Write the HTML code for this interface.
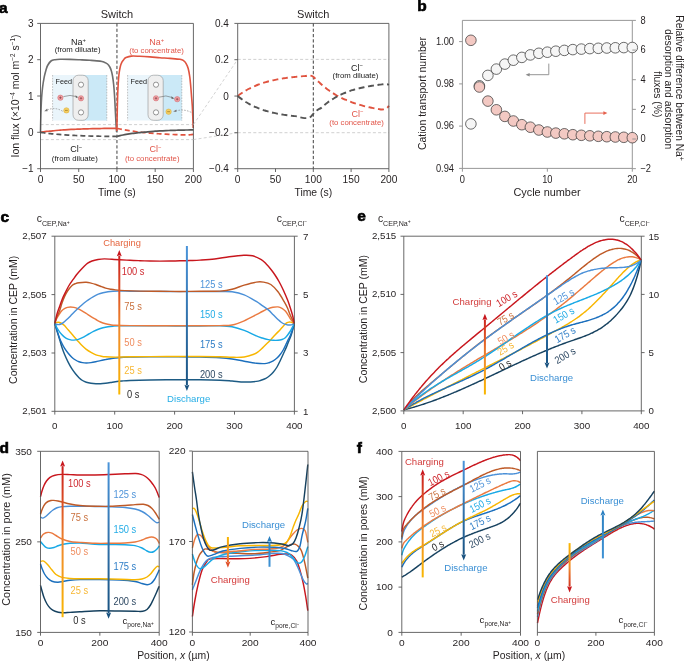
<!DOCTYPE html>
<html><head><meta charset="utf-8"><style>
html,body{margin:0;padding:0;background:#fff;}
svg{display:block;font-family:"Liberation Sans", sans-serif;will-change:transform;}
</style></head><body>
<svg width="685" height="662" viewBox="0 0 685 662">
<defs><linearGradient id="g1" gradientUnits="userSpaceOnUse" x1="119.3" y1="394.5" x2="119.3" y2="250.1"><stop offset="0" stop-color="#f9b700"/><stop offset="0.45" stop-color="#f08a2c"/><stop offset="1" stop-color="#c8161d"/></linearGradient>
<linearGradient id="g2" gradientUnits="userSpaceOnUse" x1="186.9" y1="246" x2="186.9" y2="391"><stop offset="0" stop-color="#4a94da"/><stop offset="1" stop-color="#17507e"/></linearGradient>
<linearGradient id="g3" gradientUnits="userSpaceOnUse" x1="484.9" y1="394.5" x2="484.9" y2="313.7"><stop offset="0" stop-color="#f9b700"/><stop offset="0.45" stop-color="#f08a2c"/><stop offset="1" stop-color="#c8161d"/></linearGradient>
<linearGradient id="g4" gradientUnits="userSpaceOnUse" x1="547" y1="275.3" x2="547" y2="368.6"><stop offset="0" stop-color="#4a94da"/><stop offset="1" stop-color="#17507e"/></linearGradient>
<linearGradient id="g5" gradientUnits="userSpaceOnUse" x1="62.6" y1="617.2" x2="62.6" y2="460.4"><stop offset="0" stop-color="#f9b700"/><stop offset="0.45" stop-color="#f08a2c"/><stop offset="1" stop-color="#c8161d"/></linearGradient>
<linearGradient id="g6" gradientUnits="userSpaceOnUse" x1="108.6" y1="462.3" x2="108.6" y2="618.8"><stop offset="0" stop-color="#4a94da"/><stop offset="1" stop-color="#17507e"/></linearGradient>
<linearGradient id="g7" gradientUnits="userSpaceOnUse" x1="227.9" y1="537" x2="227.9" y2="567.8"><stop offset="0" stop-color="#f9b700"/><stop offset="0.5" stop-color="#f08a2c"/><stop offset="1" stop-color="#e0502a"/></linearGradient>
<linearGradient id="g8" gradientUnits="userSpaceOnUse" x1="269.5" y1="566.8" x2="269.5" y2="535.9"><stop offset="0" stop-color="#3e92d4"/><stop offset="1" stop-color="#2a7fc0"/></linearGradient>
<linearGradient id="g9" gradientUnits="userSpaceOnUse" x1="422.7" y1="577.4" x2="422.7" y2="469.2"><stop offset="0" stop-color="#f9b700"/><stop offset="0.45" stop-color="#f08a2c"/><stop offset="1" stop-color="#c8161d"/></linearGradient>
<linearGradient id="g10" gradientUnits="userSpaceOnUse" x1="463.7" y1="460.8" x2="463.7" y2="560.5"><stop offset="0" stop-color="#4a94da"/><stop offset="1" stop-color="#17507e"/></linearGradient>
<linearGradient id="g11" gradientUnits="userSpaceOnUse" x1="569.6" y1="543.1" x2="569.6" y2="592.4"><stop offset="0" stop-color="#f9b700"/><stop offset="0.5" stop-color="#f08a2c"/><stop offset="1" stop-color="#c8161d"/></linearGradient>
<linearGradient id="g12" gradientUnits="userSpaceOnUse" x1="602.9" y1="558.4" x2="602.9" y2="509.4"><stop offset="0" stop-color="#3e92d4"/><stop offset="1" stop-color="#2a7fc0"/></linearGradient></defs>
<text x="-0.9" y="13.1" font-size="15.5" text-anchor="start" fill="#000" font-weight="bold" stroke="#000" stroke-width="0.6">a</text>
<line x1="116.95" y1="23.4" x2="116.95" y2="168.7" stroke="#2a2a2a" stroke-width="0.9" stroke-dasharray="3.2,2.1"/>
<line x1="40.5" y1="124.6" x2="193.4" y2="124.6" stroke="#c8c8c8" stroke-width="0.85" stroke-dasharray="3,2.2"/>
<line x1="40.5" y1="139.6" x2="193.4" y2="139.6" stroke="#c8c8c8" stroke-width="0.85" stroke-dasharray="3,2.2"/>
<rect x="52.6" y="75" width="54.2" height="45.5" fill="#eaf5fb"/>
<rect x="80.6" y="75" width="26.2" height="45.5" fill="#cbe9f7"/>
<line x1="52.6" y1="75" x2="52.6" y2="120.5" stroke="#9a9a9a" stroke-width="0.6" stroke-dasharray="1.6,1.2"/>
<line x1="106.8" y1="75" x2="106.8" y2="120.5" stroke="#9a9a9a" stroke-width="0.6" stroke-dasharray="1.6,1.2"/>
<rect x="73" y="75.2" width="15.2" height="45.1" rx="5.5" ry="5.5" fill="#efefef" stroke="#8a8a8a" stroke-width="0.55"/>
<text x="55.5" y="83.8" font-size="7.2" text-anchor="start" fill="#222" font-weight="normal">Feed</text>
<circle cx="81" cy="84.7" r="2.6" fill="#fff" stroke="#333" stroke-width="0.5"/>
<circle cx="81" cy="112.4" r="2.6" fill="#fff" stroke="#333" stroke-width="0.5"/>
<rect x="127.6" y="75" width="54.2" height="45.5" fill="#eaf5fb"/>
<rect x="155.6" y="75" width="26.2" height="45.5" fill="#cbe9f7"/>
<line x1="127.6" y1="75" x2="127.6" y2="120.5" stroke="#9a9a9a" stroke-width="0.6" stroke-dasharray="1.6,1.2"/>
<line x1="181.8" y1="75" x2="181.8" y2="120.5" stroke="#9a9a9a" stroke-width="0.6" stroke-dasharray="1.6,1.2"/>
<rect x="148" y="75.2" width="15.2" height="45.1" rx="5.5" ry="5.5" fill="#efefef" stroke="#8a8a8a" stroke-width="0.55"/>
<text x="130.5" y="83.8" font-size="7.2" text-anchor="start" fill="#222" font-weight="normal">Feed</text>
<circle cx="156" cy="84.7" r="2.6" fill="#fff" stroke="#333" stroke-width="0.5"/>
<circle cx="156" cy="112.4" r="2.6" fill="#fff" stroke="#333" stroke-width="0.5"/>
<circle cx="60.4" cy="97.7" r="2.65" fill="#f2a3a6" stroke="#c9555b" stroke-width="0.45"/>
<line x1="59.1" y1="97.7" x2="61.7" y2="97.7" stroke="#6a2428" stroke-width="0.5"/>
<line x1="60.4" y1="96.4" x2="60.4" y2="99" stroke="#6a2428" stroke-width="0.5"/>
<circle cx="81" cy="98.3" r="2.65" fill="#f2a3a6" stroke="#c9555b" stroke-width="0.45"/>
<line x1="79.7" y1="98.3" x2="82.3" y2="98.3" stroke="#6a2428" stroke-width="0.5"/>
<line x1="81" y1="97" x2="81" y2="99.6" stroke="#6a2428" stroke-width="0.5"/>
<circle cx="66.4" cy="110.4" r="2.7" fill="#f5cf63" stroke="#d4a32a" stroke-width="0.45"/>
<line x1="65" y1="110.4" x2="67.8" y2="110.4" stroke="#7a5a10" stroke-width="0.55"/>
<path d="M63.4,96.6 Q70,94.3 76.6,96.6" fill="none" stroke="#666" stroke-width="0.6"/>
<path d="M78.3,97.3 L75.5,95.3 L75.9,97.9 Z" fill="#666"/>
<path d="M62.6,111.2 Q55,106.5 46.5,110.2" fill="none" stroke="#777" stroke-width="0.6" stroke-dasharray="1.6,1.3"/>
<path d="M44.2,111.2 L47.2,108.6 L47.6,111.2 Z" fill="#777"/>
<circle cx="156" cy="98.3" r="2.65" fill="#f2a3a6" stroke="#c9555b" stroke-width="0.45"/>
<line x1="154.7" y1="98.3" x2="157.3" y2="98.3" stroke="#6a2428" stroke-width="0.5"/>
<line x1="156" y1="97" x2="156" y2="99.6" stroke="#6a2428" stroke-width="0.5"/>
<circle cx="177.2" cy="99.2" r="2.65" fill="#f2a3a6" stroke="#c9555b" stroke-width="0.45"/>
<line x1="175.9" y1="99.2" x2="178.5" y2="99.2" stroke="#6a2428" stroke-width="0.5"/>
<line x1="177.2" y1="97.9" x2="177.2" y2="100.5" stroke="#6a2428" stroke-width="0.5"/>
<circle cx="168.6" cy="111.7" r="2.7" fill="#f5cf63" stroke="#d4a32a" stroke-width="0.45"/>
<line x1="167.2" y1="111.7" x2="170" y2="111.7" stroke="#7a5a10" stroke-width="0.55"/>
<path d="M159,97.2 Q166,94.5 172.6,97.6" fill="none" stroke="#666" stroke-width="0.6"/>
<path d="M174.4,98.4 L171.4,96.2 L171.6,99 Z" fill="#666"/>
<path d="M191.2,112.4 Q184,108.6 175.4,111" fill="none" stroke="#777" stroke-width="0.6" stroke-dasharray="1.6,1.3"/>
<path d="M173.2,111.5 L176.4,109.4 L176.4,112.1 Z" fill="#777"/>
<path d="M40.5,132.3C40.53,130.58 40.6,126.05 40.7,122C40.8,117.95 40.95,112 41.1,108C41.25,104 41.37,101.33 41.6,98C41.83,94.67 42.07,91.47 42.5,88C42.93,84.53 43.62,80.2 44.2,77.2C44.78,74.2 45.43,71.95 46,70C46.57,68.05 46.77,67 47.6,65.5C48.43,64 49.77,61.97 51,61C52.23,60.03 53.5,59.98 55,59.7C56.5,59.42 57.5,59.35 60,59.3C62.5,59.25 66.67,59.32 70,59.4C73.33,59.48 76.67,59.65 80,59.8C83.33,59.95 86.67,60.08 90,60.3C93.33,60.52 97.63,60.78 100,61.1C102.37,61.42 102.95,61.72 104.2,62.2C105.45,62.68 106.57,63.2 107.5,64C108.43,64.8 109.15,65.83 109.8,67C110.45,68.17 110.93,69.42 111.4,71C111.87,72.58 112.23,74.33 112.6,76.5C112.97,78.67 113.28,80.92 113.6,84C113.92,87.08 114.22,90.67 114.5,95C114.78,99.33 115.05,105.17 115.3,110C115.55,114.83 115.78,120.33 116,124C116.22,127.67 116.5,130.67 116.6,132" fill="none" stroke="#6e6e6e" stroke-width="1.6" stroke-linecap="butt" stroke-linejoin="round"/>
<path d="M116.8,131C116.85,128.83 116.97,123.67 117.1,118C117.23,112.33 117.42,102.67 117.6,97C117.78,91.33 117.98,87.67 118.2,84C118.42,80.33 118.57,77.83 118.9,75C119.23,72.17 119.7,69.13 120.2,67C120.7,64.87 121.27,63.48 121.9,62.2C122.53,60.92 123.32,60.07 124,59.3C124.68,58.53 124.77,58.13 126,57.6C127.23,57.07 129.07,56.32 131.4,56.1C133.73,55.88 136.9,56.17 140,56.3C143.1,56.43 146.67,56.67 150,56.9C153.33,57.13 156.67,57.45 160,57.7C163.33,57.95 166.67,58.13 170,58.4C173.33,58.67 177.75,58.93 180,59.3C182.25,59.67 182.5,59.93 183.5,60.6C184.5,61.27 185.22,61.98 186,63.3C186.78,64.62 187.57,66.22 188.2,68.5C188.83,70.78 189.37,73.92 189.8,77C190.23,80.08 190.5,83.67 190.8,87C191.1,90.33 191.35,93.83 191.6,97C191.85,100.17 192.1,102.67 192.3,106C192.5,109.33 192.65,113.33 192.8,117C192.95,120.67 193.13,126.17 193.2,128" fill="none" stroke="#e0533f" stroke-width="1.6" stroke-linecap="butt" stroke-linejoin="round"/>
<path d="M40.5,132.3C41.01,132.23 42.54,131.99 43.56,131.85C44.58,131.71 45.6,131.58 46.62,131.45C47.64,131.33 48.65,131.21 49.67,131.1C50.69,130.98 51.71,130.88 52.73,130.78C53.75,130.67 54.77,130.58 55.79,130.49C56.81,130.4 57.83,130.31 58.85,130.23C59.87,130.15 60.89,130.08 61.91,130C62.93,129.93 63.94,129.86 64.96,129.8C65.98,129.73 67,129.67 68.02,129.62C69.04,129.56 70.06,129.5 71.08,129.45C72.1,129.4 73.12,129.35 74.14,129.3C75.16,129.26 76.18,129.21 77.2,129.17C78.22,129.13 79.23,129.09 80.25,129.05C81.27,129.02 82.29,128.98 83.31,128.95C84.33,128.92 85.35,128.88 86.37,128.86C87.39,128.83 88.41,128.8 89.43,128.77C90.45,128.74 91.47,128.72 92.49,128.7C93.51,128.67 94.52,128.65 95.54,128.63C96.56,128.61 97.58,128.59 98.6,128.57C99.62,128.55 100.64,128.53 101.66,128.51C102.68,128.5 103.7,128.48 104.72,128.46C105.74,128.45 106.76,128.44 107.78,128.42C108.8,128.41 109.81,128.39 110.83,128.38C111.85,128.37 112.87,128.36 113.89,128.35C114.91,128.34 116.44,128.32 116.95,128.32" fill="none" stroke="#e0533f" stroke-width="1.7" stroke-linecap="butt" stroke-linejoin="round"/>
<path d="M40.5,132.3C41.01,132.38 42.54,132.62 43.56,132.77C44.58,132.92 45.6,133.06 46.62,133.19C47.64,133.32 48.65,133.45 49.67,133.57C50.69,133.68 51.71,133.8 52.73,133.9C53.75,134.01 54.77,134.11 55.79,134.2C56.81,134.3 57.83,134.39 58.85,134.47C59.87,134.56 60.89,134.64 61.91,134.71C62.93,134.79 63.94,134.86 64.96,134.93C65.98,135 67,135.06 68.02,135.12C69.04,135.18 70.06,135.24 71.08,135.3C72.1,135.35 73.12,135.4 74.14,135.45C75.16,135.5 76.18,135.54 77.2,135.59C78.22,135.63 79.23,135.67 80.25,135.71C81.27,135.75 82.29,135.79 83.31,135.82C84.33,135.86 85.35,135.89 86.37,135.92C87.39,135.95 88.41,135.98 89.43,136.01C90.45,136.04 91.47,136.06 92.49,136.09C93.51,136.11 94.52,136.14 95.54,136.16C96.56,136.18 97.58,136.2 98.6,136.22C99.62,136.24 100.64,136.26 101.66,136.28C102.68,136.3 103.7,136.32 104.72,136.33C105.74,136.35 106.76,136.36 107.78,136.38C108.8,136.39 109.81,136.41 110.83,136.42C111.85,136.43 112.87,136.44 113.89,136.45C114.91,136.47 116.44,136.48 116.95,136.49" fill="none" stroke="#555" stroke-width="1.7" stroke-dasharray="5,3" stroke-linecap="butt" stroke-linejoin="round"/>
<path d="M116.95,128.38C117.46,128.49 118.99,128.82 120.01,129.03C121.03,129.23 122.05,129.43 123.07,129.62C124.09,129.81 125.1,129.99 126.12,130.16C127.14,130.33 128.16,130.5 129.18,130.66C130.2,130.82 131.22,130.97 132.24,131.11C133.26,131.26 134.28,131.39 135.3,131.53C136.32,131.66 137.34,131.78 138.36,131.91C139.38,132.03 140.39,132.14 141.41,132.25C142.43,132.36 143.45,132.47 144.47,132.57C145.49,132.67 146.51,132.77 147.53,132.86C148.55,132.96 149.57,133.04 150.59,133.13C151.61,133.21 152.63,133.29 153.65,133.37C154.67,133.45 155.68,133.52 156.7,133.59C157.72,133.67 158.74,133.73 159.76,133.8C160.78,133.86 161.8,133.93 162.82,133.99C163.84,134.04 164.86,134.1 165.88,134.16C166.9,134.21 167.92,134.26 168.94,134.31C169.96,134.36 170.97,134.41 171.99,134.45C173.01,134.5 174.03,134.54 175.05,134.59C176.07,134.63 177.09,134.67 178.11,134.71C179.13,134.74 180.15,134.78 181.17,134.81C182.19,134.85 183.21,134.88 184.23,134.91C185.25,134.95 186.26,135.04 187.28,135.01C188.3,134.98 189.32,134.82 190.34,134.73C191.36,134.63 192.89,134.49 193.4,134.44" fill="none" stroke="#e0533f" stroke-width="1.7" stroke-dasharray="5,3" stroke-linecap="butt" stroke-linejoin="round"/>
<path d="M116.95,136.29C117.46,136.18 118.99,135.82 120.01,135.6C121.03,135.38 122.05,135.17 123.07,134.98C124.09,134.78 125.1,134.59 126.12,134.42C127.14,134.24 128.16,134.07 129.18,133.91C130.2,133.75 131.22,133.6 132.24,133.46C133.26,133.31 134.28,133.18 135.3,133.05C136.32,132.92 137.34,132.79 138.36,132.68C139.38,132.56 140.39,132.45 141.41,132.35C142.43,132.24 143.45,132.14 144.47,132.05C145.49,131.95 146.51,131.86 147.53,131.78C148.55,131.69 149.57,131.61 150.59,131.54C151.61,131.46 152.63,131.39 153.65,131.32C154.67,131.25 155.68,131.19 156.7,131.12C157.72,131.06 158.74,131 159.76,130.95C160.78,130.89 161.8,130.84 162.82,130.79C163.84,130.74 164.86,130.69 165.88,130.65C166.9,130.6 167.92,130.56 168.94,130.52C169.96,130.48 170.97,130.44 171.99,130.4C173.01,130.37 174.03,130.33 175.05,130.3C176.07,130.27 177.09,130.23 178.11,130.2C179.13,130.17 180.15,130.15 181.17,130.12C182.19,130.09 183.21,130.07 184.23,130.04C185.25,130.02 186.26,130 187.28,129.98C188.3,129.95 189.32,129.93 190.34,129.91C191.36,129.89 192.89,129.87 193.4,129.86" fill="none" stroke="#555" stroke-width="1.7" stroke-linecap="butt" stroke-linejoin="round"/>
<line x1="40.5" y1="23.4" x2="193.4" y2="23.4" stroke="#4d4d4d" stroke-width="0.85"/>
<line x1="40.5" y1="168.7" x2="193.4" y2="168.7" stroke="#4d4d4d" stroke-width="0.85"/>
<line x1="40.5" y1="23.4" x2="40.5" y2="168.7" stroke="#4d4d4d" stroke-width="0.85"/>
<line x1="193.4" y1="23.4" x2="193.4" y2="168.7" stroke="#4d4d4d" stroke-width="0.85"/>
<line x1="37.2" y1="23.4" x2="40.5" y2="23.4" stroke="#4d4d4d" stroke-width="0.85"/>
<line x1="37.2" y1="59.7" x2="40.5" y2="59.7" stroke="#4d4d4d" stroke-width="0.85"/>
<line x1="37.2" y1="96" x2="40.5" y2="96" stroke="#4d4d4d" stroke-width="0.85"/>
<line x1="37.2" y1="132.3" x2="40.5" y2="132.3" stroke="#4d4d4d" stroke-width="0.85"/>
<line x1="37.2" y1="168.7" x2="40.5" y2="168.7" stroke="#4d4d4d" stroke-width="0.85"/>
<line x1="40.5" y1="168.7" x2="40.5" y2="172" stroke="#4d4d4d" stroke-width="0.85"/>
<line x1="78.72" y1="168.7" x2="78.72" y2="172" stroke="#4d4d4d" stroke-width="0.85"/>
<line x1="116.95" y1="168.7" x2="116.95" y2="172" stroke="#4d4d4d" stroke-width="0.85"/>
<line x1="155.18" y1="168.7" x2="155.18" y2="172" stroke="#4d4d4d" stroke-width="0.85"/>
<line x1="193.4" y1="168.7" x2="193.4" y2="172" stroke="#4d4d4d" stroke-width="0.85"/>
<text x="33.6" y="26.9" font-size="10.2" text-anchor="end" fill="#231f20" font-weight="normal" textLength="5.56" lengthAdjust="spacingAndGlyphs">3</text>
<text x="33.6" y="63.2" font-size="10.2" text-anchor="end" fill="#231f20" font-weight="normal" textLength="5.56" lengthAdjust="spacingAndGlyphs">2</text>
<text x="33.6" y="99.5" font-size="10.2" text-anchor="end" fill="#231f20" font-weight="normal" textLength="5.56" lengthAdjust="spacingAndGlyphs">1</text>
<text x="33.6" y="135.8" font-size="10.2" text-anchor="end" fill="#231f20" font-weight="normal" textLength="5.56" lengthAdjust="spacingAndGlyphs">0</text>
<text x="33.6" y="172.2" font-size="10.2" text-anchor="end" fill="#231f20" font-weight="normal" textLength="11.4" lengthAdjust="spacingAndGlyphs">−1</text>
<text x="40.5" y="182.7" font-size="10.2" text-anchor="middle" fill="#231f20" font-weight="normal" textLength="5.67" lengthAdjust="spacingAndGlyphs">0</text>
<text x="78.72" y="182.7" font-size="10.2" text-anchor="middle" fill="#231f20" font-weight="normal" textLength="11.35" lengthAdjust="spacingAndGlyphs">50</text>
<text x="116.95" y="182.7" font-size="10.2" text-anchor="middle" fill="#231f20" font-weight="normal" textLength="17.02" lengthAdjust="spacingAndGlyphs">100</text>
<text x="155.18" y="182.7" font-size="10.2" text-anchor="middle" fill="#231f20" font-weight="normal" textLength="17.02" lengthAdjust="spacingAndGlyphs">150</text>
<text x="193.4" y="182.7" font-size="10.2" text-anchor="middle" fill="#231f20" font-weight="normal" textLength="17.02" lengthAdjust="spacingAndGlyphs">200</text>
<text x="116.95" y="195.8" font-size="10.4" text-anchor="middle" fill="#231f20" font-weight="normal">Time (s)</text>
<text x="116.95" y="18.2" font-size="11" text-anchor="middle" fill="#231f20" font-weight="normal">Switch</text>
<text transform="translate(18.6,96) rotate(-90)" font-size="10.5" text-anchor="middle" fill="#231f20">Ion flux (×10<tspan dy="-3.3" font-size="6.3">−4</tspan><tspan dy="3.3"> mol m</tspan><tspan dy="-3.3" font-size="6.3">−2</tspan><tspan dy="3.3"> s</tspan><tspan dy="-3.3" font-size="6.3">−1</tspan><tspan dy="3.3">)</tspan></text>
<text x="78.4" y="44.7" font-size="9" text-anchor="middle" fill="#222">Na<tspan dy="-3.2" font-size="5.8">+</tspan></text>
<text x="77.6" y="52.2" font-size="7.8" text-anchor="middle" fill="#222" font-weight="normal">(from diluate)</text>
<text x="156.6" y="44.9" font-size="9" text-anchor="middle" fill="#e2564a">Na<tspan dy="-3.2" font-size="5.8">+</tspan></text>
<text x="156.6" y="52.9" font-size="7.8" text-anchor="middle" fill="#e2564a" font-weight="normal">(to concentrate)</text>
<text x="76.3" y="151.9" font-size="9" text-anchor="middle" fill="#222">Cl<tspan dy="-3.2" font-size="5.8">−</tspan></text>
<text x="74.8" y="161.2" font-size="7.8" text-anchor="middle" fill="#222" font-weight="normal">(from diluate)</text>
<text x="155.4" y="151.9" font-size="9" text-anchor="middle" fill="#e2564a">Cl<tspan dy="-3.2" font-size="5.8">−</tspan></text>
<text x="152.2" y="161.3" font-size="7.8" text-anchor="middle" fill="#e2564a" font-weight="normal">(to concentrate)</text>
<line x1="193.4" y1="124.6" x2="237.7" y2="59.4" stroke="#c8c8c8" stroke-width="0.8" stroke-dasharray="3,2.2"/>
<line x1="193.4" y1="139.6" x2="237.7" y2="132.7" stroke="#c8c8c8" stroke-width="0.8" stroke-dasharray="3,2.2"/>
<line x1="237.7" y1="59.4" x2="388.9" y2="59.4" stroke="#c8c8c8" stroke-width="0.85" stroke-dasharray="3,2.2"/>
<line x1="237.7" y1="132.7" x2="388.9" y2="132.7" stroke="#c8c8c8" stroke-width="0.85" stroke-dasharray="3,2.2"/>
<line x1="313.3" y1="23.4" x2="313.3" y2="168.7" stroke="#2a2a2a" stroke-width="0.9" stroke-dasharray="3.2,2.1"/>
<path d="M237.7,96.05C238.08,95.76 239.21,94.89 239.97,94.34C240.72,93.79 241.48,93.26 242.24,92.76C242.99,92.25 243.75,91.77 244.5,91.3C245.26,90.84 246.02,90.39 246.77,89.96C247.53,89.53 248.28,89.12 249.04,88.72C249.8,88.32 250.55,87.94 251.31,87.58C252.06,87.21 252.82,86.86 253.58,86.53C254.33,86.19 255.09,85.87 255.84,85.56C256.6,85.24 257.36,84.95 258.11,84.66C258.87,84.37 259.62,84.1 260.38,83.83C261.14,83.57 261.89,83.32 262.65,83.07C263.4,82.83 264.16,82.6 264.92,82.37C265.67,82.15 266.43,81.93 267.18,81.72C267.94,81.52 268.7,81.32 269.45,81.13C270.21,80.94 270.96,80.75 271.72,80.58C272.48,80.4 273.23,80.23 273.99,80.07C274.74,79.91 275.5,79.75 276.26,79.6C277.01,79.45 277.77,79.31 278.52,79.17C279.28,79.03 280.04,78.9 280.79,78.77C281.55,78.64 282.3,78.52 283.06,78.4C283.82,78.29 284.57,78.17 285.33,78.07C286.08,77.96 286.84,77.85 287.6,77.75C288.35,77.65 289.11,77.56 289.86,77.47C290.62,77.37 291.38,77.29 292.13,77.2C292.89,77.12 293.64,77.04 294.4,76.96C295.16,76.88 295.91,76.8 296.67,76.73C297.42,76.66 298.18,76.59 298.94,76.52C299.69,76.46 300.45,76.39 301.2,76.33C301.96,76.27 302.72,76.21 303.47,76.15C304.23,76.1 304.98,76.1 305.74,75.99C306.5,75.89 307.25,75.59 308.01,75.53C308.76,75.46 309.52,75.5 310.28,75.62C311.03,75.74 311.91,75.95 312.54,76.26C313.17,76.56 313.55,76.98 314.06,77.45C314.56,77.92 314.94,78.5 315.57,79.1C316.2,79.7 317.08,80.37 317.84,81.06C318.59,81.74 319.35,82.53 320.1,83.22C320.86,83.92 321.62,84.6 322.37,85.25C323.13,85.91 323.88,86.54 324.64,87.15C325.4,87.76 326.15,88.35 326.91,88.93C327.66,89.5 328.42,90.05 329.18,90.59C329.93,91.12 330.69,91.64 331.44,92.14C332.2,92.64 332.96,93.13 333.71,93.6C334.47,94.07 335.22,94.52 335.98,94.96C336.74,95.4 337.49,95.82 338.25,96.23C339,96.64 339.76,97.04 340.52,97.42C341.27,97.8 342.03,98.17 342.78,98.53C343.54,98.89 344.3,99.24 345.05,99.58C345.81,99.91 346.56,100.24 347.32,100.55C348.08,100.86 348.83,101.17 349.59,101.46C350.34,101.76 351.1,102.04 351.86,102.31C352.61,102.59 353.37,102.85 354.12,103.11C354.88,103.37 355.64,103.62 356.39,103.86C357.15,104.1 357.9,104.33 358.66,104.56C359.42,104.78 360.17,105 360.93,105.21C361.68,105.42 362.44,105.62 363.2,105.82C363.95,106.02 364.71,106.21 365.46,106.39C366.22,106.58 366.98,106.76 367.73,106.93C368.49,107.1 369.24,107.27 370,107.43C370.76,107.59 371.51,107.75 372.27,107.9C373.02,108.05 373.78,108.19 374.54,108.33C375.29,108.48 376.05,108.61 376.8,108.74C377.56,108.88 378.32,109 379.07,109.13C379.83,109.25 380.58,109.44 381.34,109.49C382.1,109.53 382.85,109.52 383.61,109.39C384.36,109.26 385.25,108.99 385.88,108.69C386.51,108.39 386.88,108.08 387.39,107.59C387.89,107.11 388.65,106.07 388.9,105.76" fill="none" stroke="#e0533f" stroke-width="1.9" stroke-dasharray="6,3.6" stroke-linecap="butt" stroke-linejoin="round"/>
<path d="M237.7,96.05C238.08,96.36 239.21,97.3 239.97,97.88C240.72,98.47 241.48,99.03 242.24,99.57C242.99,100.11 243.75,100.62 244.5,101.12C245.26,101.61 246.02,102.09 246.77,102.54C247.53,103 248.28,103.44 249.04,103.86C249.8,104.28 250.55,104.68 251.31,105.06C252.06,105.45 252.82,105.82 253.58,106.17C254.33,106.53 255.09,106.87 255.84,107.2C256.6,107.52 257.36,107.84 258.11,108.14C258.87,108.44 259.62,108.72 260.38,109C261.14,109.28 261.89,109.54 262.65,109.8C263.4,110.05 264.16,110.3 264.92,110.53C265.67,110.76 266.43,110.99 267.18,111.2C267.94,111.42 268.7,111.62 269.45,111.82C270.21,112.02 270.96,112.21 271.72,112.39C272.48,112.58 273.23,112.75 273.99,112.92C274.74,113.09 275.5,113.25 276.26,113.4C277.01,113.56 277.77,113.7 278.52,113.85C279.28,113.99 280.04,114.12 280.79,114.25C281.55,114.38 282.3,114.51 283.06,114.63C283.82,114.75 284.57,114.87 285.33,114.98C286.08,115.09 286.84,115.19 287.6,115.29C288.35,115.4 289.11,115.49 289.86,115.59C290.62,115.68 291.38,115.77 292.13,115.86C292.89,115.94 293.64,116.02 294.4,116.1C295.16,116.18 295.79,116.15 296.67,116.33C297.55,116.52 298.68,116.96 299.69,117.22C300.7,117.47 301.71,117.7 302.72,117.86C303.72,118.01 304.73,118.15 305.74,118.13C306.75,118.12 307.88,118.04 308.76,117.77C309.65,117.49 310.28,117.14 311.03,116.48C311.79,115.83 312.54,114.65 313.3,113.83C314.06,113 314.81,112.22 315.57,111.53C316.32,110.85 316.95,110.27 317.84,109.7C318.72,109.13 319.98,108.71 320.86,108.11C321.74,107.5 322.37,106.72 323.13,106.07C323.88,105.41 324.64,104.78 325.4,104.18C326.15,103.57 326.91,103 327.66,102.44C328.42,101.88 329.18,101.34 329.93,100.82C330.69,100.31 331.44,99.81 332.2,99.34C332.96,98.86 333.71,98.4 334.47,97.96C335.22,97.52 335.98,97.1 336.74,96.69C337.49,96.28 338.25,95.89 339,95.51C339.76,95.14 340.52,94.77 341.27,94.43C342.03,94.08 342.78,93.74 343.54,93.42C344.3,93.1 345.05,92.79 345.81,92.5C346.56,92.2 347.32,91.91 348.08,91.64C348.83,91.36 349.59,91.1 350.34,90.85C351.1,90.59 351.86,90.35 352.61,90.11C353.37,89.88 354.12,89.66 354.88,89.44C355.64,89.22 356.39,89.01 357.15,88.81C357.9,88.61 358.66,88.42 359.42,88.24C360.17,88.05 360.93,87.87 361.68,87.7C362.44,87.53 363.2,87.37 363.95,87.21C364.71,87.05 365.46,86.9 366.22,86.75C366.98,86.61 367.73,86.47 368.49,86.33C369.24,86.2 370,86.07 370.76,85.94C371.51,85.82 372.27,85.7 373.02,85.58C373.78,85.47 374.54,85.36 375.29,85.25C376.05,85.15 376.8,85.04 377.56,84.94C378.32,84.85 379.07,84.75 379.83,84.66C380.58,84.57 381.21,84.5 382.1,84.4C382.98,84.3 384.24,84.08 385.12,84.05C386,84.02 386.76,84.09 387.39,84.23C388.02,84.37 388.65,84.76 388.9,84.87" fill="none" stroke="#555" stroke-width="1.9" stroke-dasharray="6,3.6" stroke-linecap="butt" stroke-linejoin="round"/>
<line x1="237.7" y1="23.4" x2="388.9" y2="23.4" stroke="#4d4d4d" stroke-width="0.85"/>
<line x1="237.7" y1="168.7" x2="388.9" y2="168.7" stroke="#4d4d4d" stroke-width="0.85"/>
<line x1="237.7" y1="23.4" x2="237.7" y2="168.7" stroke="#4d4d4d" stroke-width="0.85"/>
<line x1="388.9" y1="23.4" x2="388.9" y2="168.7" stroke="#4d4d4d" stroke-width="0.85"/>
<line x1="234.4" y1="23.4" x2="237.7" y2="23.4" stroke="#4d4d4d" stroke-width="0.85"/>
<line x1="234.4" y1="59.7" x2="237.7" y2="59.7" stroke="#4d4d4d" stroke-width="0.85"/>
<line x1="234.4" y1="96.05" x2="237.7" y2="96.05" stroke="#4d4d4d" stroke-width="0.85"/>
<line x1="234.4" y1="132.7" x2="237.7" y2="132.7" stroke="#4d4d4d" stroke-width="0.85"/>
<line x1="234.4" y1="168.7" x2="237.7" y2="168.7" stroke="#4d4d4d" stroke-width="0.85"/>
<line x1="237.7" y1="168.7" x2="237.7" y2="172" stroke="#4d4d4d" stroke-width="0.85"/>
<line x1="275.5" y1="168.7" x2="275.5" y2="172" stroke="#4d4d4d" stroke-width="0.85"/>
<line x1="313.3" y1="168.7" x2="313.3" y2="172" stroke="#4d4d4d" stroke-width="0.85"/>
<line x1="351.1" y1="168.7" x2="351.1" y2="172" stroke="#4d4d4d" stroke-width="0.85"/>
<line x1="388.9" y1="168.7" x2="388.9" y2="172" stroke="#4d4d4d" stroke-width="0.85"/>
<text x="228.8" y="26.9" font-size="10.2" text-anchor="end" fill="#231f20" font-weight="normal" textLength="13.9" lengthAdjust="spacingAndGlyphs">0.4</text>
<text x="228.8" y="63.2" font-size="10.2" text-anchor="end" fill="#231f20" font-weight="normal" textLength="13.9" lengthAdjust="spacingAndGlyphs">0.2</text>
<text x="228.8" y="99.55" font-size="10.2" text-anchor="end" fill="#231f20" font-weight="normal" textLength="5.56" lengthAdjust="spacingAndGlyphs">0</text>
<text x="228.8" y="136.2" font-size="10.2" text-anchor="end" fill="#231f20" font-weight="normal" textLength="19.74" lengthAdjust="spacingAndGlyphs">−0.2</text>
<text x="228.8" y="172.2" font-size="10.2" text-anchor="end" fill="#231f20" font-weight="normal" textLength="19.74" lengthAdjust="spacingAndGlyphs">−0.4</text>
<text x="237.7" y="182.7" font-size="10.2" text-anchor="middle" fill="#231f20" font-weight="normal" textLength="5.67" lengthAdjust="spacingAndGlyphs">0</text>
<text x="275.5" y="182.7" font-size="10.2" text-anchor="middle" fill="#231f20" font-weight="normal" textLength="11.35" lengthAdjust="spacingAndGlyphs">50</text>
<text x="313.3" y="182.7" font-size="10.2" text-anchor="middle" fill="#231f20" font-weight="normal" textLength="17.02" lengthAdjust="spacingAndGlyphs">100</text>
<text x="351.1" y="182.7" font-size="10.2" text-anchor="middle" fill="#231f20" font-weight="normal" textLength="17.02" lengthAdjust="spacingAndGlyphs">150</text>
<text x="388.9" y="182.7" font-size="10.2" text-anchor="middle" fill="#231f20" font-weight="normal" textLength="17.02" lengthAdjust="spacingAndGlyphs">200</text>
<text x="313.3" y="195.8" font-size="10.4" text-anchor="middle" fill="#231f20" font-weight="normal">Time (s)</text>
<text x="313.3" y="18.2" font-size="11" text-anchor="middle" fill="#231f20" font-weight="normal">Switch</text>
<text x="357" y="70.6" font-size="9" text-anchor="middle" fill="#222">Cl<tspan dy="-3.2" font-size="5.8">−</tspan></text>
<text x="355.5" y="78.1" font-size="7.8" text-anchor="middle" fill="#222" font-weight="normal">(from diluate)</text>
<text x="357.5" y="116.6" font-size="9" text-anchor="middle" fill="#e2564a">Cl<tspan dy="-3.2" font-size="5.8">−</tspan></text>
<text x="356.6" y="124.9" font-size="7.8" text-anchor="middle" fill="#e2564a" font-weight="normal">(to concentrate)</text>
<text x="417.2" y="11.3" font-size="15.5" text-anchor="start" fill="#000" font-weight="bold" stroke="#000" stroke-width="0.6">b</text>
<line x1="462.4" y1="20.4" x2="632.3" y2="20.4" stroke="#8c8c8c" stroke-width="0.9"/>
<line x1="462.4" y1="168.4" x2="632.3" y2="168.4" stroke="#8c8c8c" stroke-width="0.9"/>
<line x1="462.4" y1="20.4" x2="462.4" y2="168.4" stroke="#8c8c8c" stroke-width="0.9"/>
<line x1="632.3" y1="20.4" x2="632.3" y2="168.4" stroke="#8c8c8c" stroke-width="0.9"/>
<circle cx="470.89" cy="123.9" r="5.3" fill="#f6f6f6" stroke="#2e2e2e" stroke-width="0.7"/>
<circle cx="479.39" cy="85.8" r="5.3" fill="#f6f6f6" stroke="#2e2e2e" stroke-width="0.7"/>
<circle cx="487.88" cy="75.4" r="5.3" fill="#f6f6f6" stroke="#2e2e2e" stroke-width="0.7"/>
<circle cx="496.38" cy="69.1" r="5.3" fill="#f6f6f6" stroke="#2e2e2e" stroke-width="0.7"/>
<circle cx="504.88" cy="64.1" r="5.3" fill="#f6f6f6" stroke="#2e2e2e" stroke-width="0.7"/>
<circle cx="513.37" cy="60.2" r="5.3" fill="#f6f6f6" stroke="#2e2e2e" stroke-width="0.7"/>
<circle cx="521.87" cy="57.4" r="5.3" fill="#f6f6f6" stroke="#2e2e2e" stroke-width="0.7"/>
<circle cx="530.36" cy="54.9" r="5.3" fill="#f6f6f6" stroke="#2e2e2e" stroke-width="0.7"/>
<circle cx="538.86" cy="53.3" r="5.3" fill="#f6f6f6" stroke="#2e2e2e" stroke-width="0.7"/>
<circle cx="547.35" cy="52.2" r="5.3" fill="#f6f6f6" stroke="#2e2e2e" stroke-width="0.7"/>
<circle cx="555.84" cy="51.2" r="5.3" fill="#f6f6f6" stroke="#2e2e2e" stroke-width="0.7"/>
<circle cx="564.34" cy="50.4" r="5.3" fill="#f6f6f6" stroke="#2e2e2e" stroke-width="0.7"/>
<circle cx="572.83" cy="49.6" r="5.3" fill="#f6f6f6" stroke="#2e2e2e" stroke-width="0.7"/>
<circle cx="581.33" cy="49.1" r="5.3" fill="#f6f6f6" stroke="#2e2e2e" stroke-width="0.7"/>
<circle cx="589.82" cy="48.6" r="5.3" fill="#f6f6f6" stroke="#2e2e2e" stroke-width="0.7"/>
<circle cx="598.32" cy="48.3" r="5.3" fill="#f6f6f6" stroke="#2e2e2e" stroke-width="0.7"/>
<circle cx="606.81" cy="48" r="5.3" fill="#f6f6f6" stroke="#2e2e2e" stroke-width="0.7"/>
<circle cx="615.31" cy="47.8" r="5.3" fill="#f6f6f6" stroke="#2e2e2e" stroke-width="0.7"/>
<circle cx="623.8" cy="47.6" r="5.3" fill="#f6f6f6" stroke="#2e2e2e" stroke-width="0.7"/>
<circle cx="632.3" cy="47.5" r="5.3" fill="#f6f6f6" stroke="#2e2e2e" stroke-width="0.7"/>
<circle cx="470.89" cy="40.3" r="5.3" fill="#f3c9c3" stroke="#2e2e2e" stroke-width="0.7"/>
<circle cx="479.39" cy="87" r="5.3" fill="#f3c9c3" stroke="#2e2e2e" stroke-width="0.7"/>
<circle cx="487.88" cy="101.1" r="5.3" fill="#f3c9c3" stroke="#2e2e2e" stroke-width="0.7"/>
<circle cx="496.38" cy="109.8" r="5.3" fill="#f3c9c3" stroke="#2e2e2e" stroke-width="0.7"/>
<circle cx="504.88" cy="116.4" r="5.3" fill="#f3c9c3" stroke="#2e2e2e" stroke-width="0.7"/>
<circle cx="513.37" cy="121" r="5.3" fill="#f3c9c3" stroke="#2e2e2e" stroke-width="0.7"/>
<circle cx="521.87" cy="124.7" r="5.3" fill="#f3c9c3" stroke="#2e2e2e" stroke-width="0.7"/>
<circle cx="530.36" cy="127.2" r="5.3" fill="#f3c9c3" stroke="#2e2e2e" stroke-width="0.7"/>
<circle cx="538.86" cy="130" r="5.3" fill="#f3c9c3" stroke="#2e2e2e" stroke-width="0.7"/>
<circle cx="547.35" cy="132" r="5.3" fill="#f3c9c3" stroke="#2e2e2e" stroke-width="0.7"/>
<circle cx="555.84" cy="133.1" r="5.3" fill="#f3c9c3" stroke="#2e2e2e" stroke-width="0.7"/>
<circle cx="564.34" cy="133.8" r="5.3" fill="#f3c9c3" stroke="#2e2e2e" stroke-width="0.7"/>
<circle cx="572.83" cy="134.7" r="5.3" fill="#f3c9c3" stroke="#2e2e2e" stroke-width="0.7"/>
<circle cx="581.33" cy="135.3" r="5.3" fill="#f3c9c3" stroke="#2e2e2e" stroke-width="0.7"/>
<circle cx="589.82" cy="135.8" r="5.3" fill="#f3c9c3" stroke="#2e2e2e" stroke-width="0.7"/>
<circle cx="598.32" cy="136.3" r="5.3" fill="#f3c9c3" stroke="#2e2e2e" stroke-width="0.7"/>
<circle cx="606.81" cy="136.7" r="5.3" fill="#f3c9c3" stroke="#2e2e2e" stroke-width="0.7"/>
<circle cx="615.31" cy="137" r="5.3" fill="#f3c9c3" stroke="#2e2e2e" stroke-width="0.7"/>
<circle cx="623.8" cy="137.3" r="5.3" fill="#f3c9c3" stroke="#2e2e2e" stroke-width="0.7"/>
<circle cx="632.3" cy="137.7" r="5.3" fill="#f3c9c3" stroke="#2e2e2e" stroke-width="0.7"/>
<line x1="459.1" y1="41.6" x2="462.4" y2="41.6" stroke="#8c8c8c" stroke-width="0.9"/>
<line x1="459.1" y1="83.9" x2="462.4" y2="83.9" stroke="#8c8c8c" stroke-width="0.9"/>
<line x1="459.1" y1="126.1" x2="462.4" y2="126.1" stroke="#8c8c8c" stroke-width="0.9"/>
<line x1="459.1" y1="168.4" x2="462.4" y2="168.4" stroke="#8c8c8c" stroke-width="0.9"/>
<text x="454" y="44.8" font-size="10.04" text-anchor="end" fill="#231f20" font-weight="normal" textLength="18.1" lengthAdjust="spacingAndGlyphs">1.00</text>
<text x="454" y="87.1" font-size="10.04" text-anchor="end" fill="#231f20" font-weight="normal" textLength="18.1" lengthAdjust="spacingAndGlyphs">0.98</text>
<text x="454" y="129.3" font-size="10.04" text-anchor="end" fill="#231f20" font-weight="normal" textLength="18.1" lengthAdjust="spacingAndGlyphs">0.96</text>
<text x="454" y="171.6" font-size="10.04" text-anchor="end" fill="#231f20" font-weight="normal" textLength="18.1" lengthAdjust="spacingAndGlyphs">0.94</text>
<line x1="632.3" y1="20.4" x2="635.9" y2="20.4" stroke="#8c8c8c" stroke-width="0.9"/>
<line x1="632.3" y1="50.05" x2="635.9" y2="50.05" stroke="#8c8c8c" stroke-width="0.9"/>
<line x1="632.3" y1="79.7" x2="635.9" y2="79.7" stroke="#8c8c8c" stroke-width="0.9"/>
<line x1="632.3" y1="109.35" x2="635.9" y2="109.35" stroke="#8c8c8c" stroke-width="0.9"/>
<line x1="632.3" y1="139" x2="635.9" y2="139" stroke="#8c8c8c" stroke-width="0.9"/>
<line x1="632.3" y1="168.65" x2="635.9" y2="168.65" stroke="#8c8c8c" stroke-width="0.9"/>
<text x="640.4" y="23.6" font-size="10.04" text-anchor="start" fill="#231f20" font-weight="normal" textLength="5.17" lengthAdjust="spacingAndGlyphs">8</text>
<text x="640.4" y="53.25" font-size="10.04" text-anchor="start" fill="#231f20" font-weight="normal" textLength="5.17" lengthAdjust="spacingAndGlyphs">6</text>
<text x="640.4" y="82.9" font-size="10.04" text-anchor="start" fill="#231f20" font-weight="normal" textLength="5.17" lengthAdjust="spacingAndGlyphs">4</text>
<text x="640.4" y="112.55" font-size="10.04" text-anchor="start" fill="#231f20" font-weight="normal" textLength="5.17" lengthAdjust="spacingAndGlyphs">2</text>
<text x="640.4" y="142.2" font-size="10.04" text-anchor="start" fill="#231f20" font-weight="normal" textLength="5.17" lengthAdjust="spacingAndGlyphs">0</text>
<text x="640.4" y="171.85" font-size="10.04" text-anchor="start" fill="#231f20" font-weight="normal" textLength="10.6" lengthAdjust="spacingAndGlyphs">−2</text>
<line x1="462.4" y1="168.4" x2="462.4" y2="171.7" stroke="#8c8c8c" stroke-width="0.9"/>
<line x1="547.35" y1="168.4" x2="547.35" y2="171.7" stroke="#8c8c8c" stroke-width="0.9"/>
<line x1="632.3" y1="168.4" x2="632.3" y2="171.7" stroke="#8c8c8c" stroke-width="0.9"/>
<text x="462.4" y="182.6" font-size="10.04" text-anchor="middle" fill="#231f20" font-weight="normal" textLength="5.17" lengthAdjust="spacingAndGlyphs">0</text>
<text x="547.35" y="182.6" font-size="10.04" text-anchor="middle" fill="#231f20" font-weight="normal" textLength="10.34" lengthAdjust="spacingAndGlyphs">10</text>
<text x="632.3" y="182.6" font-size="10.04" text-anchor="middle" fill="#231f20" font-weight="normal" textLength="10.34" lengthAdjust="spacingAndGlyphs">20</text>
<text x="547" y="196.3" font-size="10.9" text-anchor="middle" fill="#231f20" font-weight="normal">Cycle number</text>
<text x="426.4" y="93.5" font-size="10.5" text-anchor="middle" fill="#231f20" font-weight="normal" transform="rotate(-90 426.4 93.5)">Cation transport number</text>
<text transform="translate(675.8,88.0) rotate(90)" font-size="10.2" text-anchor="middle" fill="#231f20">Relative difference between Na<tspan dy="-3.2" font-size="6.8">+</tspan></text>
<text x="0" y="0" font-size="10.4" text-anchor="middle" fill="#231f20" font-weight="normal" transform="translate(664.8,89.1) rotate(90)">desorption and adsorption</text>
<text x="0" y="0" font-size="10.4" text-anchor="middle" fill="#231f20" font-weight="normal" transform="translate(654.3,94.4) rotate(90)">fluxes (%)</text>
<path d="M548.8,63.6 V74.7 H528.5" fill="none" stroke="#8a8a8a" stroke-width="0.9"/>
<path d="M525.6,74.7 L529.6,72.9 L529.6,76.5 Z" fill="#8a8a8a"/>
<path d="M584.9,123.9 V113.1 H604.5" fill="none" stroke="#e5604c" stroke-width="0.9"/>
<path d="M607.4,113.1 L603.4,111.3 L603.4,114.9 Z" fill="#e5604c"/>
<text x="0.4" y="221.6" font-size="15.5" text-anchor="start" fill="#000" font-weight="bold" stroke="#000" stroke-width="0.6">c</text>
<path d="M54.8,323.3C55.17,324.58 56.18,328.27 57,331C57.82,333.73 58.87,336.95 59.7,339.7C60.53,342.45 61.2,345.08 62,347.5C62.8,349.92 63.5,351.82 64.5,354.2C65.5,356.58 66.78,359.38 68,361.8C69.22,364.22 70.55,366.7 71.8,368.7C73.05,370.7 74.3,372.3 75.5,373.8C76.7,375.3 77.83,376.58 79,377.7C80.17,378.82 81.28,379.75 82.5,380.5C83.72,381.25 84.88,381.73 86.3,382.2C87.72,382.67 89.4,383.03 91,383.3C92.6,383.57 94.32,383.73 95.9,383.8C97.48,383.87 98.88,383.8 100.5,383.7C102.12,383.6 103.93,383.4 105.6,383.2C107.27,383 108.88,382.75 110.5,382.5C112.12,382.25 113.38,381.95 115.3,381.7C117.22,381.45 119.55,381.2 122,381C124.45,380.8 125.33,380.67 130,380.5C134.67,380.33 142.5,380.12 150,380C157.5,379.88 166.67,379.83 175,379.8C183.33,379.77 192.5,379.73 200,379.8C207.5,379.87 214.65,380 220,380.2C225.35,380.4 228.07,380.7 232.1,381C236.13,381.3 240.17,381.93 244.2,382C248.23,382.07 253.5,381.7 256.3,381.4C259.1,381.1 259.4,380.72 261,380.2C262.6,379.68 264.47,379.03 265.9,378.3C267.33,377.57 268.38,376.8 269.6,375.8C270.82,374.8 271.97,373.77 273.2,372.3C274.43,370.83 275.8,369.02 277,367C278.2,364.98 279.32,362.45 280.4,360.2C281.48,357.95 282.48,355.72 283.5,353.5C284.52,351.28 285.58,349.07 286.5,346.9C287.42,344.73 288.2,342.52 289,340.5C289.8,338.48 290.4,337.63 291.3,334.8C292.2,331.97 293.88,325.38 294.4,323.5" fill="none" stroke="#1d5b84" stroke-width="1.45" stroke-linecap="butt" stroke-linejoin="round"/>
<path d="M54.8,323.3C55.17,324.5 56.18,327.97 57,330.5C57.82,333.03 58.87,336.33 59.7,338.5C60.53,340.67 61.2,341.9 62,343.5C62.8,345.1 63.5,346.52 64.5,348.1C65.5,349.68 66.78,351.48 68,353C69.22,354.52 70.55,356.03 71.8,357.2C73.05,358.37 74.3,359.25 75.5,360C76.7,360.75 77.83,361.27 79,361.7C80.17,362.13 81.28,362.4 82.5,362.6C83.72,362.8 84.88,362.9 86.3,362.9C87.72,362.9 89.4,362.8 91,362.6C92.6,362.4 94.32,362.03 95.9,361.7C97.48,361.37 98.88,360.95 100.5,360.6C102.12,360.25 103.93,359.92 105.6,359.6C107.27,359.28 108.88,358.97 110.5,358.7C112.12,358.43 112.05,358.28 115.3,358C118.55,357.72 124.22,357.22 130,357C135.78,356.78 142.5,356.73 150,356.7C157.5,356.67 166.67,356.73 175,356.8C183.33,356.87 192.5,356.93 200,357.1C207.5,357.27 214.65,357.48 220,357.8C225.35,358.12 228.07,358.43 232.1,359C236.13,359.57 240.17,360.5 244.2,361.2C248.23,361.9 252.88,362.8 256.3,363.2C259.72,363.6 262.58,363.68 264.7,363.6C266.82,363.52 267.58,363.17 269,362.7C270.42,362.23 271.87,361.58 273.2,360.8C274.53,360.02 275.8,359.1 277,358C278.2,356.9 279.32,355.62 280.4,354.2C281.48,352.78 282.48,351.32 283.5,349.5C284.52,347.68 285.67,345.05 286.5,343.3C287.33,341.55 287.9,340.22 288.5,339C289.1,337.78 289.48,337.42 290.1,336C290.72,334.58 291.48,332.58 292.2,330.5C292.92,328.42 294.03,324.67 294.4,323.5" fill="none" stroke="#1b6fbd" stroke-width="1.45" stroke-linecap="butt" stroke-linejoin="round"/>
<path d="M54.8,323.3C55,323.18 55.47,322.77 56,322.6C56.53,322.43 57.38,322.32 58,322.3C58.62,322.28 59.03,322.28 59.7,322.5C60.37,322.72 61.2,323.08 62,323.6C62.8,324.12 63.48,324.57 64.5,325.6C65.52,326.63 66.88,328.4 68.1,329.8C69.32,331.2 70.65,332.67 71.8,334C72.95,335.33 74,336.65 75,337.8C76,338.95 76.63,339.62 77.8,340.9C78.97,342.18 80.58,344.1 82,345.5C83.42,346.9 84.8,348.17 86.3,349.3C87.8,350.43 89.4,351.38 91,352.3C92.6,353.22 94.32,354.18 95.9,354.8C97.48,355.42 98.88,355.67 100.5,356C102.12,356.33 103.13,356.62 105.6,356.8C108.07,356.98 111.23,357.1 115.3,357.1C119.37,357.1 124.22,356.88 130,356.8C135.78,356.72 142.5,356.65 150,356.6C157.5,356.55 166.67,356.52 175,356.5C183.33,356.48 192.5,356.47 200,356.5C207.5,356.53 214.65,356.57 220,356.7C225.35,356.83 228.07,357.25 232.1,357.3C236.13,357.35 240.58,357.52 244.2,357C247.82,356.48 251.42,355.12 253.8,354.2C256.18,353.28 257.08,352.52 258.5,351.5C259.92,350.48 260.97,349.35 262.3,348.1C263.63,346.85 265.08,345.4 266.5,344C267.92,342.6 269.3,341.28 270.8,339.7C272.3,338.12 273.9,336.2 275.5,334.5C277.1,332.8 279.15,330.85 280.4,329.5C281.65,328.15 282.18,327.32 283,326.4C283.82,325.48 284.6,324.63 285.3,324C286,323.37 286.6,322.92 287.2,322.6C287.8,322.28 288.35,322.18 288.9,322.1C289.45,322.02 290,322.03 290.5,322.1C291,322.17 291.25,322.27 291.9,322.5C292.55,322.73 293.98,323.33 294.4,323.5" fill="none" stroke="#f8b600" stroke-width="1.45" stroke-linecap="butt" stroke-linejoin="round"/>
<path d="M54.8,323.3C55.08,323.92 55.88,325.82 56.5,327C57.12,328.18 57.67,329.2 58.5,330.4C59.33,331.6 60.5,333.08 61.5,334.2C62.5,335.32 63.42,336.27 64.5,337.1C65.58,337.93 66.78,338.7 68,339.2C69.22,339.7 70.55,339.98 71.8,340.1C73.05,340.22 74.3,340.07 75.5,339.9C76.7,339.73 77.58,339.62 79,339.1C80.42,338.58 82.38,337.65 84,336.8C85.62,335.95 87.12,334.92 88.7,334C90.28,333.08 91.9,332.1 93.5,331.3C95.1,330.5 96.72,329.78 98.3,329.2C99.88,328.62 101.38,328.2 103,327.8C104.62,327.4 106.33,327.07 108,326.8C109.67,326.53 111.18,326.37 113,326.2C114.82,326.03 116.07,325.88 118.9,325.8C121.73,325.72 124.82,325.7 130,325.7C135.18,325.7 142.5,325.77 150,325.8C157.5,325.83 166.67,325.88 175,325.9C183.33,325.92 192.5,325.92 200,325.9C207.5,325.88 214.65,325.65 220,325.8C225.35,325.95 228.07,326.03 232.1,326.8C236.13,327.57 240.17,328.88 244.2,330.4C248.23,331.92 253.28,334.63 256.3,335.9C259.32,337.17 260.3,337.38 262.3,338C264.3,338.62 266.48,339.22 268.3,339.6C270.12,339.98 271.58,340.18 273.2,340.3C274.82,340.42 276.53,340.43 278,340.3C279.47,340.17 280.78,339.93 282,339.5C283.22,339.07 284.3,338.53 285.3,337.7C286.3,336.87 287.2,335.53 288,334.5C288.8,333.47 289.55,332.35 290.1,331.5C290.65,330.65 290.85,330.23 291.3,329.4C291.75,328.57 292.28,327.48 292.8,326.5C293.32,325.52 294.13,324 294.4,323.5" fill="none" stroke="#18a9e6" stroke-width="1.45" stroke-linecap="butt" stroke-linejoin="round"/>
<path d="M54.8,323.3C55.17,322.42 56.18,319.63 57,318C57.82,316.37 58.87,314.73 59.7,313.5C60.53,312.27 61.2,311.4 62,310.6C62.8,309.8 63.58,309.23 64.5,308.7C65.42,308.17 66.5,307.7 67.5,307.4C68.5,307.1 69.42,306.9 70.5,306.9C71.58,306.9 72.78,307.1 74,307.4C75.22,307.7 76.47,308.13 77.8,308.7C79.13,309.27 80.58,310 82,310.8C83.42,311.6 84.8,312.52 86.3,313.5C87.8,314.48 89.4,315.7 91,316.7C92.6,317.7 94.32,318.62 95.9,319.5C97.48,320.38 98.88,321.28 100.5,322C102.12,322.72 103.93,323.33 105.6,323.8C107.27,324.27 108.88,324.55 110.5,324.8C112.12,325.05 112.05,325.17 115.3,325.3C118.55,325.43 124.22,325.53 130,325.6C135.78,325.67 142.5,325.68 150,325.7C157.5,325.72 166.67,325.7 175,325.7C183.33,325.7 192.5,325.72 200,325.7C207.5,325.68 214.65,325.72 220,325.6C225.35,325.48 228.07,325.8 232.1,325C236.13,324.2 240.17,322.52 244.2,320.8C248.23,319.08 253.28,316.25 256.3,314.7C259.32,313.15 260.3,312.5 262.3,311.5C264.3,310.5 266.52,309.4 268.3,308.7C270.08,308 271.38,307.6 273,307.3C274.62,307 276.5,306.73 278,306.9C279.5,307.07 280.78,307.6 282,308.3C283.22,309 284.3,310.02 285.3,311.1C286.3,312.18 287.2,313.6 288,314.8C288.8,316 289.38,317.22 290.1,318.3C290.82,319.38 291.58,320.43 292.3,321.3C293.02,322.17 294.05,323.13 294.4,323.5" fill="none" stroke="#ea7a40" stroke-width="1.45" stroke-linecap="butt" stroke-linejoin="round"/>
<path d="M54.8,323.3C55.08,323.47 55.88,324.08 56.5,324.3C57.12,324.52 57.75,324.65 58.5,324.6C59.25,324.55 60.2,324.33 61,324C61.8,323.67 62.38,323.3 63.3,322.6C64.22,321.9 65.3,320.92 66.5,319.8C67.7,318.68 69.17,317.23 70.5,315.9C71.83,314.57 73.08,313.2 74.5,311.8C75.92,310.4 77.45,308.93 79,307.5C80.55,306.07 82.18,304.52 83.8,303.2C85.42,301.88 87.08,300.7 88.7,299.6C90.32,298.5 91.9,297.5 93.5,296.6C95.1,295.7 96.72,294.83 98.3,294.2C99.88,293.57 101.38,293.2 103,292.8C104.62,292.4 106.33,292.05 108,291.8C109.67,291.55 111.18,291.42 113,291.3C114.82,291.18 116.07,291.12 118.9,291.1C121.73,291.08 124.82,291.15 130,291.2C135.18,291.25 142.5,291.33 150,291.4C157.5,291.47 166.67,291.57 175,291.6C183.33,291.63 192.5,291.62 200,291.6C207.5,291.58 214.65,291.47 220,291.5C225.35,291.53 228.07,291.25 232.1,291.8C236.13,292.35 240.17,293.2 244.2,294.8C248.23,296.4 253.28,299.6 256.3,301.4C259.32,303.2 260.3,304.18 262.3,305.6C264.3,307.02 266.48,308.38 268.3,309.9C270.12,311.42 271.58,313.1 273.2,314.7C274.82,316.3 276.62,318.2 278,319.5C279.38,320.8 280.28,321.68 281.5,322.5C282.72,323.32 284.22,323.98 285.3,324.4C286.38,324.82 287.2,324.9 288,325C288.8,325.1 289.38,325.07 290.1,325C290.82,324.93 291.58,324.85 292.3,324.6C293.02,324.35 294.05,323.68 294.4,323.5" fill="none" stroke="#4a90d8" stroke-width="1.45" stroke-linecap="butt" stroke-linejoin="round"/>
<path d="M54.8,323.3C55.08,322.42 55.68,320.13 56.5,318C57.32,315.87 58.78,313 59.7,310.5C60.62,308 61.2,305.32 62,303C62.8,300.68 63.58,298.6 64.5,296.6C65.42,294.6 66.28,292.82 67.5,291C68.72,289.18 70.47,286.93 71.8,285.7C73.13,284.47 74.3,284.1 75.5,283.6C76.7,283.1 77.2,282.92 79,282.7C80.8,282.48 84.3,282.23 86.3,282.3C88.3,282.37 89.4,282.73 91,283.1C92.6,283.47 94.32,283.97 95.9,284.5C97.48,285.03 98.88,285.7 100.5,286.3C102.12,286.9 103.93,287.62 105.6,288.1C107.27,288.58 108.88,288.9 110.5,289.2C112.12,289.5 112.9,289.67 115.3,289.9C117.7,290.13 120.78,290.4 124.9,290.6C129.02,290.8 134.15,290.98 140,291.1C145.85,291.22 153.33,291.25 160,291.3C166.67,291.35 173.33,291.4 180,291.4C186.67,291.4 193.33,291.35 200,291.3C206.67,291.25 214.65,291.43 220,291.1C225.35,290.77 228.07,290.3 232.1,289.3C236.13,288.3 240.17,286.3 244.2,285.1C248.23,283.9 253.08,282.6 256.3,282.1C259.52,281.6 261.08,281.7 263.5,282.1C265.92,282.5 268.38,282.88 270.8,284.5C273.22,286.12 275.8,288.98 278,291.8C280.2,294.62 282.42,298.7 284,301.4C285.58,304.1 286.48,305.78 287.5,308C288.52,310.22 288.95,312.12 290.1,314.7C291.25,317.28 293.68,322.03 294.4,323.5" fill="none" stroke="#bf5a27" stroke-width="1.45" stroke-linecap="butt" stroke-linejoin="round"/>
<path d="M54.8,323.3C55.17,321.75 56.18,316.83 57,314C57.82,311.17 58.78,308.88 59.7,306.3C60.62,303.72 61.5,300.92 62.5,298.5C63.5,296.08 64.62,293.97 65.7,291.8C66.78,289.63 67.78,287.52 69,285.5C70.22,283.48 71.75,281.48 73,279.7C74.25,277.92 75.3,276.33 76.5,274.8C77.7,273.27 78.95,271.88 80.2,270.5C81.45,269.12 82.75,267.72 84,266.5C85.25,265.28 86.37,264.12 87.7,263.2C89.03,262.28 90.28,261.62 92,261C93.72,260.38 95.95,259.85 98,259.5C100.05,259.15 101.97,258.93 104.3,258.9C106.63,258.87 109.38,259.17 112,259.3C114.62,259.43 117,259.53 120,259.7C123,259.87 126.67,260.13 130,260.3C133.33,260.47 136.67,260.58 140,260.7C143.33,260.82 146.67,260.93 150,261C153.33,261.07 156.67,261.1 160,261.1C163.33,261.1 166.67,261.05 170,261C173.33,260.95 176.67,260.88 180,260.8C183.33,260.72 186.67,260.62 190,260.5C193.33,260.38 195.9,260.35 200,260.1C204.1,259.85 209.73,259.55 214.6,259C219.47,258.45 224.33,257.42 229.2,256.8C234.07,256.18 239.9,255.47 243.8,255.3C247.7,255.13 249.68,255.07 252.6,255.8C255.52,256.53 259.07,258.37 261.3,259.7C263.53,261.03 264.38,262.17 266,263.8C267.62,265.43 269.5,267.63 271,269.5C272.5,271.37 273.67,273 275,275C276.33,277 277.58,278.92 279,281.5C280.42,284.08 282.07,287.4 283.5,290.5C284.93,293.6 286.43,297.1 287.6,300.1C288.77,303.1 289.67,305.93 290.5,308.5C291.33,311.07 291.95,313 292.6,315.5C293.25,318 294.1,322.17 294.4,323.5" fill="none" stroke="#c8161d" stroke-width="1.45" stroke-linecap="butt" stroke-linejoin="round"/>
<line x1="119.3" y1="394.5" x2="119.3" y2="255.8" stroke="url(#g1)" stroke-width="2.0"/>
<path d="M119.3,250.1 L116.8,256.3 L119.3,255.3 L121.8,256.3 Z" fill="#c8161d"/>
<line x1="186.9" y1="246" x2="186.9" y2="385.3" stroke="url(#g2)" stroke-width="2.0"/>
<path d="M186.9,391 L184.4,384.8 L186.9,385.8 L189.4,384.8 Z" fill="#17507e"/>
<text x="103.2" y="245.5" font-size="9.3" text-anchor="start" fill="#e5663f" font-weight="normal">Charging</text>
<text x="188.7" y="402" font-size="9.6" text-anchor="middle" fill="#27aee6" font-weight="normal">Discharge</text>
<text x="133.1" y="275.3" font-size="10.7" text-anchor="middle" fill="#cf2a30" font-weight="normal" textLength="22.75" lengthAdjust="spacingAndGlyphs">100 s</text>
<text x="133.1" y="310.1" font-size="10.7" text-anchor="middle" fill="#c9703c" font-weight="normal" textLength="17.58" lengthAdjust="spacingAndGlyphs">75 s</text>
<text x="133.1" y="345.5" font-size="10.7" text-anchor="middle" fill="#ef8d5f" font-weight="normal" textLength="17.58" lengthAdjust="spacingAndGlyphs">50 s</text>
<text x="133.1" y="373.8" font-size="10.7" text-anchor="middle" fill="#f7b733" font-weight="normal" textLength="17.58" lengthAdjust="spacingAndGlyphs">25 s</text>
<text x="133.1" y="397.9" font-size="10.7" text-anchor="middle" fill="#2a2a2a" font-weight="normal" textLength="12.41" lengthAdjust="spacingAndGlyphs">0 s</text>
<text x="211.3" y="287.8" font-size="10.7" text-anchor="middle" fill="#4d93d9" font-weight="normal" textLength="22.75" lengthAdjust="spacingAndGlyphs">125 s</text>
<text x="211.3" y="317.6" font-size="10.7" text-anchor="middle" fill="#23ace6" font-weight="normal" textLength="22.75" lengthAdjust="spacingAndGlyphs">150 s</text>
<text x="211.3" y="348" font-size="10.7" text-anchor="middle" fill="#2c7cc6" font-weight="normal" textLength="22.75" lengthAdjust="spacingAndGlyphs">175 s</text>
<text x="211.3" y="377.7" font-size="10.7" text-anchor="middle" fill="#2e4963" font-weight="normal" textLength="22.75" lengthAdjust="spacingAndGlyphs">200 s</text>
<line x1="54.8" y1="236.2" x2="294.4" y2="236.2" stroke="#4d4d4d" stroke-width="0.85"/>
<line x1="54.8" y1="411.3" x2="294.4" y2="411.3" stroke="#4d4d4d" stroke-width="0.85"/>
<line x1="54.8" y1="236.2" x2="54.8" y2="411.3" stroke="#4d4d4d" stroke-width="0.85"/>
<line x1="294.4" y1="236.2" x2="294.4" y2="411.3" stroke="#4d4d4d" stroke-width="0.85"/>
<line x1="51.5" y1="236.2" x2="54.8" y2="236.2" stroke="#4d4d4d" stroke-width="0.85"/>
<line x1="51.5" y1="294.6" x2="54.8" y2="294.6" stroke="#4d4d4d" stroke-width="0.85"/>
<line x1="51.5" y1="353" x2="54.8" y2="353" stroke="#4d4d4d" stroke-width="0.85"/>
<line x1="51.5" y1="411.3" x2="54.8" y2="411.3" stroke="#4d4d4d" stroke-width="0.85"/>
<line x1="294.4" y1="236.2" x2="297.7" y2="236.2" stroke="#4d4d4d" stroke-width="0.85"/>
<line x1="294.4" y1="294.6" x2="297.7" y2="294.6" stroke="#4d4d4d" stroke-width="0.85"/>
<line x1="294.4" y1="353" x2="297.7" y2="353" stroke="#4d4d4d" stroke-width="0.85"/>
<line x1="294.4" y1="411.3" x2="297.7" y2="411.3" stroke="#4d4d4d" stroke-width="0.85"/>
<line x1="54.8" y1="411.3" x2="54.8" y2="414.6" stroke="#4d4d4d" stroke-width="0.85"/>
<line x1="114.7" y1="411.3" x2="114.7" y2="414.6" stroke="#4d4d4d" stroke-width="0.85"/>
<line x1="174.6" y1="411.3" x2="174.6" y2="414.6" stroke="#4d4d4d" stroke-width="0.85"/>
<line x1="234.5" y1="411.3" x2="234.5" y2="414.6" stroke="#4d4d4d" stroke-width="0.85"/>
<line x1="294.4" y1="411.3" x2="294.4" y2="414.6" stroke="#4d4d4d" stroke-width="0.85"/>
<text x="46.6" y="239.2" font-size="9.7" text-anchor="end" fill="#231f20" font-weight="normal" textLength="24.27" lengthAdjust="spacingAndGlyphs">2,507</text>
<text x="46.6" y="297.6" font-size="9.7" text-anchor="end" fill="#231f20" font-weight="normal" textLength="24.27" lengthAdjust="spacingAndGlyphs">2,505</text>
<text x="46.6" y="356" font-size="9.7" text-anchor="end" fill="#231f20" font-weight="normal" textLength="24.27" lengthAdjust="spacingAndGlyphs">2,503</text>
<text x="46.6" y="414.3" font-size="9.7" text-anchor="end" fill="#231f20" font-weight="normal" textLength="24.27" lengthAdjust="spacingAndGlyphs">2,501</text>
<text x="303" y="239.5" font-size="9.7" text-anchor="start" fill="#231f20" font-weight="normal" textLength="5.39" lengthAdjust="spacingAndGlyphs">7</text>
<text x="303" y="297.9" font-size="9.7" text-anchor="start" fill="#231f20" font-weight="normal" textLength="5.39" lengthAdjust="spacingAndGlyphs">5</text>
<text x="303" y="356.3" font-size="9.7" text-anchor="start" fill="#231f20" font-weight="normal" textLength="5.39" lengthAdjust="spacingAndGlyphs">3</text>
<text x="303" y="414.6" font-size="9.7" text-anchor="start" fill="#231f20" font-weight="normal" textLength="5.39" lengthAdjust="spacingAndGlyphs">1</text>
<text x="54.8" y="428.6" font-size="9.8" text-anchor="middle" fill="#231f20" font-weight="normal" textLength="5.45" lengthAdjust="spacingAndGlyphs">0</text>
<text x="114.7" y="428.6" font-size="9.8" text-anchor="middle" fill="#231f20" font-weight="normal" textLength="16.35" lengthAdjust="spacingAndGlyphs">100</text>
<text x="174.6" y="428.6" font-size="9.8" text-anchor="middle" fill="#231f20" font-weight="normal" textLength="16.35" lengthAdjust="spacingAndGlyphs">200</text>
<text x="234.5" y="428.6" font-size="9.8" text-anchor="middle" fill="#231f20" font-weight="normal" textLength="16.35" lengthAdjust="spacingAndGlyphs">300</text>
<text x="294.4" y="428.6" font-size="9.8" text-anchor="middle" fill="#231f20" font-weight="normal" textLength="16.35" lengthAdjust="spacingAndGlyphs">400</text>
<text x="16.8" y="319.8" font-size="10.5" text-anchor="middle" fill="#231f20" font-weight="normal" transform="rotate(-90 16.8 319.8)">Concentration in CEP (mM)</text>
<text x="36.8" y="222.3" font-size="10.37" fill="#231f20">c<tspan dy="3.6" font-size="7.1">CEP,Na</tspan><tspan dy="-2.4" font-size="4.99">+</tspan></text>
<text x="276.7" y="221.9" font-size="10.37" fill="#231f20">c<tspan dy="3.6" font-size="7.1">CEP,Cl</tspan><tspan dy="-2.4" font-size="4.99">−</tspan></text>
<text x="357.2" y="221.3" font-size="15.5" text-anchor="start" fill="#000" font-weight="bold" stroke="#000" stroke-width="0.6">e</text>
<path d="M403.9,409.8C404.15,409.74 404.9,409.55 405.4,409.43C405.9,409.3 406.4,409.18 406.9,409.05C407.4,408.92 407.91,408.79 408.41,408.65C408.91,408.52 409.41,408.39 409.91,408.25C410.41,408.11 410.91,407.98 411.41,407.84C411.91,407.7 412.41,407.56 412.91,407.41C413.41,407.27 413.91,407.13 414.41,406.98C414.91,406.84 415.41,406.69 415.92,406.54C416.42,406.39 416.92,406.24 417.42,406.09C417.92,405.93 418.42,405.78 418.92,405.63C419.42,405.47 419.92,405.31 420.42,405.15C420.92,405 421.42,404.84 421.92,404.67C422.42,404.51 422.92,404.35 423.42,404.19C423.93,404.02 424.43,403.86 424.93,403.69C425.43,403.52 425.93,403.35 426.43,403.18C426.93,403.01 427.43,402.84 427.93,402.67C428.43,402.5 428.93,402.32 429.43,402.15C429.93,401.97 430.43,401.79 430.93,401.62C431.43,401.44 431.94,401.26 432.44,401.08C432.94,400.9 433.44,400.71 433.94,400.53C434.44,400.35 434.94,400.16 435.44,399.98C435.94,399.79 436.44,399.61 436.94,399.42C437.44,399.23 437.94,399.04 438.44,398.85C438.94,398.66 439.44,398.47 439.95,398.27C440.45,398.08 440.95,397.89 441.45,397.69C441.95,397.5 442.45,397.3 442.95,397.1C443.45,396.91 443.95,396.71 444.45,396.51C444.95,396.31 445.45,396.11 445.95,395.91C446.45,395.71 446.95,395.51 447.46,395.3C447.96,395.1 448.46,394.89 448.96,394.69C449.46,394.48 449.96,394.28 450.46,394.07C450.96,393.86 451.46,393.65 451.96,393.45C452.46,393.24 452.96,393.03 453.46,392.82C453.96,392.6 454.46,392.39 454.96,392.18C455.47,391.97 455.97,391.75 456.47,391.54C456.97,391.33 457.47,391.11 457.97,390.9C458.47,390.68 458.97,390.46 459.47,390.25C459.97,390.03 460.47,389.81 460.97,389.59C461.47,389.37 461.97,389.15 462.47,388.93C462.97,388.71 463.48,388.49 463.98,388.27C464.48,388.05 464.98,387.83 465.48,387.6C465.98,387.38 466.48,387.16 466.98,386.93C467.48,386.71 467.98,386.48 468.48,386.26C468.98,386.03 469.48,385.81 469.98,385.58C470.48,385.35 470.98,385.13 471.49,384.9C471.99,384.67 472.49,384.44 472.99,384.21C473.49,383.98 473.99,383.76 474.49,383.53C474.99,383.3 475.49,383.07 475.99,382.83C476.49,382.6 476.99,382.37 477.49,382.14C477.99,381.91 478.49,381.68 478.99,381.45C479.5,381.21 480,380.98 480.5,380.75C481,380.51 481.5,380.28 482,380.05C482.5,379.81 483,379.58 483.5,379.35C484,379.11 484.5,378.88 485,378.64C485.5,378.41 486,378.17 486.5,377.94C487.01,377.7 487.51,377.46 488.01,377.23C488.51,376.99 489.01,376.76 489.51,376.52C490.01,376.28 490.51,376.05 491.01,375.81C491.51,375.57 492.01,375.34 492.51,375.1C493.01,374.86 493.51,374.63 494.01,374.39C494.51,374.15 495.02,373.91 495.52,373.68C496.02,373.44 496.52,373.2 497.02,372.97C497.52,372.73 498.02,372.49 498.52,372.25C499.02,372.01 499.52,371.78 500.02,371.54C500.52,371.3 501.02,371.06 501.52,370.83C502.02,370.59 502.52,370.35 503.03,370.11C503.53,369.88 504.03,369.64 504.53,369.4C505.03,369.17 505.53,368.93 506.03,368.69C506.53,368.45 507.03,368.22 507.53,367.98C508.03,367.74 508.53,367.51 509.03,367.27C509.53,367.03 510.03,366.8 510.53,366.56C511.04,366.33 511.54,366.09 512.04,365.86C512.54,365.62 513.04,365.38 513.54,365.15C514.04,364.91 514.54,364.68 515.04,364.45C515.54,364.21 516.04,363.98 516.54,363.74C517.04,363.51 517.54,363.28 518.04,363.04C518.54,362.81 519.05,362.58 519.55,362.34C520.05,362.11 520.55,361.88 521.05,361.65C521.55,361.42 522.05,361.19 522.55,360.95C523.05,360.72 523.55,360.49 524.05,360.26C524.55,360.03 525.05,359.8 525.55,359.58C526.05,359.35 526.56,359.12 527.06,358.89C527.56,358.66 528.06,358.44 528.56,358.21C529.06,357.98 529.56,357.76 530.06,357.53C530.56,357.3 531.06,357.08 531.56,356.85C532.06,356.63 532.56,356.41 533.06,356.18C533.56,355.96 534.06,355.74 534.57,355.52C535.07,355.29 535.57,355.07 536.07,354.85C536.57,354.63 537.07,354.41 537.57,354.19C538.07,353.97 538.57,353.76 539.07,353.54C539.57,353.32 540.07,353.1 540.57,352.89C541.07,352.67 541.57,352.46 542.07,352.24C542.58,352.03 543.08,351.81 543.58,351.6C544.08,351.39 544.58,351.18 545.08,350.97C545.58,350.75 546.08,350.54 546.58,350.34C547.08,350.13 547.58,349.92 548.08,349.71C548.58,349.5 549.08,349.3 549.58,349.09C550.08,348.89 550.59,348.68 551.09,348.48C551.59,348.27 552.09,348.07 552.59,347.87C553.09,347.67 553.59,347.47 554.09,347.27C554.59,347.07 555.09,346.87 555.59,346.67C556.09,346.47 556.59,346.28 557.09,346.08C557.59,345.89 558.09,345.69 558.6,345.5C559.1,345.31 559.6,345.12 560.1,344.92C560.6,344.73 561.1,344.54 561.6,344.36C562.1,344.17 562.6,343.98 563.1,343.79C563.6,343.61 564.1,343.42 564.6,343.24C565.1,343.06 565.6,342.87 566.11,342.69C566.61,342.51 567.11,342.33 567.61,342.15C568.11,341.97 568.61,341.8 569.11,341.62C569.61,341.45 570.11,341.27 570.61,341.1C571.11,340.92 571.61,340.75 572.11,340.58C572.61,340.41 573.11,340.24 573.61,340.07C574.12,339.9 574.62,339.73 575.12,339.56C575.62,339.39 576.12,339.22 576.62,339.05C577.12,338.87 577.62,338.7 578.12,338.53C578.62,338.36 579.12,338.18 579.62,338.01C580.12,337.83 580.62,337.65 581.12,337.47C581.62,337.29 582.13,337.11 582.63,336.92C583.13,336.74 583.63,336.55 584.13,336.36C584.63,336.17 585.13,335.98 585.63,335.78C586.13,335.58 586.63,335.38 587.13,335.17C587.63,334.97 588.13,334.76 588.63,334.55C589.13,334.33 589.63,334.11 590.14,333.89C590.64,333.67 591.14,333.44 591.64,333.2C592.14,332.97 592.64,332.73 593.14,332.49C593.64,332.24 594.14,331.99 594.64,331.73C595.14,331.47 595.64,331.21 596.14,330.94C596.64,330.67 597.14,330.39 597.64,330.1C598.15,329.82 598.65,329.52 599.15,329.22C599.65,328.92 600.15,328.61 600.65,328.29C601.15,327.97 601.65,327.65 602.15,327.31C602.65,326.98 603.15,326.64 603.65,326.28C604.15,325.93 604.65,325.57 605.15,325.19C605.66,324.82 606.16,324.44 606.66,324.05C607.16,323.66 607.66,323.25 608.16,322.84C608.66,322.43 609.16,322 609.66,321.57C610.16,321.13 610.66,320.68 611.16,320.22C611.66,319.77 612.16,319.29 612.66,318.81C613.16,318.33 613.67,317.83 614.17,317.33C614.67,316.82 615.17,316.3 615.67,315.77C616.17,315.23 616.67,314.68 617.17,314.12C617.67,313.56 618.17,312.99 618.67,312.4C619.17,311.81 619.67,311.21 620.17,310.59C620.67,309.98 621.17,309.34 621.68,308.7C622.18,308.05 622.68,307.39 623.18,306.71C623.68,306.03 624.18,305.34 624.68,304.62C625.18,303.9 625.68,303.16 626.18,302.38C626.68,301.6 627.18,300.79 627.68,299.93C628.18,299.07 628.68,298.18 629.18,297.23C629.69,296.27 630.19,295.28 630.69,294.22C631.19,293.15 631.69,292.04 632.19,290.84C632.69,289.65 633.19,288.4 633.69,287.06C634.19,285.72 634.69,284.31 635.19,282.81C635.69,281.3 636.19,279.72 636.69,278.04C637.19,276.35 637.7,274.58 638.2,272.7C638.7,270.82 639.2,268.84 639.7,266.74C640.2,264.64 640.95,261.21 641.2,260.1" fill="none" stroke="#16415f" stroke-width="1.45" stroke-linecap="butt" stroke-linejoin="round"/>
<path d="M403.9,409.8C404.15,409.66 404.9,409.26 405.4,408.99C405.9,408.72 406.4,408.46 406.9,408.19C407.4,407.92 407.91,407.65 408.41,407.39C408.91,407.12 409.41,406.85 409.91,406.59C410.41,406.32 410.91,406.05 411.41,405.79C411.91,405.52 412.41,405.26 412.91,404.99C413.41,404.72 413.91,404.46 414.41,404.19C414.91,403.93 415.41,403.66 415.92,403.4C416.42,403.14 416.92,402.87 417.42,402.61C417.92,402.34 418.42,402.08 418.92,401.82C419.42,401.55 419.92,401.29 420.42,401.02C420.92,400.76 421.42,400.5 421.92,400.24C422.42,399.97 422.92,399.71 423.42,399.45C423.93,399.19 424.43,398.92 424.93,398.66C425.43,398.4 425.93,398.14 426.43,397.88C426.93,397.61 427.43,397.35 427.93,397.09C428.43,396.83 428.93,396.57 429.43,396.31C429.93,396.05 430.43,395.79 430.93,395.53C431.43,395.27 431.94,395.01 432.44,394.75C432.94,394.49 433.44,394.23 433.94,393.97C434.44,393.71 434.94,393.45 435.44,393.19C435.94,392.93 436.44,392.67 436.94,392.41C437.44,392.15 437.94,391.89 438.44,391.63C438.94,391.37 439.44,391.11 439.95,390.86C440.45,390.6 440.95,390.34 441.45,390.08C441.95,389.82 442.45,389.56 442.95,389.31C443.45,389.05 443.95,388.79 444.45,388.53C444.95,388.28 445.45,388.02 445.95,387.76C446.45,387.5 446.95,387.24 447.46,386.99C447.96,386.73 448.46,386.47 448.96,386.22C449.46,385.96 449.96,385.7 450.46,385.44C450.96,385.19 451.46,384.93 451.96,384.67C452.46,384.42 452.96,384.16 453.46,383.9C453.96,383.65 454.46,383.39 454.96,383.14C455.47,382.88 455.97,382.62 456.47,382.37C456.97,382.11 457.47,381.85 457.97,381.6C458.47,381.34 458.97,381.09 459.47,380.83C459.97,380.57 460.47,380.32 460.97,380.06C461.47,379.81 461.97,379.55 462.47,379.29C462.97,379.04 463.48,378.78 463.98,378.53C464.48,378.27 464.98,378.02 465.48,377.76C465.98,377.5 466.48,377.25 466.98,376.99C467.48,376.74 467.98,376.48 468.48,376.23C468.98,375.97 469.48,375.72 469.98,375.46C470.48,375.21 470.98,374.95 471.49,374.7C471.99,374.44 472.49,374.18 472.99,373.93C473.49,373.67 473.99,373.42 474.49,373.16C474.99,372.91 475.49,372.65 475.99,372.4C476.49,372.14 476.99,371.89 477.49,371.63C477.99,371.38 478.49,371.12 478.99,370.86C479.5,370.61 480,370.35 480.5,370.1C481,369.84 481.5,369.59 482,369.33C482.5,369.08 483,368.82 483.5,368.57C484,368.31 484.5,368.05 485,367.8C485.5,367.54 486,367.29 486.5,367.03C487.01,366.78 487.51,366.52 488.01,366.26C488.51,366.01 489.01,365.75 489.51,365.5C490.01,365.24 490.51,364.98 491.01,364.73C491.51,364.47 492.01,364.22 492.51,363.96C493.01,363.7 493.51,363.45 494.01,363.19C494.51,362.94 495.02,362.68 495.52,362.42C496.02,362.17 496.52,361.91 497.02,361.65C497.52,361.4 498.02,361.14 498.52,360.88C499.02,360.63 499.52,360.37 500.02,360.11C500.52,359.85 501.02,359.6 501.52,359.34C502.02,359.08 502.52,358.82 503.03,358.57C503.53,358.31 504.03,358.05 504.53,357.79C505.03,357.54 505.53,357.28 506.03,357.02C506.53,356.76 507.03,356.5 507.53,356.25C508.03,355.99 508.53,355.73 509.03,355.47C509.53,355.21 510.03,354.95 510.53,354.7C511.04,354.44 511.54,354.18 512.04,353.92C512.54,353.66 513.04,353.4 513.54,353.14C514.04,352.88 514.54,352.62 515.04,352.36C515.54,352.1 516.04,351.84 516.54,351.58C517.04,351.32 517.54,351.06 518.04,350.8C518.54,350.54 519.05,350.28 519.55,350.02C520.05,349.76 520.55,349.5 521.05,349.24C521.55,348.98 522.05,348.71 522.55,348.45C523.05,348.19 523.55,347.93 524.05,347.67C524.55,347.41 525.05,347.14 525.55,346.88C526.05,346.62 526.56,346.36 527.06,346.09C527.56,345.83 528.06,345.57 528.56,345.31C529.06,345.04 529.56,344.78 530.06,344.52C530.56,344.25 531.06,343.99 531.56,343.72C532.06,343.46 532.56,343.2 533.06,342.93C533.56,342.67 534.06,342.4 534.57,342.14C535.07,341.87 535.57,341.61 536.07,341.34C536.57,341.08 537.07,340.81 537.57,340.54C538.07,340.28 538.57,340.01 539.07,339.75C539.57,339.48 540.07,339.21 540.57,338.95C541.07,338.68 541.57,338.41 542.07,338.14C542.58,337.88 543.08,337.61 543.58,337.34C544.08,337.07 544.58,336.8 545.08,336.54C545.58,336.27 546.08,336 546.58,335.73C547.08,335.46 547.58,335.19 548.08,334.92C548.58,334.65 549.08,334.38 549.58,334.11C550.08,333.84 550.59,333.57 551.09,333.3C551.59,333.03 552.09,332.76 552.59,332.48C553.09,332.21 553.59,331.94 554.09,331.67C554.59,331.4 555.09,331.12 555.59,330.85C556.09,330.58 556.59,330.3 557.09,330.03C557.59,329.76 558.09,329.48 558.6,329.2C559.1,328.93 559.6,328.65 560.1,328.37C560.6,328.09 561.1,327.81 561.6,327.53C562.1,327.25 562.6,326.97 563.1,326.68C563.6,326.4 564.1,326.11 564.6,325.82C565.1,325.53 565.6,325.23 566.11,324.94C566.61,324.64 567.11,324.35 567.61,324.04C568.11,323.74 568.61,323.44 569.11,323.13C569.61,322.82 570.11,322.51 570.61,322.2C571.11,321.88 571.61,321.57 572.11,321.24C572.61,320.92 573.11,320.59 573.61,320.26C574.12,319.93 574.62,319.6 575.12,319.26C575.62,318.92 576.12,318.57 576.62,318.22C577.12,317.87 577.62,317.52 578.12,317.16C578.62,316.8 579.12,316.43 579.62,316.06C580.12,315.69 580.62,315.32 581.12,314.93C581.62,314.55 582.13,314.16 582.63,313.77C583.13,313.37 583.63,312.97 584.13,312.56C584.63,312.15 585.13,311.74 585.63,311.32C586.13,310.9 586.63,310.47 587.13,310.03C587.63,309.6 588.13,309.16 588.63,308.71C589.13,308.26 589.63,307.81 590.14,307.35C590.64,306.89 591.14,306.42 591.64,305.95C592.14,305.48 592.64,305.01 593.14,304.53C593.64,304.04 594.14,303.56 594.64,303.07C595.14,302.57 595.64,302.08 596.14,301.58C596.64,301.08 597.14,300.57 597.64,300.06C598.15,299.55 598.65,299.04 599.15,298.52C599.65,298 600.15,297.48 600.65,296.95C601.15,296.43 601.65,295.9 602.15,295.37C602.65,294.84 603.15,294.3 603.65,293.76C604.15,293.22 604.65,292.68 605.15,292.14C605.66,291.59 606.16,291.05 606.66,290.5C607.16,289.95 607.66,289.4 608.16,288.85C608.66,288.29 609.16,287.74 609.66,287.18C610.16,286.62 610.66,286.07 611.16,285.51C611.66,284.95 612.16,284.38 612.66,283.82C613.16,283.26 613.67,282.7 614.17,282.14C614.67,281.57 615.17,281.01 615.67,280.45C616.17,279.89 616.67,279.33 617.17,278.78C617.67,278.22 618.17,277.67 618.67,277.12C619.17,276.58 619.67,276.03 620.17,275.5C620.67,274.96 621.17,274.43 621.68,273.91C622.18,273.38 622.68,272.87 623.18,272.36C623.68,271.85 624.18,271.35 624.68,270.86C625.18,270.37 625.68,269.89 626.18,269.43C626.68,268.96 627.18,268.5 627.68,268.06C628.18,267.61 628.68,267.18 629.18,266.76C629.69,266.35 630.19,265.94 630.69,265.55C631.19,265.16 631.69,264.79 632.19,264.43C632.69,264.08 633.19,263.74 633.69,263.42C634.19,263.09 634.69,262.79 635.19,262.5C635.69,262.22 636.19,261.95 636.69,261.71C637.19,261.46 637.7,261.24 638.2,261.04C638.7,260.84 639.2,260.66 639.7,260.5C640.2,260.34 640.95,260.17 641.2,260.1" fill="none" stroke="#f8b600" stroke-width="1.45" stroke-linecap="butt" stroke-linejoin="round"/>
<path d="M403.9,409.8C404.15,409.64 404.9,409.15 405.4,408.83C405.9,408.5 406.4,408.19 406.9,407.87C407.4,407.56 407.91,407.25 408.41,406.94C408.91,406.63 409.41,406.32 409.91,406.02C410.41,405.72 410.91,405.42 411.41,405.12C411.91,404.82 412.41,404.53 412.91,404.23C413.41,403.94 413.91,403.65 414.41,403.37C414.91,403.08 415.41,402.8 415.92,402.52C416.42,402.23 416.92,401.96 417.42,401.68C417.92,401.4 418.42,401.13 418.92,400.86C419.42,400.59 419.92,400.32 420.42,400.05C420.92,399.78 421.42,399.52 421.92,399.25C422.42,398.99 422.92,398.73 423.42,398.47C423.93,398.21 424.43,397.95 424.93,397.7C425.43,397.44 425.93,397.19 426.43,396.94C426.93,396.69 427.43,396.44 427.93,396.19C428.43,395.94 428.93,395.7 429.43,395.45C429.93,395.21 430.43,394.96 430.93,394.72C431.43,394.48 431.94,394.24 432.44,394C432.94,393.76 433.44,393.52 433.94,393.29C434.44,393.05 434.94,392.82 435.44,392.58C435.94,392.35 436.44,392.12 436.94,391.88C437.44,391.65 437.94,391.42 438.44,391.19C438.94,390.96 439.44,390.73 439.95,390.51C440.45,390.28 440.95,390.05 441.45,389.82C441.95,389.6 442.45,389.37 442.95,389.15C443.45,388.92 443.95,388.7 444.45,388.48C444.95,388.25 445.45,388.03 445.95,387.81C446.45,387.58 446.95,387.36 447.46,387.14C447.96,386.92 448.46,386.7 448.96,386.47C449.46,386.25 449.96,386.03 450.46,385.81C450.96,385.59 451.46,385.37 451.96,385.15C452.46,384.93 452.96,384.71 453.46,384.49C453.96,384.26 454.46,384.04 454.96,383.82C455.47,383.6 455.97,383.38 456.47,383.16C456.97,382.94 457.47,382.71 457.97,382.49C458.47,382.27 458.97,382.05 459.47,381.82C459.97,381.6 460.47,381.38 460.97,381.15C461.47,380.93 461.97,380.7 462.47,380.48C462.97,380.25 463.48,380.03 463.98,379.8C464.48,379.57 464.98,379.35 465.48,379.12C465.98,378.89 466.48,378.66 466.98,378.43C467.48,378.2 467.98,377.97 468.48,377.73C468.98,377.5 469.48,377.27 469.98,377.03C470.48,376.8 470.98,376.56 471.49,376.32C471.99,376.09 472.49,375.85 472.99,375.61C473.49,375.37 473.99,375.12 474.49,374.88C474.99,374.64 475.49,374.39 475.99,374.15C476.49,373.9 476.99,373.65 477.49,373.4C477.99,373.15 478.49,372.9 478.99,372.65C479.5,372.4 480,372.14 480.5,371.88C481,371.63 481.5,371.37 482,371.11C482.5,370.85 483,370.59 483.5,370.32C484,370.06 484.5,369.79 485,369.52C485.5,369.26 486,368.99 486.5,368.72C487.01,368.45 487.51,368.18 488.01,367.9C488.51,367.63 489.01,367.35 489.51,367.08C490.01,366.8 490.51,366.53 491.01,366.25C491.51,365.97 492.01,365.69 492.51,365.41C493.01,365.13 493.51,364.85 494.01,364.56C494.51,364.28 495.02,364 495.52,363.71C496.02,363.43 496.52,363.14 497.02,362.85C497.52,362.57 498.02,362.28 498.52,361.99C499.02,361.7 499.52,361.41 500.02,361.12C500.52,360.83 501.02,360.54 501.52,360.25C502.02,359.96 502.52,359.67 503.03,359.38C503.53,359.08 504.03,358.79 504.53,358.5C505.03,358.2 505.53,357.91 506.03,357.62C506.53,357.32 507.03,357.03 507.53,356.74C508.03,356.44 508.53,356.15 509.03,355.85C509.53,355.56 510.03,355.26 510.53,354.97C511.04,354.67 511.54,354.38 512.04,354.08C512.54,353.79 513.04,353.49 513.54,353.2C514.04,352.9 514.54,352.61 515.04,352.32C515.54,352.02 516.04,351.73 516.54,351.43C517.04,351.14 517.54,350.85 518.04,350.55C518.54,350.26 519.05,349.97 519.55,349.68C520.05,349.38 520.55,349.09 521.05,348.8C521.55,348.51 522.05,348.22 522.55,347.93C523.05,347.64 523.55,347.35 524.05,347.07C524.55,346.78 525.05,346.49 525.55,346.2C526.05,345.92 526.56,345.63 527.06,345.35C527.56,345.06 528.06,344.78 528.56,344.5C529.06,344.21 529.56,343.93 530.06,343.65C530.56,343.37 531.06,343.09 531.56,342.81C532.06,342.54 532.56,342.26 533.06,341.98C533.56,341.71 534.06,341.44 534.57,341.16C535.07,340.89 535.57,340.62 536.07,340.35C536.57,340.08 537.07,339.81 537.57,339.55C538.07,339.28 538.57,339.01 539.07,338.75C539.57,338.49 540.07,338.23 540.57,337.97C541.07,337.71 541.57,337.45 542.07,337.19C542.58,336.94 543.08,336.68 543.58,336.43C544.08,336.18 544.58,335.93 545.08,335.68C545.58,335.43 546.08,335.19 546.58,334.94C547.08,334.7 547.58,334.46 548.08,334.22C548.58,333.98 549.08,333.74 549.58,333.51C550.08,333.27 550.59,333.04 551.09,332.81C551.59,332.58 552.09,332.35 552.59,332.12C553.09,331.9 553.59,331.68 554.09,331.46C554.59,331.24 555.09,331.02 555.59,330.8C556.09,330.59 556.59,330.38 557.09,330.17C557.59,329.96 558.09,329.75 558.6,329.55C559.1,329.35 559.6,329.14 560.1,328.95C560.6,328.75 561.1,328.55 561.6,328.36C562.1,328.17 562.6,327.98 563.1,327.8C563.6,327.61 564.1,327.43 564.6,327.25C565.1,327.07 565.6,326.9 566.11,326.72C566.61,326.55 567.11,326.38 567.61,326.22C568.11,326.05 568.61,325.89 569.11,325.73C569.61,325.57 570.11,325.42 570.61,325.26C571.11,325.11 571.61,324.97 572.11,324.82C572.61,324.67 573.11,324.53 573.61,324.39C574.12,324.25 574.62,324.11 575.12,323.98C575.62,323.84 576.12,323.71 576.62,323.57C577.12,323.44 577.62,323.31 578.12,323.18C578.62,323.05 579.12,322.92 579.62,322.79C580.12,322.66 580.62,322.53 581.12,322.4C581.62,322.27 582.13,322.14 582.63,322C583.13,321.87 583.63,321.74 584.13,321.61C584.63,321.47 585.13,321.34 585.63,321.2C586.13,321.06 586.63,320.92 587.13,320.78C587.63,320.64 588.13,320.5 588.63,320.35C589.13,320.2 589.63,320.05 590.14,319.9C590.64,319.74 591.14,319.58 591.64,319.42C592.14,319.26 592.64,319.09 593.14,318.92C593.64,318.75 594.14,318.58 594.64,318.4C595.14,318.22 595.64,318.03 596.14,317.84C596.64,317.65 597.14,317.45 597.64,317.25C598.15,317.04 598.65,316.83 599.15,316.62C599.65,316.4 600.15,316.18 600.65,315.95C601.15,315.71 601.65,315.48 602.15,315.23C602.65,314.98 603.15,314.73 603.65,314.46C604.15,314.2 604.65,313.92 605.15,313.64C605.66,313.35 606.16,313.06 606.66,312.75C607.16,312.44 607.66,312.12 608.16,311.79C608.66,311.46 609.16,311.11 609.66,310.76C610.16,310.4 610.66,310.03 611.16,309.64C611.66,309.25 612.16,308.85 612.66,308.43C613.16,308.01 613.67,307.58 614.17,307.13C614.67,306.68 615.17,306.21 615.67,305.73C616.17,305.24 616.67,304.74 617.17,304.21C617.67,303.69 618.17,303.15 618.67,302.59C619.17,302.03 619.67,301.45 620.17,300.84C620.67,300.24 621.17,299.62 621.68,298.97C622.18,298.32 622.68,297.66 623.18,296.96C623.68,296.27 624.18,295.56 624.68,294.82C625.18,294.08 625.68,293.32 626.18,292.53C626.68,291.74 627.18,290.92 627.68,290.08C628.18,289.24 628.68,288.37 629.18,287.48C629.69,286.58 630.19,285.66 630.69,284.71C631.19,283.76 631.69,282.78 632.19,281.77C632.69,280.76 633.19,279.72 633.69,278.64C634.19,277.57 634.69,276.47 635.19,275.33C635.69,274.2 636.19,273.03 636.69,271.83C637.19,270.63 637.7,269.4 638.2,268.13C638.7,266.86 639.2,265.56 639.7,264.22C640.2,262.88 640.95,260.79 641.2,260.1" fill="none" stroke="#1b6fbd" stroke-width="1.45" stroke-linecap="butt" stroke-linejoin="round"/>
<path d="M403.9,409.8C404.15,409.59 404.9,408.96 405.4,408.54C405.9,408.13 406.4,407.71 406.9,407.3C407.4,406.89 407.91,406.48 408.41,406.07C408.91,405.66 409.41,405.26 409.91,404.85C410.41,404.45 410.91,404.05 411.41,403.65C411.91,403.25 412.41,402.85 412.91,402.45C413.41,402.06 413.91,401.67 414.41,401.27C414.91,400.88 415.41,400.49 415.92,400.1C416.42,399.72 416.92,399.33 417.42,398.95C417.92,398.56 418.42,398.18 418.92,397.8C419.42,397.42 419.92,397.04 420.42,396.67C420.92,396.29 421.42,395.92 421.92,395.54C422.42,395.17 422.92,394.8 423.42,394.43C423.93,394.06 424.43,393.69 424.93,393.33C425.43,392.96 425.93,392.6 426.43,392.23C426.93,391.87 427.43,391.51 427.93,391.15C428.43,390.79 428.93,390.43 429.43,390.08C429.93,389.72 430.43,389.37 430.93,389.01C431.43,388.66 431.94,388.31 432.44,387.96C432.94,387.61 433.44,387.26 433.94,386.91C434.44,386.56 434.94,386.22 435.44,385.87C435.94,385.53 436.44,385.19 436.94,384.85C437.44,384.5 437.94,384.16 438.44,383.82C438.94,383.49 439.44,383.15 439.95,382.81C440.45,382.48 440.95,382.14 441.45,381.81C441.95,381.47 442.45,381.14 442.95,380.81C443.45,380.48 443.95,380.15 444.45,379.82C444.95,379.49 445.45,379.16 445.95,378.84C446.45,378.51 446.95,378.18 447.46,377.86C447.96,377.54 448.46,377.21 448.96,376.89C449.46,376.57 449.96,376.25 450.46,375.93C450.96,375.61 451.46,375.29 451.96,374.97C452.46,374.65 452.96,374.33 453.46,374.02C453.96,373.7 454.46,373.38 454.96,373.07C455.47,372.75 455.97,372.44 456.47,372.13C456.97,371.82 457.47,371.5 457.97,371.19C458.47,370.88 458.97,370.57 459.47,370.26C459.97,369.95 460.47,369.64 460.97,369.33C461.47,369.03 461.97,368.72 462.47,368.41C462.97,368.11 463.48,367.8 463.98,367.49C464.48,367.19 464.98,366.88 465.48,366.58C465.98,366.28 466.48,365.97 466.98,365.67C467.48,365.37 467.98,365.06 468.48,364.76C468.98,364.46 469.48,364.16 469.98,363.86C470.48,363.56 470.98,363.26 471.49,362.96C471.99,362.66 472.49,362.36 472.99,362.06C473.49,361.76 473.99,361.46 474.49,361.16C474.99,360.86 475.49,360.57 475.99,360.27C476.49,359.97 476.99,359.67 477.49,359.38C477.99,359.08 478.49,358.78 478.99,358.49C479.5,358.19 480,357.89 480.5,357.6C481,357.3 481.5,357.01 482,356.71C482.5,356.41 483,356.12 483.5,355.82C484,355.53 484.5,355.23 485,354.94C485.5,354.64 486,354.35 486.5,354.05C487.01,353.76 487.51,353.46 488.01,353.17C488.51,352.87 489.01,352.58 489.51,352.28C490.01,351.99 490.51,351.69 491.01,351.4C491.51,351.1 492.01,350.81 492.51,350.51C493.01,350.22 493.51,349.92 494.01,349.62C494.51,349.33 495.02,349.03 495.52,348.74C496.02,348.44 496.52,348.15 497.02,347.85C497.52,347.55 498.02,347.26 498.52,346.96C499.02,346.66 499.52,346.37 500.02,346.07C500.52,345.77 501.02,345.47 501.52,345.17C502.02,344.88 502.52,344.58 503.03,344.28C503.53,343.98 504.03,343.68 504.53,343.38C505.03,343.08 505.53,342.78 506.03,342.48C506.53,342.18 507.03,341.88 507.53,341.58C508.03,341.27 508.53,340.97 509.03,340.67C509.53,340.37 510.03,340.06 510.53,339.76C511.04,339.46 511.54,339.15 512.04,338.85C512.54,338.54 513.04,338.24 513.54,337.93C514.04,337.62 514.54,337.32 515.04,337.01C515.54,336.7 516.04,336.39 516.54,336.08C517.04,335.77 517.54,335.46 518.04,335.15C518.54,334.84 519.05,334.53 519.55,334.22C520.05,333.91 520.55,333.59 521.05,333.28C521.55,332.96 522.05,332.65 522.55,332.33C523.05,332.02 523.55,331.7 524.05,331.38C524.55,331.06 525.05,330.75 525.55,330.43C526.05,330.11 526.56,329.78 527.06,329.46C527.56,329.14 528.06,328.82 528.56,328.49C529.06,328.17 529.56,327.85 530.06,327.52C530.56,327.19 531.06,326.87 531.56,326.54C532.06,326.21 532.56,325.88 533.06,325.55C533.56,325.22 534.06,324.89 534.57,324.55C535.07,324.22 535.57,323.89 536.07,323.55C536.57,323.21 537.07,322.88 537.57,322.54C538.07,322.2 538.57,321.86 539.07,321.52C539.57,321.18 540.07,320.84 540.57,320.49C541.07,320.15 541.57,319.8 542.07,319.46C542.58,319.11 543.08,318.76 543.58,318.41C544.08,318.06 544.58,317.71 545.08,317.36C545.58,317.01 546.08,316.65 546.58,316.3C547.08,315.94 547.58,315.59 548.08,315.23C548.58,314.87 549.08,314.51 549.58,314.15C550.08,313.78 550.59,313.42 551.09,313.06C551.59,312.69 552.09,312.32 552.59,311.96C553.09,311.59 553.59,311.22 554.09,310.84C554.59,310.47 555.09,310.1 555.59,309.72C556.09,309.35 556.59,308.97 557.09,308.59C557.59,308.21 558.09,307.83 558.6,307.45C559.1,307.06 559.6,306.68 560.1,306.29C560.6,305.91 561.1,305.52 561.6,305.13C562.1,304.74 562.6,304.34 563.1,303.95C563.6,303.55 564.1,303.16 564.6,302.76C565.1,302.36 565.6,301.96 566.11,301.56C566.61,301.15 567.11,300.75 567.61,300.34C568.11,299.93 568.61,299.53 569.11,299.11C569.61,298.7 570.11,298.29 570.61,297.87C571.11,297.46 571.61,297.04 572.11,296.62C572.61,296.2 573.11,295.78 573.61,295.36C574.12,294.93 574.62,294.51 575.12,294.08C575.62,293.66 576.12,293.23 576.62,292.8C577.12,292.37 577.62,291.94 578.12,291.51C578.62,291.08 579.12,290.65 579.62,290.21C580.12,289.78 580.62,289.35 581.12,288.91C581.62,288.48 582.13,288.04 582.63,287.61C583.13,287.17 583.63,286.74 584.13,286.3C584.63,285.86 585.13,285.43 585.63,284.99C586.13,284.56 586.63,284.12 587.13,283.68C587.63,283.25 588.13,282.81 588.63,282.38C589.13,281.94 589.63,281.51 590.14,281.08C590.64,280.64 591.14,280.21 591.64,279.78C592.14,279.34 592.64,278.91 593.14,278.48C593.64,278.05 594.14,277.62 594.64,277.2C595.14,276.77 595.64,276.34 596.14,275.92C596.64,275.49 597.14,275.07 597.64,274.65C598.15,274.23 598.65,273.81 599.15,273.39C599.65,272.98 600.15,272.56 600.65,272.15C601.15,271.74 601.65,271.32 602.15,270.92C602.65,270.51 603.15,270.1 603.65,269.7C604.15,269.31 604.65,268.91 605.15,268.52C605.66,268.13 606.16,267.74 606.66,267.36C607.16,266.98 607.66,266.6 608.16,266.23C608.66,265.86 609.16,265.5 609.66,265.15C610.16,264.79 610.66,264.44 611.16,264.1C611.66,263.76 612.16,263.43 612.66,263.11C613.16,262.79 613.67,262.47 614.17,262.17C614.67,261.86 615.17,261.57 615.67,261.28C616.17,261 616.67,260.73 617.17,260.46C617.67,260.2 618.17,259.95 618.67,259.71C619.17,259.47 619.67,259.25 620.17,259.03C620.67,258.82 621.17,258.62 621.68,258.43C622.18,258.24 622.68,258.07 623.18,257.91C623.68,257.75 624.18,257.61 624.68,257.48C625.18,257.35 625.68,257.24 626.18,257.14C626.68,257.05 627.18,256.97 627.68,256.91C628.18,256.84 628.68,256.8 629.18,256.77C629.69,256.75 630.19,256.74 630.69,256.75C631.19,256.76 631.69,256.79 632.19,256.84C632.69,256.89 633.19,256.96 633.69,257.05C634.19,257.14 634.69,257.25 635.19,257.39C635.69,257.52 636.19,257.68 636.69,257.85C637.19,258.03 637.7,258.23 638.2,258.46C638.7,258.68 639.2,258.93 639.7,259.21C640.2,259.48 640.95,259.95 641.2,260.1" fill="none" stroke="#ea7a40" stroke-width="1.45" stroke-linecap="butt" stroke-linejoin="round"/>
<path d="M403.9,409.8C404.15,409.56 404.9,408.85 405.4,408.39C405.9,407.92 406.4,407.46 406.9,407.01C407.4,406.55 407.91,406.1 408.41,405.66C408.91,405.22 409.41,404.78 409.91,404.34C410.41,403.91 410.91,403.47 411.41,403.05C411.91,402.62 412.41,402.2 412.91,401.79C413.41,401.37 413.91,400.96 414.41,400.55C414.91,400.14 415.41,399.74 415.92,399.34C416.42,398.94 416.92,398.55 417.42,398.15C417.92,397.76 418.42,397.38 418.92,396.99C419.42,396.61 419.92,396.23 420.42,395.86C420.92,395.48 421.42,395.11 421.92,394.74C422.42,394.37 422.92,394.01 423.42,393.65C423.93,393.29 424.43,392.93 424.93,392.57C425.43,392.22 425.93,391.87 426.43,391.52C426.93,391.17 427.43,390.83 427.93,390.49C428.43,390.15 428.93,389.81 429.43,389.47C429.93,389.14 430.43,388.8 430.93,388.47C431.43,388.14 431.94,387.82 432.44,387.49C432.94,387.17 433.44,386.84 433.94,386.52C434.44,386.2 434.94,385.89 435.44,385.57C435.94,385.26 436.44,384.94 436.94,384.63C437.44,384.32 437.94,384.01 438.44,383.71C438.94,383.4 439.44,383.1 439.95,382.79C440.45,382.49 440.95,382.19 441.45,381.89C441.95,381.59 442.45,381.29 442.95,381C443.45,380.7 443.95,380.41 444.45,380.11C444.95,379.82 445.45,379.53 445.95,379.24C446.45,378.95 446.95,378.66 447.46,378.37C447.96,378.08 448.46,377.79 448.96,377.51C449.46,377.22 449.96,376.94 450.46,376.65C450.96,376.37 451.46,376.09 451.96,375.8C452.46,375.52 452.96,375.24 453.46,374.96C453.96,374.67 454.46,374.39 454.96,374.11C455.47,373.83 455.97,373.55 456.47,373.27C456.97,372.99 457.47,372.71 457.97,372.43C458.47,372.15 458.97,371.87 459.47,371.59C459.97,371.31 460.47,371.03 460.97,370.75C461.47,370.47 461.97,370.19 462.47,369.91C462.97,369.63 463.48,369.35 463.98,369.07C464.48,368.79 464.98,368.5 465.48,368.22C465.98,367.94 466.48,367.65 466.98,367.37C467.48,367.09 467.98,366.8 468.48,366.51C468.98,366.23 469.48,365.94 469.98,365.65C470.48,365.37 470.98,365.08 471.49,364.79C471.99,364.5 472.49,364.2 472.99,363.91C473.49,363.62 473.99,363.32 474.49,363.03C474.99,362.73 475.49,362.43 475.99,362.13C476.49,361.83 476.99,361.53 477.49,361.23C477.99,360.93 478.49,360.62 478.99,360.32C479.5,360.01 480,359.7 480.5,359.39C481,359.08 481.5,358.77 482,358.45C482.5,358.14 483,357.82 483.5,357.5C484,357.18 484.5,356.86 485,356.54C485.5,356.22 486,355.9 486.5,355.57C487.01,355.25 487.51,354.92 488.01,354.59C488.51,354.26 489.01,353.93 489.51,353.6C490.01,353.27 490.51,352.94 491.01,352.6C491.51,352.27 492.01,351.93 492.51,351.6C493.01,351.26 493.51,350.92 494.01,350.58C494.51,350.24 495.02,349.9 495.52,349.56C496.02,349.22 496.52,348.88 497.02,348.54C497.52,348.2 498.02,347.85 498.52,347.51C499.02,347.16 499.52,346.82 500.02,346.47C500.52,346.13 501.02,345.78 501.52,345.43C502.02,345.09 502.52,344.74 503.03,344.39C503.53,344.04 504.03,343.69 504.53,343.35C505.03,343 505.53,342.65 506.03,342.3C506.53,341.95 507.03,341.6 507.53,341.25C508.03,340.9 508.53,340.55 509.03,340.2C509.53,339.85 510.03,339.5 510.53,339.15C511.04,338.8 511.54,338.45 512.04,338.1C512.54,337.75 513.04,337.41 513.54,337.06C514.04,336.71 514.54,336.36 515.04,336.01C515.54,335.66 516.04,335.32 516.54,334.97C517.04,334.62 517.54,334.27 518.04,333.93C518.54,333.58 519.05,333.24 519.55,332.89C520.05,332.55 520.55,332.2 521.05,331.86C521.55,331.52 522.05,331.18 522.55,330.84C523.05,330.49 523.55,330.15 524.05,329.82C524.55,329.48 525.05,329.14 525.55,328.8C526.05,328.46 526.56,328.13 527.06,327.79C527.56,327.46 528.06,327.13 528.56,326.79C529.06,326.46 529.56,326.13 530.06,325.8C530.56,325.48 531.06,325.15 531.56,324.82C532.06,324.5 532.56,324.17 533.06,323.85C533.56,323.53 534.06,323.21 534.57,322.89C535.07,322.57 535.57,322.25 536.07,321.94C536.57,321.62 537.07,321.31 537.57,321C538.07,320.69 538.57,320.38 539.07,320.07C539.57,319.76 540.07,319.46 540.57,319.15C541.07,318.85 541.57,318.55 542.07,318.25C542.58,317.96 543.08,317.66 543.58,317.37C544.08,317.07 544.58,316.78 545.08,316.49C545.58,316.21 546.08,315.92 546.58,315.64C547.08,315.35 547.58,315.07 548.08,314.8C548.58,314.52 549.08,314.24 549.58,313.97C550.08,313.7 550.59,313.43 551.09,313.17C551.59,312.9 552.09,312.64 552.59,312.38C553.09,312.12 553.59,311.86 554.09,311.61C554.59,311.35 555.09,311.1 555.59,310.86C556.09,310.61 556.59,310.37 557.09,310.13C557.59,309.88 558.09,309.65 558.6,309.41C559.1,309.18 559.6,308.94 560.1,308.72C560.6,308.49 561.1,308.26 561.6,308.03C562.1,307.81 562.6,307.59 563.1,307.37C563.6,307.15 564.1,306.93 564.6,306.71C565.1,306.5 565.6,306.29 566.11,306.07C566.61,305.86 567.11,305.65 567.61,305.44C568.11,305.24 568.61,305.03 569.11,304.82C569.61,304.62 570.11,304.42 570.61,304.21C571.11,304.01 571.61,303.81 572.11,303.61C572.61,303.41 573.11,303.21 573.61,303.01C574.12,302.82 574.62,302.62 575.12,302.42C575.62,302.23 576.12,302.03 576.62,301.83C577.12,301.64 577.62,301.44 578.12,301.25C578.62,301.06 579.12,300.86 579.62,300.67C580.12,300.47 580.62,300.28 581.12,300.09C581.62,299.89 582.13,299.7 582.63,299.5C583.13,299.31 583.63,299.11 584.13,298.92C584.63,298.72 585.13,298.53 585.63,298.33C586.13,298.13 586.63,297.94 587.13,297.74C587.63,297.54 588.13,297.34 588.63,297.14C589.13,296.94 589.63,296.74 590.14,296.54C590.64,296.34 591.14,296.14 591.64,295.93C592.14,295.73 592.64,295.52 593.14,295.31C593.64,295.1 594.14,294.89 594.64,294.68C595.14,294.47 595.64,294.26 596.14,294.04C596.64,293.83 597.14,293.61 597.64,293.39C598.15,293.17 598.65,292.95 599.15,292.73C599.65,292.5 600.15,292.27 600.65,292.05C601.15,291.82 601.65,291.58 602.15,291.35C602.65,291.12 603.15,290.88 603.65,290.64C604.15,290.4 604.65,290.15 605.15,289.91C605.66,289.66 606.16,289.41 606.66,289.16C607.16,288.91 607.66,288.65 608.16,288.39C608.66,288.13 609.16,287.87 609.66,287.6C610.16,287.33 610.66,287.06 611.16,286.78C611.66,286.51 612.16,286.23 612.66,285.95C613.16,285.66 613.67,285.38 614.17,285.09C614.67,284.79 615.17,284.5 615.67,284.2C616.17,283.9 616.67,283.59 617.17,283.28C617.67,282.97 618.17,282.65 618.67,282.33C619.17,282.01 619.67,281.68 620.17,281.34C620.67,281 621.17,280.66 621.68,280.3C622.18,279.95 622.68,279.59 623.18,279.22C623.68,278.84 624.18,278.46 624.68,278.07C625.18,277.68 625.68,277.28 626.18,276.87C626.68,276.45 627.18,276.03 627.68,275.59C628.18,275.16 628.68,274.71 629.18,274.24C629.69,273.78 630.19,273.31 630.69,272.82C631.19,272.33 631.69,271.82 632.19,271.3C632.69,270.78 633.19,270.25 633.69,269.7C634.19,269.15 634.69,268.58 635.19,267.99C635.69,267.41 636.19,266.81 636.69,266.19C637.19,265.57 637.7,264.93 638.2,264.28C638.7,263.62 639.2,262.94 639.7,262.25C640.2,261.55 640.95,260.46 641.2,260.1" fill="none" stroke="#18a9e6" stroke-width="1.45" stroke-linecap="butt" stroke-linejoin="round"/>
<path d="M403.9,409.8C404.15,409.49 404.9,408.54 405.4,407.93C405.9,407.32 406.4,406.72 406.9,406.13C407.4,405.54 407.91,404.96 408.41,404.39C408.91,403.82 409.41,403.26 409.91,402.71C410.41,402.16 410.91,401.62 411.41,401.09C411.91,400.55 412.41,400.03 412.91,399.51C413.41,398.99 413.91,398.48 414.41,397.98C414.91,397.48 415.41,396.98 415.92,396.5C416.42,396.01 416.92,395.53 417.42,395.05C417.92,394.57 418.42,394.1 418.92,393.64C419.42,393.17 419.92,392.71 420.42,392.26C420.92,391.8 421.42,391.35 421.92,390.91C422.42,390.46 422.92,390.02 423.42,389.58C423.93,389.14 424.43,388.71 424.93,388.27C425.43,387.84 425.93,387.41 426.43,386.98C426.93,386.55 427.43,386.13 427.93,385.7C428.43,385.28 428.93,384.86 429.43,384.44C429.93,384.01 430.43,383.59 430.93,383.17C431.43,382.75 431.94,382.33 432.44,381.91C432.94,381.49 433.44,381.07 433.94,380.65C434.44,380.23 434.94,379.81 435.44,379.39C435.94,378.96 436.44,378.54 436.94,378.12C437.44,377.7 437.94,377.28 438.44,376.86C438.94,376.43 439.44,376.01 439.95,375.59C440.45,375.17 440.95,374.75 441.45,374.33C441.95,373.9 442.45,373.48 442.95,373.06C443.45,372.64 443.95,372.22 444.45,371.8C444.95,371.38 445.45,370.96 445.95,370.54C446.45,370.12 446.95,369.69 447.46,369.27C447.96,368.85 448.46,368.43 448.96,368.02C449.46,367.6 449.96,367.18 450.46,366.76C450.96,366.34 451.46,365.92 451.96,365.5C452.46,365.09 452.96,364.67 453.46,364.25C453.96,363.83 454.46,363.42 454.96,363C455.47,362.59 455.97,362.17 456.47,361.76C456.97,361.34 457.47,360.93 457.97,360.51C458.47,360.1 458.97,359.69 459.47,359.27C459.97,358.86 460.47,358.45 460.97,358.04C461.47,357.63 461.97,357.22 462.47,356.81C462.97,356.4 463.48,355.99 463.98,355.59C464.48,355.18 464.98,354.77 465.48,354.37C465.98,353.96 466.48,353.56 466.98,353.15C467.48,352.75 467.98,352.34 468.48,351.94C468.98,351.54 469.48,351.14 469.98,350.74C470.48,350.34 470.98,349.94 471.49,349.54C471.99,349.15 472.49,348.75 472.99,348.35C473.49,347.96 473.99,347.57 474.49,347.17C474.99,346.78 475.49,346.39 475.99,346C476.49,345.61 476.99,345.22 477.49,344.83C477.99,344.44 478.49,344.05 478.99,343.67C479.5,343.28 480,342.9 480.5,342.52C481,342.14 481.5,341.75 482,341.38C482.5,341 483,340.62 483.5,340.24C484,339.86 484.5,339.49 485,339.11C485.5,338.74 486,338.36 486.5,337.99C487.01,337.62 487.51,337.25 488.01,336.88C488.51,336.51 489.01,336.14 489.51,335.77C490.01,335.41 490.51,335.04 491.01,334.67C491.51,334.31 492.01,333.94 492.51,333.58C493.01,333.22 493.51,332.85 494.01,332.49C494.51,332.13 495.02,331.77 495.52,331.41C496.02,331.05 496.52,330.69 497.02,330.33C497.52,329.97 498.02,329.62 498.52,329.26C499.02,328.9 499.52,328.55 500.02,328.19C500.52,327.84 501.02,327.48 501.52,327.13C502.02,326.78 502.52,326.42 503.03,326.07C503.53,325.72 504.03,325.36 504.53,325.01C505.03,324.66 505.53,324.31 506.03,323.96C506.53,323.61 507.03,323.26 507.53,322.91C508.03,322.56 508.53,322.21 509.03,321.86C509.53,321.51 510.03,321.17 510.53,320.82C511.04,320.47 511.54,320.12 512.04,319.77C512.54,319.43 513.04,319.08 513.54,318.73C514.04,318.39 514.54,318.04 515.04,317.69C515.54,317.35 516.04,317 516.54,316.65C517.04,316.31 517.54,315.96 518.04,315.62C518.54,315.27 519.05,314.92 519.55,314.58C520.05,314.23 520.55,313.89 521.05,313.54C521.55,313.19 522.05,312.85 522.55,312.5C523.05,312.16 523.55,311.81 524.05,311.46C524.55,311.12 525.05,310.77 525.55,310.42C526.05,310.08 526.56,309.73 527.06,309.38C527.56,309.03 528.06,308.69 528.56,308.34C529.06,307.99 529.56,307.64 530.06,307.3C530.56,306.95 531.06,306.6 531.56,306.25C532.06,305.9 532.56,305.55 533.06,305.2C533.56,304.85 534.06,304.5 534.57,304.15C535.07,303.8 535.57,303.45 536.07,303.09C536.57,302.74 537.07,302.39 537.57,302.04C538.07,301.68 538.57,301.33 539.07,300.97C539.57,300.62 540.07,300.26 540.57,299.91C541.07,299.55 541.57,299.19 542.07,298.84C542.58,298.48 543.08,298.12 543.58,297.76C544.08,297.4 544.58,297.04 545.08,296.68C545.58,296.32 546.08,295.96 546.58,295.6C547.08,295.23 547.58,294.87 548.08,294.51C548.58,294.14 549.08,293.78 549.58,293.41C550.08,293.04 550.59,292.67 551.09,292.31C551.59,291.94 552.09,291.57 552.59,291.2C553.09,290.82 553.59,290.45 554.09,290.08C554.59,289.7 555.09,289.33 555.59,288.95C556.09,288.58 556.59,288.2 557.09,287.82C557.59,287.44 558.09,287.06 558.6,286.68C559.1,286.3 559.6,285.92 560.1,285.53C560.6,285.15 561.1,284.77 561.6,284.38C562.1,283.99 562.6,283.6 563.1,283.21C563.6,282.82 564.1,282.43 564.6,282.04C565.1,281.65 565.6,281.25 566.11,280.86C566.61,280.46 567.11,280.06 567.61,279.66C568.11,279.26 568.61,278.86 569.11,278.46C569.61,278.05 570.11,277.65 570.61,277.24C571.11,276.84 571.61,276.43 572.11,276.02C572.61,275.61 573.11,275.2 573.61,274.78C574.12,274.37 574.62,273.95 575.12,273.54C575.62,273.12 576.12,272.71 576.62,272.29C577.12,271.87 577.62,271.46 578.12,271.04C578.62,270.62 579.12,270.2 579.62,269.79C580.12,269.37 580.62,268.96 581.12,268.54C581.62,268.13 582.13,267.72 582.63,267.3C583.13,266.89 583.63,266.48 584.13,266.08C584.63,265.67 585.13,265.27 585.63,264.87C586.13,264.46 586.63,264.07 587.13,263.67C587.63,263.28 588.13,262.88 588.63,262.5C589.13,262.11 589.63,261.72 590.14,261.35C590.64,260.97 591.14,260.59 591.64,260.22C592.14,259.85 592.64,259.49 593.14,259.13C593.64,258.77 594.14,258.42 594.64,258.07C595.14,257.72 595.64,257.38 596.14,257.05C596.64,256.71 597.14,256.39 597.64,256.07C598.15,255.75 598.65,255.43 599.15,255.13C599.65,254.82 600.15,254.53 600.65,254.24C601.15,253.95 601.65,253.67 602.15,253.4C602.65,253.12 603.15,252.86 603.65,252.61C604.15,252.35 604.65,252.11 605.15,251.87C605.66,251.64 606.16,251.42 606.66,251.2C607.16,250.99 607.66,250.79 608.16,250.59C608.66,250.4 609.16,250.22 609.66,250.05C610.16,249.88 610.66,249.72 611.16,249.58C611.66,249.43 612.16,249.3 612.66,249.18C613.16,249.06 613.67,248.95 614.17,248.85C614.67,248.76 615.17,248.67 615.67,248.61C616.17,248.54 616.67,248.48 617.17,248.44C617.67,248.4 618.17,248.38 618.67,248.37C619.17,248.35 619.67,248.36 620.17,248.38C620.67,248.4 621.17,248.43 621.68,248.48C622.18,248.53 622.68,248.6 623.18,248.68C623.68,248.77 624.18,248.87 624.68,248.98C625.18,249.1 625.68,249.24 626.18,249.39C626.68,249.54 627.18,249.71 627.68,249.9C628.18,250.09 628.68,250.3 629.18,250.53C629.69,250.76 630.19,251.01 630.69,251.28C631.19,251.54 631.69,251.83 632.19,252.14C632.69,252.45 633.19,252.78 633.69,253.13C634.19,253.48 634.69,253.86 635.19,254.25C635.69,254.65 636.19,255.06 636.69,255.5C637.19,255.94 637.7,256.41 638.2,256.89C638.7,257.38 639.2,257.89 639.7,258.42C640.2,258.96 640.95,259.82 641.2,260.1" fill="none" stroke="#bf5a27" stroke-width="1.45" stroke-linecap="butt" stroke-linejoin="round"/>
<path d="M403.9,409.8C404.15,409.54 404.9,408.77 405.4,408.26C405.9,407.75 406.4,407.24 406.9,406.73C407.4,406.22 407.91,405.72 408.41,405.21C408.91,404.71 409.41,404.21 409.91,403.71C410.41,403.21 410.91,402.71 411.41,402.21C411.91,401.71 412.41,401.22 412.91,400.73C413.41,400.23 413.91,399.74 414.41,399.25C414.91,398.76 415.41,398.27 415.92,397.79C416.42,397.3 416.92,396.81 417.42,396.33C417.92,395.85 418.42,395.37 418.92,394.89C419.42,394.41 419.92,393.93 420.42,393.45C420.92,392.97 421.42,392.5 421.92,392.03C422.42,391.55 422.92,391.08 423.42,390.61C423.93,390.14 424.43,389.67 424.93,389.2C425.43,388.74 425.93,388.27 426.43,387.81C426.93,387.34 427.43,386.88 427.93,386.42C428.43,385.96 428.93,385.5 429.43,385.04C429.93,384.58 430.43,384.13 430.93,383.67C431.43,383.22 431.94,382.76 432.44,382.31C432.94,381.86 433.44,381.41 433.94,380.96C434.44,380.51 434.94,380.06 435.44,379.62C435.94,379.17 436.44,378.73 436.94,378.28C437.44,377.84 437.94,377.4 438.44,376.96C438.94,376.52 439.44,376.08 439.95,375.64C440.45,375.2 440.95,374.76 441.45,374.33C441.95,373.89 442.45,373.46 442.95,373.03C443.45,372.6 443.95,372.16 444.45,371.73C444.95,371.3 445.45,370.88 445.95,370.45C446.45,370.02 446.95,369.6 447.46,369.17C447.96,368.75 448.46,368.32 448.96,367.9C449.46,367.48 449.96,367.06 450.46,366.64C450.96,366.22 451.46,365.8 451.96,365.38C452.46,364.96 452.96,364.55 453.46,364.13C453.96,363.72 454.46,363.3 454.96,362.89C455.47,362.48 455.97,362.07 456.47,361.66C456.97,361.25 457.47,360.84 457.97,360.43C458.47,360.02 458.97,359.61 459.47,359.21C459.97,358.8 460.47,358.4 460.97,357.99C461.47,357.59 461.97,357.19 462.47,356.78C462.97,356.38 463.48,355.98 463.98,355.58C464.48,355.18 464.98,354.78 465.48,354.39C465.98,353.99 466.48,353.59 466.98,353.2C467.48,352.8 467.98,352.41 468.48,352.01C468.98,351.62 469.48,351.23 469.98,350.84C470.48,350.45 470.98,350.05 471.49,349.66C471.99,349.28 472.49,348.89 472.99,348.5C473.49,348.11 473.99,347.72 474.49,347.34C474.99,346.95 475.49,346.57 475.99,346.18C476.49,345.8 476.99,345.41 477.49,345.03C477.99,344.65 478.49,344.27 478.99,343.89C479.5,343.51 480,343.13 480.5,342.75C481,342.37 481.5,341.99 482,341.61C482.5,341.23 483,340.86 483.5,340.48C484,340.11 484.5,339.73 485,339.36C485.5,338.98 486,338.61 486.5,338.23C487.01,337.86 487.51,337.49 488.01,337.12C488.51,336.75 489.01,336.37 489.51,336C490.01,335.63 490.51,335.27 491.01,334.9C491.51,334.53 492.01,334.16 492.51,333.79C493.01,333.42 493.51,333.06 494.01,332.69C494.51,332.33 495.02,331.96 495.52,331.59C496.02,331.23 496.52,330.87 497.02,330.5C497.52,330.14 498.02,329.77 498.52,329.41C499.02,329.05 499.52,328.69 500.02,328.33C500.52,327.96 501.02,327.6 501.52,327.24C502.02,326.88 502.52,326.52 503.03,326.16C503.53,325.8 504.03,325.44 504.53,325.09C505.03,324.73 505.53,324.37 506.03,324.01C506.53,323.66 507.03,323.3 507.53,322.94C508.03,322.59 508.53,322.23 509.03,321.87C509.53,321.52 510.03,321.16 510.53,320.81C511.04,320.45 511.54,320.1 512.04,319.75C512.54,319.39 513.04,319.04 513.54,318.68C514.04,318.33 514.54,317.98 515.04,317.63C515.54,317.27 516.04,316.92 516.54,316.57C517.04,316.22 517.54,315.87 518.04,315.51C518.54,315.16 519.05,314.81 519.55,314.46C520.05,314.11 520.55,313.76 521.05,313.41C521.55,313.06 522.05,312.71 522.55,312.36C523.05,312.01 523.55,311.66 524.05,311.31C524.55,310.96 525.05,310.62 525.55,310.27C526.05,309.92 526.56,309.57 527.06,309.22C527.56,308.87 528.06,308.52 528.56,308.18C529.06,307.83 529.56,307.48 530.06,307.13C530.56,306.79 531.06,306.44 531.56,306.09C532.06,305.74 532.56,305.4 533.06,305.05C533.56,304.7 534.06,304.35 534.57,304.01C535.07,303.66 535.57,303.31 536.07,302.97C536.57,302.62 537.07,302.27 537.57,301.93C538.07,301.58 538.57,301.23 539.07,300.89C539.57,300.54 540.07,300.19 540.57,299.85C541.07,299.5 541.57,299.15 542.07,298.81C542.58,298.46 543.08,298.11 543.58,297.77C544.08,297.42 544.58,297.07 545.08,296.73C545.58,296.38 546.08,296.03 546.58,295.69C547.08,295.34 547.58,294.99 548.08,294.65C548.58,294.3 549.08,293.95 549.58,293.6C550.08,293.26 550.59,292.91 551.09,292.56C551.59,292.21 552.09,291.87 552.59,291.52C553.09,291.17 553.59,290.82 554.09,290.47C554.59,290.13 555.09,289.78 555.59,289.43C556.09,289.08 556.59,288.73 557.09,288.38C557.59,288.04 558.09,287.69 558.6,287.34C559.1,286.99 559.6,286.65 560.1,286.3C560.6,285.96 561.1,285.61 561.6,285.27C562.1,284.93 562.6,284.59 563.1,284.25C563.6,283.91 564.1,283.58 564.6,283.24C565.1,282.91 565.6,282.58 566.11,282.25C566.61,281.92 567.11,281.6 567.61,281.27C568.11,280.95 568.61,280.63 569.11,280.32C569.61,280 570.11,279.69 570.61,279.39C571.11,279.08 571.61,278.78 572.11,278.48C572.61,278.18 573.11,277.89 573.61,277.6C574.12,277.31 574.62,277.03 575.12,276.75C575.62,276.47 576.12,276.2 576.62,275.93C577.12,275.66 577.62,275.4 578.12,275.15C578.62,274.89 579.12,274.64 579.62,274.4C580.12,274.16 580.62,273.92 581.12,273.7C581.62,273.47 582.13,273.25 582.63,273.04C583.13,272.82 583.63,272.62 584.13,272.42C584.63,272.22 585.13,272.03 585.63,271.85C586.13,271.67 586.63,271.49 587.13,271.33C587.63,271.16 588.13,271.01 588.63,270.86C589.13,270.7 589.63,270.56 590.14,270.43C590.64,270.29 591.14,270.16 591.64,270.04C592.14,269.92 592.64,269.8 593.14,269.69C593.64,269.58 594.14,269.48 594.64,269.38C595.14,269.28 595.64,269.19 596.14,269.11C596.64,269.02 597.14,268.94 597.64,268.86C598.15,268.79 598.65,268.72 599.15,268.65C599.65,268.59 600.15,268.53 600.65,268.47C601.15,268.41 601.65,268.36 602.15,268.31C602.65,268.26 603.15,268.22 603.65,268.18C604.15,268.14 604.65,268.1 605.15,268.07C605.66,268.03 606.16,268 606.66,267.97C607.16,267.95 607.66,267.92 608.16,267.9C608.66,267.87 609.16,267.85 609.66,267.84C610.16,267.82 610.66,267.8 611.16,267.79C611.66,267.77 612.16,267.76 612.66,267.75C613.16,267.73 613.67,267.72 614.17,267.71C614.67,267.7 615.17,267.7 615.67,267.69C616.17,267.68 616.67,267.67 617.17,267.66C617.67,267.65 618.17,267.64 618.67,267.63C619.17,267.62 619.67,267.6 620.17,267.58C620.67,267.56 621.17,267.54 621.68,267.51C622.18,267.48 622.68,267.44 623.18,267.4C623.68,267.35 624.18,267.3 624.68,267.24C625.18,267.19 625.68,267.12 626.18,267.04C626.68,266.96 627.18,266.87 627.68,266.77C628.18,266.67 628.68,266.56 629.18,266.44C629.69,266.31 630.19,266.17 630.69,266.02C631.19,265.86 631.69,265.7 632.19,265.51C632.69,265.33 633.19,265.13 633.69,264.91C634.19,264.69 634.69,264.45 635.19,264.2C635.69,263.94 636.19,263.67 636.69,263.37C637.19,263.07 637.7,262.76 638.2,262.42C638.7,262.08 639.2,261.72 639.7,261.33C640.2,260.94 640.95,260.3 641.2,260.1" fill="none" stroke="#4a90d8" stroke-width="1.45" stroke-linecap="butt" stroke-linejoin="round"/>
<path d="M403.9,409.8C404.15,409.44 404.9,408.34 405.4,407.62C405.9,406.9 406.4,406.18 406.9,405.48C407.4,404.77 407.91,404.07 408.41,403.37C408.91,402.68 409.41,401.99 409.91,401.31C410.41,400.62 410.91,399.95 411.41,399.28C411.91,398.61 412.41,397.94 412.91,397.28C413.41,396.62 413.91,395.97 414.41,395.32C414.91,394.68 415.41,394.03 415.92,393.4C416.42,392.76 416.92,392.13 417.42,391.51C417.92,390.88 418.42,390.26 418.92,389.65C419.42,389.03 419.92,388.42 420.42,387.82C420.92,387.21 421.42,386.62 421.92,386.02C422.42,385.43 422.92,384.84 423.42,384.25C423.93,383.67 424.43,383.09 424.93,382.52C425.43,381.94 425.93,381.37 426.43,380.81C426.93,380.24 427.43,379.68 427.93,379.12C428.43,378.57 428.93,378.02 429.43,377.47C429.93,376.92 430.43,376.38 430.93,375.84C431.43,375.3 431.94,374.76 432.44,374.23C432.94,373.7 433.44,373.18 433.94,372.65C434.44,372.13 434.94,371.61 435.44,371.1C435.94,370.58 436.44,370.07 436.94,369.56C437.44,369.05 437.94,368.55 438.44,368.05C438.94,367.55 439.44,367.05 439.95,366.56C440.45,366.06 440.95,365.57 441.45,365.08C441.95,364.6 442.45,364.11 442.95,363.63C443.45,363.15 443.95,362.67 444.45,362.2C444.95,361.72 445.45,361.25 445.95,360.78C446.45,360.31 446.95,359.84 447.46,359.38C447.96,358.92 448.46,358.45 448.96,358C449.46,357.54 449.96,357.08 450.46,356.63C450.96,356.17 451.46,355.72 451.96,355.27C452.46,354.82 452.96,354.38 453.46,353.93C453.96,353.49 454.46,353.05 454.96,352.6C455.47,352.16 455.97,351.73 456.47,351.29C456.97,350.85 457.47,350.42 457.97,349.98C458.47,349.55 458.97,349.12 459.47,348.69C459.97,348.26 460.47,347.83 460.97,347.4C461.47,346.98 461.97,346.55 462.47,346.13C462.97,345.7 463.48,345.28 463.98,344.86C464.48,344.44 464.98,344.02 465.48,343.6C465.98,343.18 466.48,342.76 466.98,342.34C467.48,341.92 467.98,341.51 468.48,341.09C468.98,340.67 469.48,340.26 469.98,339.84C470.48,339.43 470.98,339.02 471.49,338.6C471.99,338.19 472.49,337.78 472.99,337.36C473.49,336.95 473.99,336.54 474.49,336.13C474.99,335.71 475.49,335.3 475.99,334.89C476.49,334.48 476.99,334.07 477.49,333.65C477.99,333.24 478.49,332.83 478.99,332.42C479.5,332.01 480,331.59 480.5,331.18C481,330.77 481.5,330.36 482,329.94C482.5,329.53 483,329.12 483.5,328.7C484,328.29 484.5,327.88 485,327.46C485.5,327.05 486,326.63 486.5,326.22C487.01,325.8 487.51,325.39 488.01,324.97C488.51,324.56 489.01,324.14 489.51,323.73C490.01,323.31 490.51,322.9 491.01,322.48C491.51,322.07 492.01,321.65 492.51,321.23C493.01,320.82 493.51,320.4 494.01,319.99C494.51,319.57 495.02,319.15 495.52,318.74C496.02,318.32 496.52,317.91 497.02,317.49C497.52,317.07 498.02,316.66 498.52,316.24C499.02,315.82 499.52,315.41 500.02,314.99C500.52,314.57 501.02,314.16 501.52,313.74C502.02,313.33 502.52,312.91 503.03,312.49C503.53,312.08 504.03,311.66 504.53,311.24C505.03,310.83 505.53,310.41 506.03,309.99C506.53,309.58 507.03,309.16 507.53,308.75C508.03,308.33 508.53,307.91 509.03,307.5C509.53,307.08 510.03,306.67 510.53,306.25C511.04,305.84 511.54,305.42 512.04,305.01C512.54,304.59 513.04,304.18 513.54,303.76C514.04,303.35 514.54,302.93 515.04,302.52C515.54,302.1 516.04,301.69 516.54,301.27C517.04,300.86 517.54,300.45 518.04,300.03C518.54,299.62 519.05,299.21 519.55,298.79C520.05,298.38 520.55,297.97 521.05,297.56C521.55,297.14 522.05,296.73 522.55,296.32C523.05,295.91 523.55,295.5 524.05,295.09C524.55,294.67 525.05,294.26 525.55,293.85C526.05,293.44 526.56,293.03 527.06,292.62C527.56,292.21 528.06,291.8 528.56,291.39C529.06,290.99 529.56,290.58 530.06,290.17C530.56,289.76 531.06,289.35 531.56,288.95C532.06,288.54 532.56,288.13 533.06,287.73C533.56,287.32 534.06,286.91 534.57,286.51C535.07,286.1 535.57,285.7 536.07,285.29C536.57,284.89 537.07,284.49 537.57,284.08C538.07,283.68 538.57,283.28 539.07,282.87C539.57,282.47 540.07,282.07 540.57,281.67C541.07,281.27 541.57,280.87 542.07,280.47C542.58,280.07 543.08,279.67 543.58,279.27C544.08,278.87 544.58,278.47 545.08,278.07C545.58,277.68 546.08,277.28 546.58,276.88C547.08,276.49 547.58,276.09 548.08,275.7C548.58,275.3 549.08,274.91 549.58,274.52C550.08,274.12 550.59,273.73 551.09,273.34C551.59,272.95 552.09,272.55 552.59,272.16C553.09,271.77 553.59,271.38 554.09,270.99C554.59,270.61 555.09,270.22 555.59,269.83C556.09,269.44 556.59,269.06 557.09,268.67C557.59,268.28 558.09,267.9 558.6,267.51C559.1,267.13 559.6,266.75 560.1,266.36C560.6,265.98 561.1,265.6 561.6,265.22C562.1,264.84 562.6,264.46 563.1,264.08C563.6,263.7 564.1,263.32 564.6,262.95C565.1,262.57 565.6,262.19 566.11,261.82C566.61,261.44 567.11,261.07 567.61,260.69C568.11,260.32 568.61,259.95 569.11,259.58C569.61,259.2 570.11,258.83 570.61,258.46C571.11,258.1 571.61,257.73 572.11,257.36C572.61,256.99 573.11,256.62 573.61,256.26C574.12,255.9 574.62,255.53 575.12,255.17C575.62,254.81 576.12,254.45 576.62,254.09C577.12,253.73 577.62,253.38 578.12,253.03C578.62,252.67 579.12,252.32 579.62,251.98C580.12,251.63 580.62,251.29 581.12,250.95C581.62,250.61 582.13,250.28 582.63,249.95C583.13,249.62 583.63,249.29 584.13,248.97C584.63,248.65 585.13,248.33 585.63,248.02C586.13,247.71 586.63,247.41 587.13,247.11C587.63,246.81 588.13,246.51 588.63,246.23C589.13,245.94 589.63,245.66 590.14,245.38C590.64,245.11 591.14,244.84 591.64,244.58C592.14,244.32 592.64,244.07 593.14,243.82C593.64,243.58 594.14,243.34 594.64,243.11C595.14,242.88 595.64,242.66 596.14,242.45C596.64,242.24 597.14,242.04 597.64,241.84C598.15,241.65 598.65,241.47 599.15,241.29C599.65,241.12 600.15,240.95 600.65,240.8C601.15,240.64 601.65,240.5 602.15,240.36C602.65,240.23 603.15,240.11 603.65,240C604.15,239.88 604.65,239.78 605.15,239.7C605.66,239.61 606.16,239.53 606.66,239.47C607.16,239.4 607.66,239.35 608.16,239.31C608.66,239.27 609.16,239.24 609.66,239.23C610.16,239.21 610.66,239.21 611.16,239.23C611.66,239.24 612.16,239.27 612.66,239.31C613.16,239.35 613.67,239.4 614.17,239.47C614.67,239.54 615.17,239.63 615.67,239.73C616.17,239.83 616.67,239.94 617.17,240.07C617.67,240.2 618.17,240.35 618.67,240.51C619.17,240.68 619.67,240.85 620.17,241.05C620.67,241.25 621.17,241.46 621.68,241.69C622.18,241.91 622.68,242.16 623.18,242.42C623.68,242.69 624.18,242.97 624.68,243.27C625.18,243.56 625.68,243.88 626.18,244.22C626.68,244.55 627.18,244.9 627.68,245.27C628.18,245.64 628.68,246.03 629.18,246.44C629.69,246.85 630.19,247.28 630.69,247.73C631.19,248.17 631.69,248.64 632.19,249.13C632.69,249.61 633.19,250.12 633.69,250.65C634.19,251.17 634.69,251.72 635.19,252.29C635.69,252.85 636.19,253.44 636.69,254.05C637.19,254.66 637.7,255.29 638.2,255.94C638.7,256.59 639.2,257.26 639.7,257.95C640.2,258.65 640.95,259.74 641.2,260.1" fill="none" stroke="#c8161d" stroke-width="1.45" stroke-linecap="butt" stroke-linejoin="round"/>
<line x1="484.9" y1="394.5" x2="484.9" y2="319.4" stroke="url(#g3)" stroke-width="2.0"/>
<path d="M484.9,313.7 L482.4,319.9 L484.9,318.9 L487.4,319.9 Z" fill="#c8161d"/>
<line x1="547" y1="275.3" x2="547" y2="362.9" stroke="url(#g4)" stroke-width="2.0"/>
<path d="M547,368.6 L544.5,362.4 L547,363.4 L549.5,362.4 Z" fill="#17507e"/>
<text x="452.6" y="305.3" font-size="9.6" text-anchor="start" fill="#d23c3c" font-weight="normal">Charging</text>
<text x="551.6" y="381.2" font-size="9.6" text-anchor="middle" fill="#3a8fd4" font-weight="normal">Discharge</text>
<text transform="translate(506.6,298.4) rotate(-30)" font-size="10.46" text-anchor="middle" fill="#cf2a30" y="3.66" textLength="22.26" lengthAdjust="spacingAndGlyphs" x="0">100 s</text>
<text transform="translate(505.5,318.3) rotate(-30)" font-size="10.46" text-anchor="middle" fill="#c9703c" y="3.66" textLength="17.2" lengthAdjust="spacingAndGlyphs" x="0">75 s</text>
<text transform="translate(505.8,337.8) rotate(-30)" font-size="10.46" text-anchor="middle" fill="#ef8d5f" y="3.66" textLength="17.2" lengthAdjust="spacingAndGlyphs" x="0">50 s</text>
<text transform="translate(505.5,348.2) rotate(-30)" font-size="10.46" text-anchor="middle" fill="#f7b733" y="3.66" textLength="17.2" lengthAdjust="spacingAndGlyphs" x="0">25 s</text>
<text transform="translate(505,364.8) rotate(-30)" font-size="10.46" text-anchor="middle" fill="#2a2a2a" y="3.66" textLength="12.14" lengthAdjust="spacingAndGlyphs" x="0">0 s</text>
<text transform="translate(563.6,296.5) rotate(-30)" font-size="10.46" text-anchor="middle" fill="#4d93d9" y="3.66" textLength="22.26" lengthAdjust="spacingAndGlyphs" x="0">125 s</text>
<text transform="translate(563.6,315) rotate(-30)" font-size="10.46" text-anchor="middle" fill="#23ace6" y="3.66" textLength="22.26" lengthAdjust="spacingAndGlyphs" x="0">150 s</text>
<text transform="translate(565,334.6) rotate(-30)" font-size="10.46" text-anchor="middle" fill="#2c7cc6" y="3.66" textLength="22.26" lengthAdjust="spacingAndGlyphs" x="0">175 s</text>
<text transform="translate(565,355.4) rotate(-30)" font-size="10.46" text-anchor="middle" fill="#2e4963" y="3.66" textLength="22.26" lengthAdjust="spacingAndGlyphs" x="0">200 s</text>
<line x1="403.8" y1="236.2" x2="641.3" y2="236.2" stroke="#4d4d4d" stroke-width="0.85"/>
<line x1="403.8" y1="410.9" x2="641.3" y2="410.9" stroke="#4d4d4d" stroke-width="0.85"/>
<line x1="403.8" y1="236.2" x2="403.8" y2="410.9" stroke="#4d4d4d" stroke-width="0.85"/>
<line x1="641.3" y1="236.2" x2="641.3" y2="410.9" stroke="#4d4d4d" stroke-width="0.85"/>
<line x1="400.5" y1="236.2" x2="403.8" y2="236.2" stroke="#4d4d4d" stroke-width="0.85"/>
<line x1="400.5" y1="294.4" x2="403.8" y2="294.4" stroke="#4d4d4d" stroke-width="0.85"/>
<line x1="400.5" y1="352.6" x2="403.8" y2="352.6" stroke="#4d4d4d" stroke-width="0.85"/>
<line x1="400.5" y1="410.9" x2="403.8" y2="410.9" stroke="#4d4d4d" stroke-width="0.85"/>
<line x1="641.3" y1="236.2" x2="644.6" y2="236.2" stroke="#4d4d4d" stroke-width="0.85"/>
<line x1="641.3" y1="294.4" x2="644.6" y2="294.4" stroke="#4d4d4d" stroke-width="0.85"/>
<line x1="641.3" y1="352.6" x2="644.6" y2="352.6" stroke="#4d4d4d" stroke-width="0.85"/>
<line x1="641.3" y1="410.9" x2="644.6" y2="410.9" stroke="#4d4d4d" stroke-width="0.85"/>
<line x1="403.8" y1="410.9" x2="403.8" y2="414.2" stroke="#4d4d4d" stroke-width="0.85"/>
<line x1="463.18" y1="410.9" x2="463.18" y2="414.2" stroke="#4d4d4d" stroke-width="0.85"/>
<line x1="522.55" y1="410.9" x2="522.55" y2="414.2" stroke="#4d4d4d" stroke-width="0.85"/>
<line x1="581.92" y1="410.9" x2="581.92" y2="414.2" stroke="#4d4d4d" stroke-width="0.85"/>
<line x1="641.3" y1="410.9" x2="641.3" y2="414.2" stroke="#4d4d4d" stroke-width="0.85"/>
<text x="396.2" y="239.2" font-size="9.7" text-anchor="end" fill="#231f20" font-weight="normal" textLength="24.27" lengthAdjust="spacingAndGlyphs">2,515</text>
<text x="396.2" y="297.4" font-size="9.7" text-anchor="end" fill="#231f20" font-weight="normal" textLength="24.27" lengthAdjust="spacingAndGlyphs">2,510</text>
<text x="396.2" y="355.6" font-size="9.7" text-anchor="end" fill="#231f20" font-weight="normal" textLength="24.27" lengthAdjust="spacingAndGlyphs">2,505</text>
<text x="396.2" y="413.9" font-size="9.7" text-anchor="end" fill="#231f20" font-weight="normal" textLength="24.27" lengthAdjust="spacingAndGlyphs">2,500</text>
<text x="648.4" y="239.5" font-size="9.7" text-anchor="start" fill="#231f20" font-weight="normal" textLength="10.79" lengthAdjust="spacingAndGlyphs">15</text>
<text x="648.4" y="297.7" font-size="9.7" text-anchor="start" fill="#231f20" font-weight="normal" textLength="10.79" lengthAdjust="spacingAndGlyphs">10</text>
<text x="648.4" y="355.9" font-size="9.7" text-anchor="start" fill="#231f20" font-weight="normal" textLength="5.39" lengthAdjust="spacingAndGlyphs">5</text>
<text x="648.4" y="414.2" font-size="9.7" text-anchor="start" fill="#231f20" font-weight="normal" textLength="5.39" lengthAdjust="spacingAndGlyphs">0</text>
<text x="403.8" y="428.6" font-size="9.8" text-anchor="middle" fill="#231f20" font-weight="normal" textLength="5.45" lengthAdjust="spacingAndGlyphs">0</text>
<text x="463.18" y="428.6" font-size="9.8" text-anchor="middle" fill="#231f20" font-weight="normal" textLength="16.35" lengthAdjust="spacingAndGlyphs">100</text>
<text x="522.55" y="428.6" font-size="9.8" text-anchor="middle" fill="#231f20" font-weight="normal" textLength="16.35" lengthAdjust="spacingAndGlyphs">200</text>
<text x="581.92" y="428.6" font-size="9.8" text-anchor="middle" fill="#231f20" font-weight="normal" textLength="16.35" lengthAdjust="spacingAndGlyphs">300</text>
<text x="641.3" y="428.6" font-size="9.8" text-anchor="middle" fill="#231f20" font-weight="normal" textLength="16.35" lengthAdjust="spacingAndGlyphs">400</text>
<text x="366.6" y="319.1" font-size="10.5" text-anchor="middle" fill="#231f20" font-weight="normal" transform="rotate(-90 366.6 319.1)">Concentration in CEP (mM)</text>
<text x="377.9" y="221.9" font-size="10.37" fill="#231f20">c<tspan dy="3.6" font-size="7.1">CEP,Na</tspan><tspan dy="-2.4" font-size="4.99">+</tspan></text>
<text x="619.5" y="222.3" font-size="10.37" fill="#231f20">c<tspan dy="3.6" font-size="7.1">CEP,Cl</tspan><tspan dy="-2.4" font-size="4.99">−</tspan></text>
<text x="-0.6" y="453.4" font-size="15.5" text-anchor="start" fill="#000" font-weight="bold" stroke="#000" stroke-width="0.6">d</text>
<path d="M40.5,585.4C40.75,586.33 41.42,588.98 42,591C42.58,593.02 43.17,595.33 44,597.5C44.83,599.67 45.92,602.17 47,604C48.08,605.83 49.17,607.28 50.5,608.5C51.83,609.72 53.08,610.6 55,611.3C56.92,612 59.5,612.52 62,612.7C64.5,612.88 67,612.55 70,612.4C73,612.25 75,612.07 80,611.8C85,611.53 93.33,610.93 100,610.8C106.67,610.67 114.17,610.92 120,611C125.83,611.08 131.2,611.25 135,611.3C138.8,611.35 140.8,611.6 142.8,611.3C144.8,611 145.72,610.55 147,609.5C148.28,608.45 149.42,606.75 150.5,605C151.58,603.25 152.5,601.08 153.5,599C154.5,596.92 155.55,594.63 156.5,592.5C157.45,590.37 158.75,587.25 159.2,586.2" fill="none" stroke="#16415f" stroke-width="1.45" stroke-linecap="butt" stroke-linejoin="round"/>
<path d="M40.5,563.9C40.75,564.67 41.33,566.82 42,568.5C42.67,570.18 43.5,572.33 44.5,574C45.5,575.67 46.75,577.3 48,578.5C49.25,579.7 50.37,580.58 52,581.2C53.63,581.82 55.97,582.15 57.8,582.2C59.63,582.25 60.97,581.82 63,581.5C65.03,581.18 67.17,580.62 70,580.3C72.83,579.98 75,579.73 80,579.6C85,579.47 93.33,579.43 100,579.5C106.67,579.57 114.17,579.67 120,580C125.83,580.33 131.33,580.92 135,581.5C138.67,582.08 139.97,582.95 142,583.5C144.03,584.05 145.7,584.8 147.2,584.8C148.7,584.8 149.78,584.38 151,583.5C152.22,582.62 153.45,581.08 154.5,579.5C155.55,577.92 156.52,575.62 157.3,574C158.08,572.38 158.88,570.5 159.2,569.8" fill="none" stroke="#1b6fbd" stroke-width="1.45" stroke-linecap="butt" stroke-linejoin="round"/>
<path d="M40.5,561.5C40.88,561.4 42.05,560.82 42.8,560.9C43.55,560.98 44.13,561.32 45,562C45.87,562.68 46.83,563.67 48,565C49.17,566.33 50.67,568.42 52,570C53.33,571.58 54.33,573.27 56,574.5C57.67,575.73 59.67,576.73 62,577.4C64.33,578.07 67,578.27 70,578.5C73,578.73 75,578.75 80,578.8C85,578.85 93.33,578.73 100,578.8C106.67,578.87 114.17,579.03 120,579.2C125.83,579.37 131.33,579.83 135,579.8C138.67,579.77 140,579.47 142,579C144,578.53 145.5,577.92 147,577C148.5,576.08 149.83,574.75 151,573.5C152.17,572.25 152.97,570.7 154,569.5C155.03,568.3 156.33,566.73 157.2,566.3C158.07,565.87 158.87,566.8 159.2,566.9" fill="none" stroke="#f8b600" stroke-width="1.45" stroke-linecap="butt" stroke-linejoin="round"/>
<path d="M40.5,541.6C40.92,542.08 42.08,543.55 43,544.5C43.92,545.45 44.87,546.67 46,547.3C47.13,547.93 48.47,548.27 49.8,548.3C51.13,548.33 52.63,547.92 54,547.5C55.37,547.08 56.67,546.3 58,545.8C59.33,545.3 60,544.92 62,544.5C64,544.08 67,543.55 70,543.3C73,543.05 75.83,542.83 80,543C84.17,543.17 90,544.05 95,544.3C100,544.55 105,544.43 110,544.5C115,544.57 120.83,544.52 125,544.7C129.17,544.88 132.17,545.05 135,545.6C137.83,546.15 140,547.1 142,548C144,548.9 145.53,550.28 147,551C148.47,551.72 149.63,552.22 150.8,552.3C151.97,552.38 152.97,552.05 154,551.5C155.03,550.95 156.13,549.92 157,549C157.87,548.08 158.83,546.5 159.2,546" fill="none" stroke="#18a9e6" stroke-width="1.45" stroke-linecap="butt" stroke-linejoin="round"/>
<path d="M40.5,538.2C40.92,537.58 42.08,535.4 43,534.5C43.92,533.6 45.08,533.15 46,532.8C46.92,532.45 47.5,532.33 48.5,532.4C49.5,532.47 50.75,532.68 52,533.2C53.25,533.72 54.33,534.53 56,535.5C57.67,536.47 59.67,538 62,539C64.33,540 67,540.93 70,541.5C73,542.07 75.83,542.1 80,542.4C84.17,542.7 90,543.15 95,543.3C100,543.45 105,543.35 110,543.3C115,543.25 120.83,543.22 125,543C129.17,542.78 132.17,542.5 135,542C137.83,541.5 140,540.67 142,540C144,539.33 145.42,538.5 147,538C148.58,537.5 150.17,537.03 151.5,537C152.83,536.97 154,537.3 155,537.8C156,538.3 156.8,539.05 157.5,540C158.2,540.95 158.92,542.92 159.2,543.5" fill="none" stroke="#ea7a40" stroke-width="1.45" stroke-linecap="butt" stroke-linejoin="round"/>
<path d="M40.5,517C40.83,517.18 41.75,518.1 42.5,518.1C43.25,518.1 43.92,517.77 45,517C46.08,516.23 47.67,514.67 49,513.5C50.33,512.33 51.67,510.95 53,510C54.33,509.05 55.5,508.37 57,507.8C58.5,507.23 59.83,506.87 62,506.6C64.17,506.33 67,506.27 70,506.2C73,506.13 75.83,506.15 80,506.2C84.17,506.25 90,506.4 95,506.5C100,506.6 105,506.63 110,506.8C115,506.97 120.83,507.13 125,507.5C129.17,507.87 132.17,508.33 135,509C137.83,509.67 139.83,510.42 142,511.5C144.17,512.58 146.17,514.08 148,515.5C149.83,516.92 151.58,518.82 153,520C154.42,521.18 155.47,522.22 156.5,522.6C157.53,522.98 158.75,522.35 159.2,522.3" fill="none" stroke="#4a90d8" stroke-width="1.45" stroke-linecap="butt" stroke-linejoin="round"/>
<path d="M40.5,514.3C40.83,513.33 41.75,510.22 42.5,508.5C43.25,506.78 44.08,505.17 45,504C45.92,502.83 47,502.08 48,501.5C49,500.92 50.08,500.68 51,500.5C51.92,500.32 52.33,500.32 53.5,500.4C54.67,500.48 56.58,500.73 58,501C59.42,501.27 60,501.5 62,502C64,502.5 67,503.42 70,504C73,504.58 75.83,505.13 80,505.5C84.17,505.87 90,506.07 95,506.2C100,506.33 105,506.42 110,506.3C115,506.18 120.83,505.78 125,505.5C129.17,505.22 131.95,504.82 135,504.6C138.05,504.38 141.13,504.05 143.3,504.2C145.47,504.35 146.55,504.78 148,505.5C149.45,506.22 150.75,507.25 152,508.5C153.25,509.75 154.3,511.2 155.5,513C156.7,514.8 158.58,518.25 159.2,519.3" fill="none" stroke="#bf5a27" stroke-width="1.45" stroke-linecap="butt" stroke-linejoin="round"/>
<path d="M40.5,496.6C40.75,495.67 41.42,492.85 42,491C42.58,489.15 43.25,487.17 44,485.5C44.75,483.83 45.5,482.37 46.5,481C47.5,479.63 48.58,478.27 50,477.3C51.42,476.33 53,475.68 55,475.2C57,474.72 59.5,474.5 62,474.4C64.5,474.3 67,474.5 70,474.6C73,474.7 75.83,474.93 80,475C84.17,475.07 90,475.08 95,475C100,474.92 105,474.7 110,474.5C115,474.3 120.7,473.97 125,473.8C129.3,473.63 133.13,473.4 135.8,473.5C138.47,473.6 139.38,473.9 141,474.4C142.62,474.9 144.08,475.57 145.5,476.5C146.92,477.43 148.25,478.67 149.5,480C150.75,481.33 151.92,482.92 153,484.5C154.08,486.08 154.97,487.35 156,489.5C157.03,491.65 158.67,496.08 159.2,497.4" fill="none" stroke="#c8161d" stroke-width="1.45" stroke-linecap="butt" stroke-linejoin="round"/>
<line x1="62.6" y1="617.2" x2="62.6" y2="466.1" stroke="url(#g5)" stroke-width="2.0"/>
<path d="M62.6,460.4 L60.1,466.6 L62.6,465.6 L65.1,466.6 Z" fill="#c8161d"/>
<line x1="108.6" y1="462.3" x2="108.6" y2="613.1" stroke="url(#g6)" stroke-width="2.0"/>
<path d="M108.6,618.8 L106.1,612.6 L108.6,613.6 L111.1,612.6 Z" fill="#17507e"/>
<text x="79.4" y="486.9" font-size="10.7" text-anchor="middle" fill="#cf2a30" font-weight="normal" textLength="22.75" lengthAdjust="spacingAndGlyphs">100 s</text>
<text x="79.4" y="520.8" font-size="10.7" text-anchor="middle" fill="#c9703c" font-weight="normal" textLength="17.58" lengthAdjust="spacingAndGlyphs">75 s</text>
<text x="79.4" y="555.1" font-size="10.7" text-anchor="middle" fill="#ef8d5f" font-weight="normal" textLength="17.58" lengthAdjust="spacingAndGlyphs">50 s</text>
<text x="79.4" y="594.2" font-size="10.7" text-anchor="middle" fill="#f7b733" font-weight="normal" textLength="17.58" lengthAdjust="spacingAndGlyphs">25 s</text>
<text x="79.4" y="623.5" font-size="10.7" text-anchor="middle" fill="#2a2a2a" font-weight="normal" textLength="12.41" lengthAdjust="spacingAndGlyphs">0 s</text>
<text x="124.9" y="497.9" font-size="10.7" text-anchor="middle" fill="#4d93d9" font-weight="normal" textLength="22.75" lengthAdjust="spacingAndGlyphs">125 s</text>
<text x="124.9" y="533.2" font-size="10.7" text-anchor="middle" fill="#23ace6" font-weight="normal" textLength="22.75" lengthAdjust="spacingAndGlyphs">150 s</text>
<text x="124.9" y="569.6" font-size="10.7" text-anchor="middle" fill="#2c7cc6" font-weight="normal" textLength="22.75" lengthAdjust="spacingAndGlyphs">175 s</text>
<text x="124.9" y="605.4" font-size="10.7" text-anchor="middle" fill="#2e4963" font-weight="normal" textLength="22.75" lengthAdjust="spacingAndGlyphs">200 s</text>
<text x="122.5" y="623.6" font-size="9.72" fill="#231f20">c<tspan dy="3.6" font-size="6.66">pore,Na</tspan><tspan dy="-2.4" font-size="4.68">+</tspan></text>
<line x1="40.5" y1="451.3" x2="159.2" y2="451.3" stroke="#4d4d4d" stroke-width="0.85"/>
<line x1="40.5" y1="632.4" x2="159.2" y2="632.4" stroke="#4d4d4d" stroke-width="0.85"/>
<line x1="40.5" y1="451.3" x2="40.5" y2="632.4" stroke="#4d4d4d" stroke-width="0.85"/>
<line x1="159.2" y1="451.3" x2="159.2" y2="632.4" stroke="#4d4d4d" stroke-width="0.85"/>
<line x1="37.2" y1="451.3" x2="40.5" y2="451.3" stroke="#4d4d4d" stroke-width="0.85"/>
<line x1="37.2" y1="541.85" x2="40.5" y2="541.85" stroke="#4d4d4d" stroke-width="0.85"/>
<line x1="37.2" y1="632.4" x2="40.5" y2="632.4" stroke="#4d4d4d" stroke-width="0.85"/>
<line x1="40.5" y1="632.4" x2="40.5" y2="635.7" stroke="#4d4d4d" stroke-width="0.85"/>
<line x1="99.85" y1="632.4" x2="99.85" y2="635.7" stroke="#4d4d4d" stroke-width="0.85"/>
<line x1="159.2" y1="632.4" x2="159.2" y2="635.7" stroke="#4d4d4d" stroke-width="0.85"/>
<text x="32" y="454.6" font-size="9.29" text-anchor="end" fill="#231f20" font-weight="normal" textLength="16.85" lengthAdjust="spacingAndGlyphs">350</text>
<text x="32" y="545.15" font-size="9.29" text-anchor="end" fill="#231f20" font-weight="normal" textLength="16.85" lengthAdjust="spacingAndGlyphs">250</text>
<text x="32" y="635.7" font-size="9.29" text-anchor="end" fill="#231f20" font-weight="normal" textLength="16.85" lengthAdjust="spacingAndGlyphs">150</text>
<text x="40.5" y="646" font-size="9.38" text-anchor="middle" fill="#231f20" font-weight="normal" textLength="5.67" lengthAdjust="spacingAndGlyphs">0</text>
<text x="99.85" y="646" font-size="9.38" text-anchor="middle" fill="#231f20" font-weight="normal" textLength="17.02" lengthAdjust="spacingAndGlyphs">200</text>
<text x="159.2" y="646" font-size="9.38" text-anchor="middle" fill="#231f20" font-weight="normal" textLength="17.02" lengthAdjust="spacingAndGlyphs">400</text>
<text x="9.8" y="539.5" font-size="10.9" text-anchor="middle" fill="#231f20" font-weight="normal" transform="rotate(-90 9.8 539.5)">Concentration in pore (mM)</text>
<text x="173.4" y="658.9" font-size="10.4" text-anchor="middle" fill="#231f20">Position, <tspan font-style="italic">x</tspan> (µm)</text>
<path d="M192.4,616.5C192.78,614 193.77,606.77 194.7,601.5C195.63,596.23 196.77,590.17 198,584.9C199.23,579.63 200.72,573.65 202.1,569.9C203.48,566.15 205.05,564.2 206.3,562.4C207.55,560.6 207.1,559.73 209.6,559.1C212.1,558.47 216.58,558.65 221.3,558.6C226.02,558.55 233.12,558.83 237.9,558.8C242.68,558.77 245.22,558.77 250,558.4C254.78,558.03 261.6,557.28 266.6,556.6C271.6,555.92 276.77,554.73 280,554.3C283.23,553.87 284.07,553.88 286,554C287.93,554.12 289.83,553.87 291.6,555C293.37,556.13 295.22,558.32 296.6,560.8C297.98,563.28 298.8,566.17 299.9,569.9C301,573.63 302.23,578.77 303.2,583.2C304.17,587.63 304.93,591.93 305.7,596.5C306.47,601.07 307.45,608.25 307.8,610.6" fill="none" stroke="#c8161d" stroke-width="1.45" stroke-linecap="butt" stroke-linejoin="round"/>
<path d="M192.4,589.9C193.05,588.23 194.82,583.52 196.3,579.9C197.78,576.28 199.63,571.38 201.3,568.2C202.97,565.02 204.37,562.6 206.3,560.8C208.23,559 209.02,558.17 212.9,557.4C216.78,556.63 222.58,556.6 229.6,556.2C236.62,555.8 247.45,555.48 255,555C262.55,554.52 270.4,553.55 274.9,553.3C279.4,553.05 280.05,553.22 282,553.5C283.95,553.78 284.73,554.07 286.6,555C288.47,555.93 291.27,556.9 293.2,559.1C295.13,561.3 296.53,564.73 298.2,568.2C299.87,571.67 301.82,577.27 303.2,579.9C304.58,582.53 305.73,583.45 306.5,584C307.27,584.55 307.58,583.33 307.8,583.2" fill="none" stroke="#4a90d8" stroke-width="1.45" stroke-linecap="butt" stroke-linejoin="round"/>
<path d="M192.4,584.9C192.67,582.92 193.35,576.6 194,573C194.65,569.4 195.58,565.88 196.3,563.3C197.02,560.72 197.6,559.17 198.3,557.5C199,555.83 199.45,554.7 200.5,553.3C201.55,551.9 203.08,549.72 204.6,549.1C206.12,548.48 207.38,549.05 209.6,549.6C211.82,550.15 213.18,551.78 217.9,552.4C222.62,553.02 231.72,553.1 237.9,553.3C244.08,553.5 249.65,553.82 255,553.6C260.35,553.38 265.83,552.5 270,552C274.17,551.5 277.23,551.47 280,550.6C282.77,549.73 284.77,547.82 286.6,546.8C288.43,545.78 289.62,544.95 291,544.5C292.38,544.05 293.65,543.77 294.9,544.1C296.15,544.43 297.4,545.35 298.5,546.5C299.6,547.65 300.43,548.2 301.5,551C302.57,553.8 303.85,558.77 304.9,563.3C305.95,567.83 307.32,575.72 307.8,578.2" fill="none" stroke="#bf5a27" stroke-width="1.45" stroke-linecap="butt" stroke-linejoin="round"/>
<path d="M192.4,554.1C192.92,555.63 194.3,560.88 195.5,563.3C196.7,565.72 198.08,568.05 199.6,568.6C201.12,569.15 202.38,568.18 204.6,566.6C206.82,565.02 210.12,561 212.9,559.1C215.68,557.2 217.13,556.38 221.3,555.2C225.47,554.02 232.28,552.77 237.9,552C243.52,551.23 249.65,550.88 255,550.6C260.35,550.32 265.83,550.3 270,550.3C274.17,550.3 277.17,550.23 280,550.6C282.83,550.97 285,551.52 287,552.5C289,553.48 290.5,555 292,556.5C293.5,558 294.83,560.37 296,561.5C297.17,562.63 298,563.3 299,563.3C300,563.3 301,562.8 302,561.5C303,560.2 304.03,557.98 305,555.5C305.97,553.02 307.33,548.08 307.8,546.6" fill="none" stroke="#18a9e6" stroke-width="1.45" stroke-linecap="butt" stroke-linejoin="round"/>
<path d="M192.4,548C192.75,546.67 193.82,542.08 194.5,540C195.18,537.92 195.83,536.42 196.5,535.5C197.17,534.58 197.75,534.45 198.5,534.5C199.25,534.55 200.17,535.05 201,535.8C201.83,536.55 202.58,537.63 203.5,539C204.42,540.37 205.48,542.45 206.5,544C207.52,545.55 208.52,547.13 209.6,548.3C210.68,549.47 211.62,550.32 213,551C214.38,551.68 213.75,552.4 217.9,552.4C222.05,552.4 231.72,551.5 237.9,551C244.08,550.5 249.65,549.73 255,549.4C260.35,549.07 265.83,549.32 270,549C274.17,548.68 277.55,548.18 280,547.5C282.45,546.82 283.2,546.32 284.7,544.9C286.2,543.48 287.55,540.88 289,539C290.45,537.12 292.07,535.1 293.4,533.6C294.73,532.1 295.7,530.87 297,530C298.3,529.13 300.03,528.48 301.2,528.4C302.37,528.32 303.27,528.92 304,529.5C304.73,530.08 304.97,529.77 305.6,531.9C306.23,534.03 307.43,540.57 307.8,542.3" fill="none" stroke="#ea7a40" stroke-width="1.45" stroke-linecap="butt" stroke-linejoin="round"/>
<path d="M192.4,514.5C192.83,516.23 194,521.13 195,524.9C196,528.67 197.25,533.33 198.4,537.1C199.55,540.87 200.8,544.77 201.9,547.5C203,550.23 203.98,552.05 205,553.5C206.02,554.95 206.5,556.05 208,556.2C209.5,556.35 211.55,555.27 214,554.4C216.45,553.53 218.35,552 222.7,551C227.05,550 234.22,549.05 240.1,548.4C245.98,547.75 252.18,547.28 258,547.1C263.82,546.92 270.5,547.07 275,547.3C279.5,547.53 282.33,547.97 285,548.5C287.67,549.03 289.02,550.03 291,550.5C292.98,550.97 295.4,552.05 296.9,551.3C298.4,550.55 299.13,548.67 300,546C300.87,543.33 301.17,539.4 302.1,535.3C303.03,531.2 304.65,525.88 305.6,521.4C306.55,516.92 307.43,510.57 307.8,508.4" fill="none" stroke="#1b6fbd" stroke-width="1.45" stroke-linecap="butt" stroke-linejoin="round"/>
<path d="M192.4,508.4C192.83,508.55 194,507.7 195,509.3C196,510.9 197.25,514.53 198.4,518C199.55,521.47 200.73,526.48 201.9,530.1C203.07,533.72 203.95,536.8 205.4,539.7C206.85,542.6 207.72,546.2 210.6,547.5C213.48,548.8 217.78,547.8 222.7,547.5C227.62,547.2 234.22,546.05 240.1,545.7C245.98,545.35 252.68,545.43 258,545.4C263.32,545.37 268,545.65 272,545.5C276,545.35 279.45,545.18 282,544.5C284.55,543.82 285.88,542.98 287.3,541.4C288.72,539.82 289.48,537.47 290.5,535C291.52,532.53 292.48,529.1 293.4,526.6C294.32,524.1 295.13,522.02 296,520C296.87,517.98 297.58,516.87 298.6,514.5C299.62,512.13 300.93,507.97 302.1,505.8C303.27,503.63 304.65,502.22 305.6,501.5C306.55,500.78 307.43,501.5 307.8,501.5" fill="none" stroke="#f8b600" stroke-width="1.45" stroke-linecap="butt" stroke-linejoin="round"/>
<path d="M192.4,471.9C192.75,474.42 193.82,482.32 194.5,487C195.18,491.68 195.85,495.42 196.5,500C197.15,504.58 197.65,509.83 198.4,514.5C199.15,519.17 200.13,523.95 201,528C201.87,532.05 202.68,535.8 203.6,538.8C204.52,541.8 205.48,544.12 206.5,546C207.52,547.88 208.45,549.47 209.7,550.1C210.95,550.73 211.83,550.38 214,549.8C216.17,549.22 218.35,547.62 222.7,546.6C227.05,545.58 234.22,544.37 240.1,543.7C245.98,543.03 253.02,542.77 258,542.6C262.98,542.43 266.33,542.5 270,542.7C273.67,542.9 277.5,543.45 280,543.8C282.5,544.15 283.48,544.48 285,544.8C286.52,545.12 287.77,545.92 289.1,545.7C290.43,545.48 291.85,544.78 293,543.5C294.15,542.22 295,540.58 296,538C297,535.42 298,532 299,528C300,524 301,520.33 302,514C303,507.67 304.03,498.25 305,490C305.97,481.75 307.33,468.75 307.8,464.5" fill="none" stroke="#16415f" stroke-width="1.45" stroke-linecap="butt" stroke-linejoin="round"/>
<line x1="227.9" y1="537" x2="227.9" y2="562.1" stroke="url(#g7)" stroke-width="2.0"/>
<path d="M227.9,567.8 L225.4,561.6 L227.9,562.6 L230.4,561.6 Z" fill="#e0502a"/>
<line x1="269.5" y1="566.8" x2="269.5" y2="541.6" stroke="url(#g8)" stroke-width="2.0"/>
<path d="M269.5,535.9 L267,542.1 L269.5,541.1 L272,542.1 Z" fill="#2a7fc0"/>
<text x="230.3" y="582.5" font-size="9.6" text-anchor="middle" fill="#d43a3a" font-weight="normal">Charging</text>
<text x="263.6" y="528.3" font-size="9.6" text-anchor="middle" fill="#3a8fd4" font-weight="normal">Discharge</text>
<text x="270.4" y="624.8" font-size="9.72" fill="#231f20">c<tspan dy="3.6" font-size="6.66">pore,Cl</tspan><tspan dy="-2.4" font-size="4.68">−</tspan></text>
<line x1="192.4" y1="451.3" x2="308" y2="451.3" stroke="#4d4d4d" stroke-width="0.85"/>
<line x1="192.4" y1="632.4" x2="308" y2="632.4" stroke="#4d4d4d" stroke-width="0.85"/>
<line x1="192.4" y1="451.3" x2="192.4" y2="632.4" stroke="#4d4d4d" stroke-width="0.85"/>
<line x1="308" y1="451.3" x2="308" y2="632.4" stroke="#4d4d4d" stroke-width="0.85"/>
<line x1="189.1" y1="451" x2="192.4" y2="451" stroke="#4d4d4d" stroke-width="0.85"/>
<line x1="189.1" y1="541.5" x2="192.4" y2="541.5" stroke="#4d4d4d" stroke-width="0.85"/>
<line x1="189.1" y1="632" x2="192.4" y2="632" stroke="#4d4d4d" stroke-width="0.85"/>
<line x1="192.4" y1="632.4" x2="192.4" y2="635.7" stroke="#4d4d4d" stroke-width="0.85"/>
<line x1="250.2" y1="632.4" x2="250.2" y2="635.7" stroke="#4d4d4d" stroke-width="0.85"/>
<line x1="308" y1="632.4" x2="308" y2="635.7" stroke="#4d4d4d" stroke-width="0.85"/>
<text x="185.6" y="454.3" font-size="9.29" text-anchor="end" fill="#231f20" font-weight="normal" textLength="16.85" lengthAdjust="spacingAndGlyphs">220</text>
<text x="185.6" y="544.8" font-size="9.29" text-anchor="end" fill="#231f20" font-weight="normal" textLength="16.85" lengthAdjust="spacingAndGlyphs">170</text>
<text x="185.6" y="635.3" font-size="9.29" text-anchor="end" fill="#231f20" font-weight="normal" textLength="16.85" lengthAdjust="spacingAndGlyphs">120</text>
<text x="192.4" y="646" font-size="9.38" text-anchor="middle" fill="#231f20" font-weight="normal" textLength="5.67" lengthAdjust="spacingAndGlyphs">0</text>
<text x="250.2" y="646" font-size="9.38" text-anchor="middle" fill="#231f20" font-weight="normal" textLength="17.02" lengthAdjust="spacingAndGlyphs">200</text>
<text x="308" y="646" font-size="9.38" text-anchor="middle" fill="#231f20" font-weight="normal" textLength="17.02" lengthAdjust="spacingAndGlyphs">400</text>
<text x="356.8" y="453.2" font-size="15.5" text-anchor="start" fill="#000" font-weight="bold" stroke="#000" stroke-width="0.6">f</text>
<path d="M401.8,577.1C401.97,577.01 402.47,576.74 402.81,576.55C403.14,576.36 403.48,576.17 403.81,575.97C404.15,575.77 404.48,575.57 404.82,575.37C405.15,575.16 405.49,574.96 405.82,574.75C406.16,574.54 406.49,574.32 406.83,574.1C407.16,573.89 407.5,573.67 407.84,573.44C408.17,573.22 408.51,573 408.84,572.77C409.18,572.54 409.51,572.31 409.85,572.08C410.18,571.84 410.52,571.61 410.85,571.37C411.19,571.13 411.52,570.89 411.86,570.65C412.19,570.41 412.53,570.17 412.87,569.92C413.2,569.68 413.54,569.43 413.87,569.19C414.21,568.94 414.54,568.69 414.88,568.44C415.21,568.19 415.55,567.94 415.88,567.69C416.22,567.44 416.55,567.18 416.89,566.93C417.22,566.68 417.56,566.42 417.89,566.17C418.23,565.92 418.57,565.66 418.9,565.41C419.24,565.16 419.57,564.9 419.91,564.65C420.24,564.39 420.58,564.14 420.91,563.89C421.25,563.63 421.58,563.38 421.92,563.13C422.25,562.88 422.59,562.63 422.92,562.38C423.26,562.13 423.6,561.88 423.93,561.63C424.27,561.38 424.6,561.13 424.94,560.88C425.27,560.64 425.61,560.39 425.94,560.15C426.28,559.9 426.61,559.66 426.95,559.41C427.28,559.17 427.62,558.93 427.95,558.69C428.29,558.45 428.62,558.21 428.96,557.97C429.3,557.73 429.63,557.49 429.97,557.25C430.3,557.01 430.64,556.78 430.97,556.54C431.31,556.31 431.64,556.07 431.98,555.84C432.31,555.6 432.65,555.37 432.98,555.14C433.32,554.91 433.65,554.68 433.99,554.45C434.33,554.22 434.66,553.99 435,553.76C435.33,553.53 435.67,553.31 436,553.08C436.34,552.86 436.67,552.63 437.01,552.41C437.34,552.19 437.68,551.97 438.01,551.74C438.35,551.52 438.68,551.3 439.02,551.09C439.35,550.87 439.69,550.65 440.03,550.43C440.36,550.22 440.7,550 441.03,549.79C441.37,549.57 441.7,549.36 442.04,549.15C442.37,548.94 442.71,548.73 443.04,548.52C443.38,548.31 443.71,548.1 444.05,547.89C444.38,547.68 444.72,547.48 445.06,547.27C445.39,547.07 445.73,546.87 446.06,546.66C446.4,546.46 446.73,546.26 447.07,546.06C447.4,545.86 447.74,545.66 448.07,545.47C448.41,545.27 448.74,545.08 449.08,544.88C449.41,544.69 449.75,544.49 450.08,544.3C450.42,544.11 450.76,543.92 451.09,543.73C451.43,543.54 451.76,543.35 452.1,543.17C452.43,542.98 452.77,542.8 453.1,542.61C453.44,542.43 453.77,542.25 454.11,542.07C454.44,541.88 454.78,541.71 455.11,541.53C455.45,541.35 455.79,541.17 456.12,541C456.46,540.82 456.79,540.65 457.13,540.48C457.46,540.3 457.8,540.13 458.13,539.96C458.47,539.79 458.8,539.63 459.14,539.46C459.47,539.29 459.81,539.13 460.14,538.96C460.48,538.8 460.81,538.64 461.15,538.48C461.49,538.32 461.82,538.16 462.16,538C462.49,537.84 462.83,537.69 463.16,537.53C463.5,537.38 463.83,537.23 464.17,537.07C464.5,536.92 464.84,536.77 465.17,536.62C465.51,536.48 465.84,536.33 466.18,536.18C466.51,536.04 466.85,535.89 467.19,535.75C467.52,535.61 467.86,535.47 468.19,535.33C468.53,535.19 468.86,535.05 469.2,534.91C469.53,534.77 469.87,534.64 470.2,534.5C470.54,534.36 470.87,534.23 471.21,534.1C471.54,533.96 471.88,533.83 472.22,533.7C472.55,533.57 472.89,533.44 473.22,533.31C473.56,533.18 473.89,533.05 474.23,532.92C474.56,532.8 474.9,532.67 475.23,532.54C475.57,532.42 475.9,532.29 476.24,532.17C476.57,532.04 476.91,531.92 477.24,531.8C477.58,531.67 477.92,531.55 478.25,531.43C478.59,531.31 478.92,531.19 479.26,531.07C479.59,530.95 479.93,530.83 480.26,530.71C480.6,530.59 480.93,530.47 481.27,530.35C481.6,530.23 481.94,530.11 482.27,530C482.61,529.88 482.95,529.76 483.28,529.64C483.62,529.52 483.95,529.41 484.29,529.29C484.62,529.17 484.96,529.06 485.29,528.94C485.63,528.82 485.96,528.71 486.3,528.59C486.63,528.48 486.97,528.36 487.3,528.24C487.64,528.13 487.97,528.01 488.31,527.89C488.65,527.78 488.98,527.66 489.32,527.54C489.65,527.43 489.99,527.31 490.32,527.19C490.66,527.08 490.99,526.96 491.33,526.84C491.66,526.72 492,526.61 492.33,526.49C492.67,526.37 493,526.24 493.34,526.12C493.68,526 494.01,525.87 494.35,525.75C494.68,525.62 495.02,525.49 495.35,525.36C495.69,525.23 496.02,525.09 496.36,524.96C496.69,524.82 497.03,524.68 497.36,524.53C497.7,524.39 498.03,524.24 498.37,524.09C498.7,523.94 499.04,523.78 499.38,523.62C499.71,523.46 500.05,523.3 500.38,523.13C500.72,522.96 501.05,522.78 501.39,522.6C501.72,522.42 502.06,522.24 502.39,522.05C502.73,521.86 503.06,521.66 503.4,521.46C503.73,521.25 504.07,521.04 504.41,520.83C504.74,520.61 505.08,520.39 505.41,520.15C505.75,519.92 506.08,519.69 506.42,519.44C506.75,519.19 507.09,518.94 507.42,518.68C507.76,518.42 508.09,518.15 508.43,517.87C508.76,517.59 509.1,517.3 509.43,517C509.77,516.7 510.11,516.4 510.44,516.08C510.78,515.77 511.11,515.44 511.45,515.1C511.78,514.77 512.12,514.42 512.45,514.06C512.79,513.7 513.12,513.33 513.46,512.95C513.79,512.57 514.13,512.18 514.46,511.78C514.8,511.37 515.14,510.96 515.47,510.53C515.81,510.1 516.14,509.66 516.48,509.21C516.81,508.75 517.15,508.29 517.48,507.8C517.82,507.32 518.15,506.83 518.49,506.32C518.82,505.81 519.16,505.29 519.49,504.75C519.83,504.22 520.33,503.38 520.5,503.1" fill="none" stroke="#16415f" stroke-width="1.45" stroke-linecap="butt" stroke-linejoin="round"/>
<path d="M401.8,567.3C401.97,566.93 402.47,565.75 402.81,565.07C403.14,564.4 403.48,563.82 403.81,563.27C404.15,562.72 404.48,562.23 404.82,561.75C405.15,561.28 405.49,560.83 405.82,560.4C406.16,559.96 406.49,559.54 406.83,559.13C407.16,558.72 407.5,558.32 407.84,557.94C408.17,557.56 408.51,557.19 408.84,556.83C409.18,556.47 409.51,556.12 409.85,555.79C410.18,555.45 410.52,555.13 410.85,554.81C411.19,554.5 411.52,554.19 411.86,553.9C412.19,553.6 412.53,553.31 412.87,553.03C413.2,552.75 413.54,552.48 413.87,552.22C414.21,551.96 414.54,551.7 414.88,551.45C415.21,551.2 415.55,550.95 415.88,550.71C416.22,550.47 416.55,550.24 416.89,550.01C417.22,549.78 417.56,549.55 417.89,549.33C418.23,549.11 418.57,548.89 418.9,548.67C419.24,548.45 419.57,548.24 419.91,548.02C420.24,547.81 420.58,547.6 420.91,547.39C421.25,547.18 421.58,546.97 421.92,546.75C422.25,546.54 422.59,546.33 422.92,546.12C423.26,545.9 423.6,545.69 423.93,545.48C424.27,545.26 424.6,545.05 424.94,544.83C425.27,544.61 425.61,544.4 425.94,544.18C426.28,543.96 426.61,543.74 426.95,543.52C427.28,543.3 427.62,543.09 427.95,542.87C428.29,542.65 428.62,542.43 428.96,542.2C429.3,541.98 429.63,541.76 429.97,541.54C430.3,541.32 430.64,541.1 430.97,540.88C431.31,540.65 431.64,540.43 431.98,540.21C432.31,539.99 432.65,539.76 432.98,539.54C433.32,539.32 433.65,539.09 433.99,538.87C434.33,538.65 434.66,538.43 435,538.2C435.33,537.98 435.67,537.76 436,537.53C436.34,537.31 436.67,537.09 437.01,536.87C437.34,536.64 437.68,536.42 438.01,536.2C438.35,535.98 438.68,535.76 439.02,535.54C439.35,535.31 439.69,535.09 440.03,534.87C440.36,534.65 440.7,534.43 441.03,534.21C441.37,533.99 441.7,533.78 442.04,533.56C442.37,533.34 442.71,533.12 443.04,532.91C443.38,532.69 443.71,532.47 444.05,532.26C444.38,532.04 444.72,531.83 445.06,531.61C445.39,531.4 445.73,531.19 446.06,530.97C446.4,530.76 446.73,530.55 447.07,530.34C447.4,530.13 447.74,529.92 448.07,529.71C448.41,529.51 448.74,529.3 449.08,529.09C449.41,528.89 449.75,528.68 450.08,528.48C450.42,528.28 450.76,528.08 451.09,527.87C451.43,527.67 451.76,527.47 452.1,527.28C452.43,527.08 452.77,526.88 453.1,526.69C453.44,526.49 453.77,526.3 454.11,526.11C454.44,525.91 454.78,525.72 455.11,525.53C455.45,525.35 455.79,525.16 456.12,524.97C456.46,524.79 456.79,524.6 457.13,524.42C457.46,524.24 457.8,524.06 458.13,523.88C458.47,523.7 458.8,523.53 459.14,523.35C459.47,523.18 459.81,523.01 460.14,522.84C460.48,522.66 460.81,522.5 461.15,522.33C461.49,522.16 461.82,522 462.16,521.84C462.49,521.68 462.83,521.52 463.16,521.36C463.5,521.2 463.83,521.05 464.17,520.89C464.5,520.74 464.84,520.59 465.17,520.44C465.51,520.29 465.84,520.14 466.18,520C466.51,519.86 466.85,519.71 467.19,519.57C467.52,519.43 467.86,519.29 468.19,519.16C468.53,519.02 468.86,518.88 469.2,518.75C469.53,518.62 469.87,518.49 470.2,518.35C470.54,518.22 470.87,518.1 471.21,517.97C471.54,517.84 471.88,517.71 472.22,517.59C472.55,517.47 472.89,517.34 473.22,517.22C473.56,517.1 473.89,516.98 474.23,516.86C474.56,516.74 474.9,516.62 475.23,516.5C475.57,516.38 475.9,516.26 476.24,516.15C476.57,516.03 476.91,515.92 477.24,515.8C477.58,515.69 477.92,515.57 478.25,515.46C478.59,515.35 478.92,515.23 479.26,515.12C479.59,515.01 479.93,514.9 480.26,514.79C480.6,514.67 480.93,514.56 481.27,514.45C481.6,514.34 481.94,514.23 482.27,514.12C482.61,514.01 482.95,513.9 483.28,513.79C483.62,513.68 483.95,513.57 484.29,513.46C484.62,513.35 484.96,513.24 485.29,513.13C485.63,513.02 485.96,512.9 486.3,512.79C486.63,512.68 486.97,512.57 487.3,512.46C487.64,512.35 487.97,512.23 488.31,512.12C488.65,512.01 488.98,511.89 489.32,511.78C489.65,511.66 489.99,511.55 490.32,511.43C490.66,511.32 490.99,511.2 491.33,511.08C491.66,510.96 492,510.85 492.33,510.73C492.67,510.61 493,510.48 493.34,510.36C493.68,510.24 494.01,510.12 494.35,509.99C494.68,509.87 495.02,509.74 495.35,509.62C495.69,509.49 496.02,509.36 496.36,509.23C496.69,509.1 497.03,508.97 497.36,508.83C497.7,508.7 498.03,508.57 498.37,508.43C498.7,508.29 499.04,508.15 499.38,508.01C499.71,507.87 500.05,507.73 500.38,507.59C500.72,507.44 501.05,507.3 501.39,507.15C501.72,507 502.06,506.85 502.39,506.7C502.73,506.54 503.06,506.39 503.4,506.23C503.73,506.08 504.07,505.92 504.41,505.75C504.74,505.59 505.08,505.43 505.41,505.26C505.75,505.09 506.08,504.92 506.42,504.75C506.75,504.58 507.09,504.4 507.42,504.23C507.76,504.05 508.09,503.87 508.43,503.68C508.76,503.5 509.1,503.31 509.43,503.12C509.77,502.93 510.11,502.74 510.44,502.54C510.78,502.35 511.11,502.15 511.45,501.95C511.78,501.75 512.12,501.54 512.45,501.33C512.79,501.12 513.12,500.91 513.46,500.69C513.79,500.48 514.13,500.26 514.46,500.03C514.8,499.81 515.14,499.58 515.47,499.35C515.81,499.12 516.14,498.89 516.48,498.65C516.81,498.41 517.15,498.17 517.48,497.93C517.82,497.68 518.15,497.43 518.49,497.17C518.82,496.92 519.16,496.66 519.49,496.4C519.83,496.14 520.33,495.73 520.5,495.6" fill="none" stroke="#1b6fbd" stroke-width="1.45" stroke-linecap="butt" stroke-linejoin="round"/>
<path d="M401.8,563.5C401.97,563.26 402.47,562.51 402.81,562.04C403.14,561.57 403.48,561.12 403.81,560.68C404.15,560.24 404.48,559.81 404.82,559.4C405.15,558.99 405.49,558.59 405.82,558.2C406.16,557.82 406.49,557.45 406.83,557.09C407.16,556.72 407.5,556.38 407.84,556.04C408.17,555.7 408.51,555.37 408.84,555.06C409.18,554.74 409.51,554.44 409.85,554.14C410.18,553.84 410.52,553.55 410.85,553.28C411.19,553 411.52,552.73 411.86,552.46C412.19,552.2 412.53,551.95 412.87,551.7C413.2,551.45 413.54,551.21 413.87,550.98C414.21,550.74 414.54,550.51 414.88,550.29C415.21,550.06 415.55,549.85 415.88,549.63C416.22,549.42 416.55,549.21 416.89,549C417.22,548.79 417.56,548.59 417.89,548.39C418.23,548.19 418.57,547.99 418.9,547.8C419.24,547.6 419.57,547.41 419.91,547.21C420.24,547.02 420.58,546.83 420.91,546.64C421.25,546.44 421.58,546.25 421.92,546.06C422.25,545.87 422.59,545.67 422.92,545.48C423.26,545.28 423.6,545.09 423.93,544.89C424.27,544.69 424.6,544.5 424.94,544.3C425.27,544.1 425.61,543.9 425.94,543.7C426.28,543.5 426.61,543.29 426.95,543.09C427.28,542.89 427.62,542.69 427.95,542.48C428.29,542.28 428.62,542.07 428.96,541.87C429.3,541.66 429.63,541.45 429.97,541.25C430.3,541.04 430.64,540.83 430.97,540.62C431.31,540.42 431.64,540.21 431.98,540C432.31,539.79 432.65,539.58 432.98,539.37C433.32,539.16 433.65,538.95 433.99,538.74C434.33,538.52 434.66,538.31 435,538.1C435.33,537.89 435.67,537.68 436,537.46C436.34,537.25 436.67,537.04 437.01,536.83C437.34,536.61 437.68,536.4 438.01,536.19C438.35,535.97 438.68,535.76 439.02,535.55C439.35,535.33 439.69,535.12 440.03,534.91C440.36,534.69 440.7,534.48 441.03,534.27C441.37,534.06 441.7,533.84 442.04,533.63C442.37,533.42 442.71,533.2 443.04,532.99C443.38,532.78 443.71,532.57 444.05,532.35C444.38,532.14 444.72,531.93 445.06,531.72C445.39,531.51 445.73,531.3 446.06,531.08C446.4,530.87 446.73,530.66 447.07,530.45C447.4,530.24 447.74,530.03 448.07,529.83C448.41,529.62 448.74,529.41 449.08,529.2C449.41,528.99 449.75,528.79 450.08,528.58C450.42,528.37 450.76,528.17 451.09,527.96C451.43,527.76 451.76,527.55 452.1,527.35C452.43,527.15 452.77,526.95 453.1,526.74C453.44,526.54 453.77,526.34 454.11,526.14C454.44,525.94 454.78,525.74 455.11,525.54C455.45,525.35 455.79,525.15 456.12,524.95C456.46,524.76 456.79,524.56 457.13,524.37C457.46,524.18 457.8,523.98 458.13,523.79C458.47,523.6 458.8,523.41 459.14,523.22C459.47,523.03 459.81,522.85 460.14,522.66C460.48,522.48 460.81,522.29 461.15,522.11C461.49,521.92 461.82,521.74 462.16,521.56C462.49,521.38 462.83,521.2 463.16,521.02C463.5,520.85 463.83,520.67 464.17,520.5C464.5,520.32 464.84,520.15 465.17,519.98C465.51,519.81 465.84,519.64 466.18,519.47C466.51,519.3 466.85,519.13 467.19,518.97C467.52,518.8 467.86,518.63 468.19,518.47C468.53,518.3 468.86,518.14 469.2,517.98C469.53,517.82 469.87,517.65 470.2,517.49C470.54,517.33 470.87,517.17 471.21,517.01C471.54,516.85 471.88,516.69 472.22,516.54C472.55,516.38 472.89,516.22 473.22,516.06C473.56,515.9 473.89,515.75 474.23,515.59C474.56,515.43 474.9,515.27 475.23,515.12C475.57,514.96 475.9,514.8 476.24,514.65C476.57,514.49 476.91,514.33 477.24,514.17C477.58,514.02 477.92,513.86 478.25,513.7C478.59,513.54 478.92,513.39 479.26,513.23C479.59,513.07 479.93,512.91 480.26,512.75C480.6,512.59 480.93,512.43 481.27,512.27C481.6,512.11 481.94,511.95 482.27,511.79C482.61,511.62 482.95,511.46 483.28,511.3C483.62,511.13 483.95,510.97 484.29,510.8C484.62,510.63 484.96,510.47 485.29,510.3C485.63,510.13 485.96,509.96 486.3,509.79C486.63,509.62 486.97,509.44 487.3,509.27C487.64,509.1 487.97,508.92 488.31,508.74C488.65,508.57 488.98,508.39 489.32,508.21C489.65,508.03 489.99,507.85 490.32,507.66C490.66,507.48 490.99,507.29 491.33,507.1C491.66,506.92 492,506.73 492.33,506.54C492.67,506.35 493,506.16 493.34,505.96C493.68,505.77 494.01,505.58 494.35,505.38C494.68,505.19 495.02,504.99 495.35,504.79C495.69,504.59 496.02,504.4 496.36,504.2C496.69,504 497.03,503.8 497.36,503.6C497.7,503.4 498.03,503.2 498.37,503C498.7,502.8 499.04,502.59 499.38,502.39C499.71,502.19 500.05,501.99 500.38,501.79C500.72,501.59 501.05,501.39 501.39,501.18C501.72,500.98 502.06,500.78 502.39,500.58C502.73,500.38 503.06,500.18 503.4,499.98C503.73,499.78 504.07,499.58 504.41,499.38C504.74,499.18 505.08,498.98 505.41,498.79C505.75,498.59 506.08,498.39 506.42,498.2C506.75,498 507.09,497.81 507.42,497.62C507.76,497.43 508.09,497.24 508.43,497.06C508.76,496.87 509.1,496.69 509.43,496.51C509.77,496.34 510.11,496.17 510.44,496C510.78,495.84 511.11,495.68 511.45,495.53C511.78,495.38 512.12,495.23 512.45,495.09C512.79,494.96 513.12,494.83 513.46,494.71C513.79,494.59 514.13,494.48 514.46,494.39C514.8,494.29 515.14,494.2 515.47,494.12C515.81,494.05 516.14,493.98 516.48,493.93C516.81,493.88 517.15,493.84 517.48,493.81C517.82,493.79 518.15,493.78 518.49,493.78C518.82,493.79 519.16,493.81 519.49,493.84C519.83,493.88 520.33,493.97 520.5,494" fill="none" stroke="#f8b600" stroke-width="1.45" stroke-linecap="butt" stroke-linejoin="round"/>
<path d="M401.8,555.2C401.97,554.6 402.47,552.64 402.81,551.61C403.14,550.59 403.48,549.79 403.81,549.03C404.15,548.28 404.48,547.69 404.82,547.09C405.15,546.48 405.49,545.96 405.82,545.42C406.16,544.88 406.49,544.36 406.83,543.86C407.16,543.35 407.5,542.86 407.84,542.39C408.17,541.91 408.51,541.45 408.84,541C409.18,540.55 409.51,540.11 409.85,539.69C410.18,539.26 410.52,538.85 410.85,538.45C411.19,538.05 411.52,537.67 411.86,537.29C412.19,536.91 412.53,536.54 412.87,536.19C413.2,535.83 413.54,535.48 413.87,535.14C414.21,534.8 414.54,534.48 414.88,534.15C415.21,533.83 415.55,533.52 415.88,533.21C416.22,532.91 416.55,532.61 416.89,532.31C417.22,532.02 417.56,531.73 417.89,531.45C418.23,531.17 418.57,530.9 418.9,530.62C419.24,530.35 419.57,530.09 419.91,529.82C420.24,529.56 420.58,529.3 420.91,529.04C421.25,528.79 421.58,528.53 421.92,528.28C422.25,528.03 422.59,527.78 422.92,527.53C423.26,527.28 423.6,527.04 423.93,526.79C424.27,526.54 424.6,526.3 424.94,526.06C425.27,525.81 425.61,525.57 425.94,525.33C426.28,525.09 426.61,524.86 426.95,524.62C427.28,524.38 427.62,524.15 427.95,523.91C428.29,523.68 428.62,523.45 428.96,523.22C429.3,522.99 429.63,522.76 429.97,522.53C430.3,522.3 430.64,522.07 430.97,521.85C431.31,521.62 431.64,521.4 431.98,521.17C432.31,520.95 432.65,520.73 432.98,520.51C433.32,520.29 433.65,520.07 433.99,519.86C434.33,519.64 434.66,519.42 435,519.21C435.33,518.99 435.67,518.78 436,518.57C436.34,518.36 436.67,518.15 437.01,517.94C437.34,517.73 437.68,517.52 438.01,517.31C438.35,517.11 438.68,516.9 439.02,516.7C439.35,516.49 439.69,516.29 440.03,516.09C440.36,515.89 440.7,515.69 441.03,515.49C441.37,515.29 441.7,515.09 442.04,514.9C442.37,514.7 442.71,514.5 443.04,514.31C443.38,514.12 443.71,513.92 444.05,513.73C444.38,513.54 444.72,513.35 445.06,513.16C445.39,512.97 445.73,512.78 446.06,512.6C446.4,512.41 446.73,512.22 447.07,512.04C447.4,511.85 447.74,511.67 448.07,511.49C448.41,511.31 448.74,511.13 449.08,510.95C449.41,510.77 449.75,510.59 450.08,510.41C450.42,510.23 450.76,510.05 451.09,509.88C451.43,509.7 451.76,509.53 452.1,509.36C452.43,509.18 452.77,509.01 453.1,508.84C453.44,508.67 453.77,508.5 454.11,508.33C454.44,508.16 454.78,507.99 455.11,507.83C455.45,507.66 455.79,507.49 456.12,507.33C456.46,507.16 456.79,507 457.13,506.84C457.46,506.67 457.8,506.51 458.13,506.35C458.47,506.19 458.8,506.03 459.14,505.87C459.47,505.71 459.81,505.55 460.14,505.4C460.48,505.24 460.81,505.08 461.15,504.93C461.49,504.77 461.82,504.62 462.16,504.47C462.49,504.31 462.83,504.16 463.16,504.01C463.5,503.86 463.83,503.71 464.17,503.56C464.5,503.41 464.84,503.26 465.17,503.11C465.51,502.97 465.84,502.82 466.18,502.67C466.51,502.53 466.85,502.38 467.19,502.24C467.52,502.1 467.86,501.95 468.19,501.81C468.53,501.67 468.86,501.53 469.2,501.39C469.53,501.25 469.87,501.11 470.2,500.97C470.54,500.83 470.87,500.69 471.21,500.56C471.54,500.42 471.88,500.29 472.22,500.15C472.55,500.02 472.89,499.88 473.22,499.75C473.56,499.62 473.89,499.48 474.23,499.35C474.56,499.22 474.9,499.09 475.23,498.96C475.57,498.83 475.9,498.71 476.24,498.58C476.57,498.45 476.91,498.33 477.24,498.2C477.58,498.07 477.92,497.95 478.25,497.83C478.59,497.7 478.92,497.58 479.26,497.46C479.59,497.34 479.93,497.21 480.26,497.09C480.6,496.97 480.93,496.86 481.27,496.74C481.6,496.62 481.94,496.5 482.27,496.39C482.61,496.27 482.95,496.15 483.28,496.04C483.62,495.93 483.95,495.81 484.29,495.7C484.62,495.59 484.96,495.47 485.29,495.36C485.63,495.25 485.96,495.14 486.3,495.03C486.63,494.93 486.97,494.82 487.3,494.71C487.64,494.6 487.97,494.5 488.31,494.39C488.65,494.29 488.98,494.18 489.32,494.08C489.65,493.98 489.99,493.87 490.32,493.77C490.66,493.67 490.99,493.57 491.33,493.47C491.66,493.37 492,493.27 492.33,493.17C492.67,493.08 493,492.98 493.34,492.88C493.68,492.79 494.01,492.69 494.35,492.6C494.68,492.5 495.02,492.41 495.35,492.32C495.69,492.23 496.02,492.13 496.36,492.04C496.69,491.95 497.03,491.86 497.36,491.77C497.7,491.69 498.03,491.6 498.37,491.51C498.7,491.42 499.04,491.34 499.38,491.25C499.71,491.17 500.05,491.08 500.38,491C500.72,490.92 501.05,490.84 501.39,490.76C501.72,490.67 502.06,490.59 502.39,490.51C502.73,490.44 503.06,490.36 503.4,490.28C503.73,490.2 504.07,490.12 504.41,490.05C504.74,489.97 505.08,489.9 505.41,489.82C505.75,489.75 506.08,489.68 506.42,489.61C506.75,489.53 507.09,489.46 507.42,489.39C507.76,489.32 508.09,489.25 508.43,489.17C508.76,489.1 509.1,489.02 509.43,488.94C509.77,488.86 510.11,488.78 510.44,488.69C510.78,488.61 511.11,488.52 511.45,488.42C511.78,488.33 512.12,488.23 512.45,488.13C512.79,488.02 513.12,487.91 513.46,487.79C513.79,487.67 514.13,487.55 514.46,487.41C514.8,487.28 515.14,487.14 515.47,486.99C515.81,486.84 516.14,486.68 516.48,486.51C516.81,486.34 517.15,486.16 517.48,485.96C517.82,485.77 518.15,485.57 518.49,485.35C518.82,485.14 519.16,484.91 519.49,484.67C519.83,484.42 520.33,484.03 520.5,483.9" fill="none" stroke="#18a9e6" stroke-width="1.45" stroke-linecap="butt" stroke-linejoin="round"/>
<path d="M401.8,548.4C401.97,547.84 402.47,545.93 402.81,545.01C403.14,544.1 403.48,543.5 403.81,542.94C404.15,542.37 404.48,542.03 404.82,541.65C405.15,541.26 405.49,540.97 405.82,540.64C406.16,540.31 406.49,539.99 406.83,539.66C407.16,539.34 407.5,539.03 407.84,538.71C408.17,538.4 408.51,538.09 408.84,537.78C409.18,537.48 409.51,537.17 409.85,536.87C410.18,536.57 410.52,536.28 410.85,535.98C411.19,535.69 411.52,535.4 411.86,535.11C412.19,534.83 412.53,534.54 412.87,534.26C413.2,533.98 413.54,533.7 413.87,533.43C414.21,533.15 414.54,532.88 414.88,532.61C415.21,532.34 415.55,532.07 415.88,531.81C416.22,531.55 416.55,531.28 416.89,531.02C417.22,530.76 417.56,530.51 417.89,530.25C418.23,530 418.57,529.75 418.9,529.5C419.24,529.25 419.57,529 419.91,528.75C420.24,528.5 420.58,528.26 420.91,528.02C421.25,527.78 421.58,527.54 421.92,527.3C422.25,527.06 422.59,526.82 422.92,526.59C423.26,526.35 423.6,526.12 423.93,525.89C424.27,525.65 424.6,525.42 424.94,525.19C425.27,524.97 425.61,524.74 425.94,524.51C426.28,524.29 426.61,524.06 426.95,523.84C427.28,523.62 427.62,523.4 427.95,523.18C428.29,522.96 428.62,522.74 428.96,522.52C429.3,522.31 429.63,522.09 429.97,521.88C430.3,521.66 430.64,521.45 430.97,521.24C431.31,521.03 431.64,520.82 431.98,520.61C432.31,520.4 432.65,520.19 432.98,519.99C433.32,519.78 433.65,519.58 433.99,519.37C434.33,519.17 434.66,518.97 435,518.76C435.33,518.56 435.67,518.36 436,518.16C436.34,517.96 436.67,517.77 437.01,517.57C437.34,517.37 437.68,517.18 438.01,516.98C438.35,516.79 438.68,516.6 439.02,516.4C439.35,516.21 439.69,516.02 440.03,515.83C440.36,515.64 440.7,515.45 441.03,515.26C441.37,515.07 441.7,514.88 442.04,514.7C442.37,514.51 442.71,514.32 443.04,514.14C443.38,513.95 443.71,513.77 444.05,513.59C444.38,513.4 444.72,513.22 445.06,513.04C445.39,512.85 445.73,512.67 446.06,512.49C446.4,512.31 446.73,512.13 447.07,511.95C447.4,511.78 447.74,511.6 448.07,511.42C448.41,511.24 448.74,511.06 449.08,510.89C449.41,510.71 449.75,510.54 450.08,510.36C450.42,510.18 450.76,510.01 451.09,509.84C451.43,509.66 451.76,509.49 452.1,509.31C452.43,509.14 452.77,508.97 453.1,508.8C453.44,508.62 453.77,508.45 454.11,508.28C454.44,508.11 454.78,507.94 455.11,507.77C455.45,507.6 455.79,507.43 456.12,507.25C456.46,507.08 456.79,506.91 457.13,506.75C457.46,506.58 457.8,506.41 458.13,506.24C458.47,506.07 458.8,505.9 459.14,505.73C459.47,505.56 459.81,505.39 460.14,505.23C460.48,505.06 460.81,504.89 461.15,504.72C461.49,504.55 461.82,504.38 462.16,504.22C462.49,504.05 462.83,503.88 463.16,503.71C463.5,503.55 463.83,503.38 464.17,503.21C464.5,503.04 464.84,502.87 465.17,502.71C465.51,502.54 465.84,502.37 466.18,502.2C466.51,502.04 466.85,501.87 467.19,501.7C467.52,501.53 467.86,501.37 468.19,501.2C468.53,501.03 468.86,500.86 469.2,500.7C469.53,500.53 469.87,500.36 470.2,500.19C470.54,500.03 470.87,499.86 471.21,499.69C471.54,499.52 471.88,499.36 472.22,499.19C472.55,499.02 472.89,498.86 473.22,498.69C473.56,498.52 473.89,498.36 474.23,498.19C474.56,498.02 474.9,497.86 475.23,497.69C475.57,497.53 475.9,497.36 476.24,497.19C476.57,497.03 476.91,496.86 477.24,496.7C477.58,496.53 477.92,496.37 478.25,496.2C478.59,496.04 478.92,495.87 479.26,495.71C479.59,495.54 479.93,495.38 480.26,495.21C480.6,495.05 480.93,494.88 481.27,494.72C481.6,494.55 481.94,494.39 482.27,494.23C482.61,494.06 482.95,493.9 483.28,493.74C483.62,493.57 483.95,493.41 484.29,493.25C484.62,493.09 484.96,492.92 485.29,492.76C485.63,492.6 485.96,492.44 486.3,492.27C486.63,492.11 486.97,491.95 487.3,491.79C487.64,491.63 487.97,491.47 488.31,491.31C488.65,491.15 488.98,490.99 489.32,490.83C489.65,490.67 489.99,490.51 490.32,490.35C490.66,490.19 490.99,490.03 491.33,489.87C491.66,489.71 492,489.55 492.33,489.39C492.67,489.24 493,489.08 493.34,488.92C493.68,488.76 494.01,488.61 494.35,488.45C494.68,488.29 495.02,488.14 495.35,487.98C495.69,487.82 496.02,487.67 496.36,487.51C496.69,487.36 497.03,487.2 497.36,487.05C497.7,486.89 498.03,486.74 498.37,486.59C498.7,486.43 499.04,486.28 499.38,486.13C499.71,485.97 500.05,485.82 500.38,485.67C500.72,485.52 501.05,485.36 501.39,485.21C501.72,485.06 502.06,484.91 502.39,484.76C502.73,484.61 503.06,484.46 503.4,484.31C503.73,484.16 504.07,484.01 504.41,483.86C504.74,483.71 505.08,483.57 505.41,483.42C505.75,483.27 506.08,483.12 506.42,482.98C506.75,482.83 507.09,482.69 507.42,482.54C507.76,482.4 508.09,482.26 508.43,482.13C508.76,482 509.1,481.87 509.43,481.75C509.77,481.62 510.11,481.51 510.44,481.4C510.78,481.3 511.11,481.2 511.45,481.11C511.78,481.03 512.12,480.95 512.45,480.88C512.79,480.82 513.12,480.77 513.46,480.73C513.79,480.7 514.13,480.67 514.46,480.67C514.8,480.66 515.14,480.67 515.47,480.7C515.81,480.72 516.14,480.77 516.48,480.84C516.81,480.9 517.15,480.99 517.48,481.09C517.82,481.2 518.15,481.33 518.49,481.48C518.82,481.64 519.16,481.81 519.49,482.02C519.83,482.22 520.33,482.59 520.5,482.7" fill="none" stroke="#ea7a40" stroke-width="1.45" stroke-linecap="butt" stroke-linejoin="round"/>
<path d="M401.8,539.5C401.97,538.66 402.47,535.85 402.81,534.47C403.14,533.09 403.48,532.11 403.81,531.2C404.15,530.29 404.48,529.68 404.82,529.03C405.15,528.38 405.49,527.86 405.82,527.3C406.16,526.74 406.49,526.21 406.83,525.69C407.16,525.18 407.5,524.67 407.84,524.19C408.17,523.7 408.51,523.24 408.84,522.78C409.18,522.33 409.51,521.89 409.85,521.46C410.18,521.04 410.52,520.62 410.85,520.23C411.19,519.83 411.52,519.44 411.86,519.07C412.19,518.69 412.53,518.33 412.87,517.98C413.2,517.63 413.54,517.29 413.87,516.96C414.21,516.63 414.54,516.3 414.88,515.99C415.21,515.68 415.55,515.38 415.88,515.08C416.22,514.78 416.55,514.49 416.89,514.21C417.22,513.93 417.56,513.65 417.89,513.38C418.23,513.11 418.57,512.85 418.9,512.59C419.24,512.33 419.57,512.08 419.91,511.82C420.24,511.57 420.58,511.32 420.91,511.08C421.25,510.83 421.58,510.59 421.92,510.34C422.25,510.1 422.59,509.86 422.92,509.62C423.26,509.38 423.6,509.14 423.93,508.9C424.27,508.66 424.6,508.42 424.94,508.19C425.27,507.95 425.61,507.71 425.94,507.48C426.28,507.24 426.61,507.01 426.95,506.77C427.28,506.54 427.62,506.31 427.95,506.08C428.29,505.84 428.62,505.61 428.96,505.38C429.3,505.15 429.63,504.92 429.97,504.7C430.3,504.47 430.64,504.24 430.97,504.01C431.31,503.79 431.64,503.56 431.98,503.34C432.31,503.11 432.65,502.89 432.98,502.67C433.32,502.44 433.65,502.22 433.99,502C434.33,501.78 434.66,501.56 435,501.34C435.33,501.12 435.67,500.9 436,500.69C436.34,500.47 436.67,500.25 437.01,500.04C437.34,499.82 437.68,499.61 438.01,499.4C438.35,499.18 438.68,498.97 439.02,498.76C439.35,498.55 439.69,498.34 440.03,498.13C440.36,497.92 440.7,497.71 441.03,497.5C441.37,497.29 441.7,497.09 442.04,496.88C442.37,496.68 442.71,496.47 443.04,496.27C443.38,496.06 443.71,495.86 444.05,495.66C444.38,495.46 444.72,495.26 445.06,495.06C445.39,494.86 445.73,494.66 446.06,494.46C446.4,494.26 446.73,494.07 447.07,493.87C447.4,493.68 447.74,493.48 448.07,493.29C448.41,493.09 448.74,492.9 449.08,492.71C449.41,492.52 449.75,492.33 450.08,492.14C450.42,491.95 450.76,491.76 451.09,491.57C451.43,491.39 451.76,491.2 452.1,491.02C452.43,490.83 452.77,490.65 453.1,490.46C453.44,490.28 453.77,490.1 454.11,489.92C454.44,489.74 454.78,489.56 455.11,489.38C455.45,489.2 455.79,489.02 456.12,488.85C456.46,488.67 456.79,488.49 457.13,488.32C457.46,488.14 457.8,487.97 458.13,487.8C458.47,487.63 458.8,487.46 459.14,487.29C459.47,487.12 459.81,486.95 460.14,486.78C460.48,486.61 460.81,486.44 461.15,486.28C461.49,486.11 461.82,485.95 462.16,485.78C462.49,485.62 462.83,485.46 463.16,485.3C463.5,485.14 463.83,484.98 464.17,484.82C464.5,484.66 464.84,484.5 465.17,484.35C465.51,484.19 465.84,484.03 466.18,483.88C466.51,483.73 466.85,483.57 467.19,483.42C467.52,483.27 467.86,483.12 468.19,482.97C468.53,482.82 468.86,482.67 469.2,482.53C469.53,482.38 469.87,482.24 470.2,482.09C470.54,481.95 470.87,481.81 471.21,481.67C471.54,481.53 471.88,481.39 472.22,481.25C472.55,481.11 472.89,480.98 473.22,480.84C473.56,480.71 473.89,480.57 474.23,480.44C474.56,480.31 474.9,480.18 475.23,480.05C475.57,479.92 475.9,479.79 476.24,479.67C476.57,479.54 476.91,479.42 477.24,479.3C477.58,479.18 477.92,479.06 478.25,478.94C478.59,478.82 478.92,478.7 479.26,478.59C479.59,478.47 479.93,478.36 480.26,478.25C480.6,478.13 480.93,478.02 481.27,477.92C481.6,477.81 481.94,477.7 482.27,477.6C482.61,477.49 482.95,477.39 483.28,477.29C483.62,477.19 483.95,477.09 484.29,476.99C484.62,476.9 484.96,476.8 485.29,476.71C485.63,476.62 485.96,476.52 486.3,476.44C486.63,476.35 486.97,476.26 487.3,476.17C487.64,476.09 487.97,476.01 488.31,475.93C488.65,475.85 488.98,475.77 489.32,475.69C489.65,475.61 489.99,475.54 490.32,475.47C490.66,475.39 490.99,475.32 491.33,475.26C491.66,475.19 492,475.12 492.33,475.06C492.67,475 493,474.94 493.34,474.88C493.68,474.82 494.01,474.76 494.35,474.71C494.68,474.65 495.02,474.6 495.35,474.55C495.69,474.5 496.02,474.46 496.36,474.41C496.69,474.37 497.03,474.32 497.36,474.28C497.7,474.24 498.03,474.21 498.37,474.17C498.7,474.14 499.04,474.1 499.38,474.07C499.71,474.04 500.05,474.02 500.38,473.99C500.72,473.97 501.05,473.94 501.39,473.92C501.72,473.91 502.06,473.89 502.39,473.87C502.73,473.86 503.06,473.85 503.4,473.84C503.73,473.83 504.07,473.82 504.41,473.82C504.74,473.82 505.08,473.81 505.41,473.82C505.75,473.82 506.08,473.82 506.42,473.83C506.75,473.84 507.09,473.85 507.42,473.86C507.76,473.87 508.09,473.88 508.43,473.89C508.76,473.9 509.1,473.91 509.43,473.92C509.77,473.93 510.11,473.93 510.44,473.94C510.78,473.94 511.11,473.94 511.45,473.94C511.78,473.94 512.12,473.93 512.45,473.92C512.79,473.91 513.12,473.89 513.46,473.86C513.79,473.84 514.13,473.81 514.46,473.77C514.8,473.73 515.14,473.68 515.47,473.62C515.81,473.57 516.14,473.5 516.48,473.42C516.81,473.34 517.15,473.26 517.48,473.16C517.82,473.06 518.15,472.95 518.49,472.82C518.82,472.69 519.16,472.56 519.49,472.4C519.83,472.25 520.33,471.98 520.5,471.9" fill="none" stroke="#4a90d8" stroke-width="1.45" stroke-linecap="butt" stroke-linejoin="round"/>
<path d="M401.8,537.3C401.97,536.36 402.47,533.13 402.81,531.66C403.14,530.18 403.48,529.29 403.81,528.47C404.15,527.65 404.48,527.24 404.82,526.76C405.15,526.27 405.49,525.96 405.82,525.56C406.16,525.17 406.49,524.79 406.83,524.42C407.16,524.04 407.5,523.66 407.84,523.29C408.17,522.92 408.51,522.55 408.84,522.19C409.18,521.83 409.51,521.47 409.85,521.11C410.18,520.76 410.52,520.41 410.85,520.06C411.19,519.72 411.52,519.37 411.86,519.03C412.19,518.69 412.53,518.36 412.87,518.03C413.2,517.69 413.54,517.37 413.87,517.04C414.21,516.72 414.54,516.4 414.88,516.08C415.21,515.76 415.55,515.45 415.88,515.14C416.22,514.83 416.55,514.52 416.89,514.22C417.22,513.91 417.56,513.61 417.89,513.32C418.23,513.02 418.57,512.73 418.9,512.44C419.24,512.15 419.57,511.86 419.91,511.58C420.24,511.29 420.58,511.01 420.91,510.74C421.25,510.46 421.58,510.19 421.92,509.91C422.25,509.64 422.59,509.38 422.92,509.11C423.26,508.85 423.6,508.58 423.93,508.32C424.27,508.07 424.6,507.81 424.94,507.56C425.27,507.3 425.61,507.05 425.94,506.8C426.28,506.55 426.61,506.31 426.95,506.07C427.28,505.82 427.62,505.58 427.95,505.35C428.29,505.11 428.62,504.87 428.96,504.64C429.3,504.41 429.63,504.18 429.97,503.95C430.3,503.72 430.64,503.49 430.97,503.27C431.31,503.05 431.64,502.82 431.98,502.61C432.31,502.39 432.65,502.17 432.98,501.95C433.32,501.74 433.65,501.52 433.99,501.31C434.33,501.1 434.66,500.89 435,500.69C435.33,500.48 435.67,500.27 436,500.07C436.34,499.86 436.67,499.66 437.01,499.46C437.34,499.26 437.68,499.06 438.01,498.86C438.35,498.67 438.68,498.47 439.02,498.28C439.35,498.08 439.69,497.89 440.03,497.7C440.36,497.51 440.7,497.32 441.03,497.13C441.37,496.94 441.7,496.75 442.04,496.56C442.37,496.38 442.71,496.19 443.04,496.01C443.38,495.82 443.71,495.64 444.05,495.46C444.38,495.28 444.72,495.09 445.06,494.91C445.39,494.73 445.73,494.55 446.06,494.38C446.4,494.2 446.73,494.02 447.07,493.84C447.4,493.67 447.74,493.49 448.07,493.31C448.41,493.14 448.74,492.96 449.08,492.79C449.41,492.61 449.75,492.44 450.08,492.26C450.42,492.09 450.76,491.92 451.09,491.74C451.43,491.57 451.76,491.4 452.1,491.23C452.43,491.05 452.77,490.88 453.1,490.71C453.44,490.54 453.77,490.37 454.11,490.19C454.44,490.02 454.78,489.85 455.11,489.68C455.45,489.51 455.79,489.33 456.12,489.16C456.46,488.99 456.79,488.82 457.13,488.65C457.46,488.47 457.8,488.3 458.13,488.13C458.47,487.96 458.8,487.78 459.14,487.61C459.47,487.43 459.81,487.26 460.14,487.09C460.48,486.91 460.81,486.74 461.15,486.56C461.49,486.38 461.82,486.21 462.16,486.03C462.49,485.85 462.83,485.68 463.16,485.5C463.5,485.32 463.83,485.14 464.17,484.96C464.5,484.78 464.84,484.6 465.17,484.42C465.51,484.23 465.84,484.05 466.18,483.87C466.51,483.69 466.85,483.5 467.19,483.32C467.52,483.14 467.86,482.95 468.19,482.77C468.53,482.58 468.86,482.4 469.2,482.21C469.53,482.03 469.87,481.85 470.2,481.66C470.54,481.48 470.87,481.29 471.21,481.11C471.54,480.92 471.88,480.74 472.22,480.55C472.55,480.37 472.89,480.19 473.22,480C473.56,479.82 473.89,479.64 474.23,479.45C474.56,479.27 474.9,479.09 475.23,478.91C475.57,478.73 475.9,478.55 476.24,478.37C476.57,478.19 476.91,478.01 477.24,477.83C477.58,477.65 477.92,477.48 478.25,477.3C478.59,477.13 478.92,476.95 479.26,476.78C479.59,476.6 479.93,476.43 480.26,476.26C480.6,476.09 480.93,475.92 481.27,475.75C481.6,475.58 481.94,475.42 482.27,475.25C482.61,475.09 482.95,474.92 483.28,474.76C483.62,474.6 483.95,474.44 484.29,474.28C484.62,474.12 484.96,473.97 485.29,473.81C485.63,473.66 485.96,473.51 486.3,473.36C486.63,473.21 486.97,473.06 487.3,472.91C487.64,472.77 487.97,472.62 488.31,472.48C488.65,472.34 488.98,472.2 489.32,472.07C489.65,471.93 489.99,471.8 490.32,471.67C490.66,471.53 490.99,471.41 491.33,471.28C491.66,471.15 492,471.03 492.33,470.91C492.67,470.79 493,470.68 493.34,470.56C493.68,470.45 494.01,470.34 494.35,470.23C494.68,470.12 495.02,470.02 495.35,469.92C495.69,469.81 496.02,469.72 496.36,469.62C496.69,469.53 497.03,469.44 497.36,469.35C497.7,469.26 498.03,469.18 498.37,469.1C498.7,469.02 499.04,468.94 499.38,468.87C499.71,468.8 500.05,468.73 500.38,468.66C500.72,468.6 501.05,468.54 501.39,468.48C501.72,468.42 502.06,468.37 502.39,468.32C502.73,468.28 503.06,468.23 503.4,468.19C503.73,468.15 504.07,468.12 504.41,468.09C504.74,468.06 505.08,468.03 505.41,468.01C505.75,467.99 506.08,467.97 506.42,467.96C506.75,467.94 507.09,467.94 507.42,467.93C507.76,467.93 508.09,467.93 508.43,467.94C508.76,467.95 509.1,467.96 509.43,467.98C509.77,467.99 510.11,468.02 510.44,468.05C510.78,468.07 511.11,468.11 511.45,468.14C511.78,468.18 512.12,468.23 512.45,468.28C512.79,468.33 513.12,468.38 513.46,468.44C513.79,468.5 514.13,468.57 514.46,468.64C514.8,468.71 515.14,468.79 515.47,468.88C515.81,468.96 516.14,469.05 516.48,469.15C516.81,469.24 517.15,469.34 517.48,469.45C517.82,469.56 518.15,469.68 518.49,469.8C518.82,469.92 519.16,470.04 519.49,470.18C519.83,470.31 520.33,470.53 520.5,470.6" fill="none" stroke="#bf5a27" stroke-width="1.45" stroke-linecap="butt" stroke-linejoin="round"/>
<path d="M401.8,531.5C401.97,530.5 402.47,527.16 402.81,525.51C403.14,523.87 403.48,522.71 403.81,521.63C404.15,520.55 404.48,519.81 404.82,519.04C405.15,518.26 405.49,517.63 405.82,516.96C406.16,516.29 406.49,515.65 406.83,515.02C407.16,514.39 407.5,513.78 407.84,513.18C408.17,512.59 408.51,512.01 408.84,511.45C409.18,510.89 409.51,510.34 409.85,509.81C410.18,509.28 410.52,508.77 410.85,508.27C411.19,507.77 411.52,507.28 411.86,506.81C412.19,506.33 412.53,505.87 412.87,505.42C413.2,504.98 413.54,504.54 413.87,504.12C414.21,503.69 414.54,503.28 414.88,502.88C415.21,502.48 415.55,502.08 415.88,501.7C416.22,501.32 416.55,500.95 416.89,500.58C417.22,500.22 417.56,499.86 417.89,499.52C418.23,499.17 418.57,498.83 418.9,498.5C419.24,498.16 419.57,497.84 419.91,497.51C420.24,497.19 420.58,496.88 420.91,496.57C421.25,496.26 421.58,495.95 421.92,495.65C422.25,495.35 422.59,495.05 422.92,494.76C423.26,494.47 423.6,494.18 423.93,493.89C424.27,493.6 424.6,493.32 424.94,493.04C425.27,492.76 425.61,492.48 425.94,492.21C426.28,491.93 426.61,491.66 426.95,491.39C427.28,491.12 427.62,490.86 427.95,490.6C428.29,490.34 428.62,490.08 428.96,489.82C429.3,489.57 429.63,489.31 429.97,489.06C430.3,488.81 430.64,488.57 430.97,488.32C431.31,488.08 431.64,487.84 431.98,487.6C432.31,487.36 432.65,487.12 432.98,486.89C433.32,486.65 433.65,486.42 433.99,486.19C434.33,485.96 434.66,485.74 435,485.51C435.33,485.29 435.67,485.07 436,484.85C436.34,484.63 436.67,484.41 437.01,484.2C437.34,483.98 437.68,483.77 438.01,483.56C438.35,483.35 438.68,483.14 439.02,482.93C439.35,482.72 439.69,482.52 440.03,482.32C440.36,482.12 440.7,481.91 441.03,481.72C441.37,481.52 441.7,481.32 442.04,481.12C442.37,480.93 442.71,480.74 443.04,480.54C443.38,480.35 443.71,480.16 444.05,479.97C444.38,479.78 444.72,479.6 445.06,479.41C445.39,479.23 445.73,479.04 446.06,478.86C446.4,478.68 446.73,478.49 447.07,478.31C447.4,478.13 447.74,477.96 448.07,477.78C448.41,477.6 448.74,477.42 449.08,477.25C449.41,477.07 449.75,476.9 450.08,476.73C450.42,476.55 450.76,476.38 451.09,476.21C451.43,476.04 451.76,475.87 452.1,475.7C452.43,475.53 452.77,475.36 453.1,475.19C453.44,475.02 453.77,474.86 454.11,474.69C454.44,474.52 454.78,474.36 455.11,474.19C455.45,474.03 455.79,473.86 456.12,473.7C456.46,473.54 456.79,473.37 457.13,473.21C457.46,473.04 457.8,472.88 458.13,472.72C458.47,472.56 458.8,472.39 459.14,472.23C459.47,472.07 459.81,471.91 460.14,471.75C460.48,471.59 460.81,471.42 461.15,471.26C461.49,471.1 461.82,470.94 462.16,470.78C462.49,470.62 462.83,470.45 463.16,470.29C463.5,470.13 463.83,469.97 464.17,469.81C464.5,469.64 464.84,469.48 465.17,469.32C465.51,469.16 465.84,469 466.18,468.83C466.51,468.67 466.85,468.51 467.19,468.35C467.52,468.18 467.86,468.02 468.19,467.86C468.53,467.7 468.86,467.54 469.2,467.38C469.53,467.21 469.87,467.05 470.2,466.89C470.54,466.73 470.87,466.57 471.21,466.41C471.54,466.25 471.88,466.09 472.22,465.93C472.55,465.77 472.89,465.61 473.22,465.46C473.56,465.3 473.89,465.14 474.23,464.98C474.56,464.83 474.9,464.67 475.23,464.52C475.57,464.36 475.9,464.21 476.24,464.05C476.57,463.9 476.91,463.75 477.24,463.6C477.58,463.44 477.92,463.29 478.25,463.14C478.59,462.99 478.92,462.84 479.26,462.7C479.59,462.55 479.93,462.4 480.26,462.26C480.6,462.11 480.93,461.97 481.27,461.82C481.6,461.68 481.94,461.54 482.27,461.4C482.61,461.26 482.95,461.12 483.28,460.98C483.62,460.84 483.95,460.71 484.29,460.57C484.62,460.44 484.96,460.31 485.29,460.17C485.63,460.04 485.96,459.91 486.3,459.78C486.63,459.66 486.97,459.53 487.3,459.4C487.64,459.28 487.97,459.16 488.31,459.04C488.65,458.91 488.98,458.79 489.32,458.68C489.65,458.56 489.99,458.44 490.32,458.33C490.66,458.22 490.99,458.1 491.33,458C491.66,457.89 492,457.78 492.33,457.67C492.67,457.57 493,457.46 493.34,457.36C493.68,457.26 494.01,457.16 494.35,457.07C494.68,456.97 495.02,456.88 495.35,456.79C495.69,456.69 496.02,456.6 496.36,456.52C496.69,456.43 497.03,456.35 497.36,456.27C497.7,456.18 498.03,456.11 498.37,456.03C498.7,455.95 499.04,455.88 499.38,455.81C499.71,455.74 500.05,455.67 500.38,455.6C500.72,455.54 501.05,455.48 501.39,455.42C501.72,455.36 502.06,455.3 502.39,455.25C502.73,455.19 503.06,455.14 503.4,455.09C503.73,455.05 504.07,455 504.41,454.96C504.74,454.92 505.08,454.88 505.41,454.85C505.75,454.81 506.08,454.78 506.42,454.75C506.75,454.72 507.09,454.7 507.42,454.68C507.76,454.66 508.09,454.65 508.43,454.64C508.76,454.64 509.1,454.64 509.43,454.65C509.77,454.66 510.11,454.68 510.44,454.72C510.78,454.75 511.11,454.79 511.45,454.85C511.78,454.91 512.12,454.97 512.45,455.06C512.79,455.14 513.12,455.24 513.46,455.36C513.79,455.47 514.13,455.6 514.46,455.75C514.8,455.9 515.14,456.07 515.47,456.26C515.81,456.45 516.14,456.65 516.48,456.88C516.81,457.11 517.15,457.37 517.48,457.64C517.82,457.92 518.15,458.21 518.49,458.54C518.82,458.86 519.16,459.21 519.49,459.59C519.83,459.96 520.33,460.6 520.5,460.8" fill="none" stroke="#c8161d" stroke-width="1.45" stroke-linecap="butt" stroke-linejoin="round"/>
<line x1="422.7" y1="577.4" x2="422.7" y2="474.9" stroke="url(#g9)" stroke-width="2.0"/>
<path d="M422.7,469.2 L420.2,475.4 L422.7,474.4 L425.2,475.4 Z" fill="#c8161d"/>
<line x1="463.7" y1="460.8" x2="463.7" y2="554.8" stroke="url(#g10)" stroke-width="2.0"/>
<path d="M463.7,560.5 L461.2,554.3 L463.7,555.3 L466.2,554.3 Z" fill="#17507e"/>
<text x="404.9" y="464.8" font-size="9.6" text-anchor="start" fill="#d23c3c" font-weight="normal">Charging</text>
<text x="465.9" y="571.3" font-size="9.6" text-anchor="middle" fill="#3a8fd4" font-weight="normal">Discharge</text>
<text transform="translate(438.6,477.9) rotate(-27)" font-size="10.46" text-anchor="middle" fill="#cf2a30" y="3.66" textLength="22.26" lengthAdjust="spacingAndGlyphs" x="0">100 s</text>
<text transform="translate(437,493.8) rotate(-27)" font-size="10.46" text-anchor="middle" fill="#c9703c" y="3.66" textLength="17.2" lengthAdjust="spacingAndGlyphs" x="0">75 s</text>
<text transform="translate(437.5,510.7) rotate(-27)" font-size="10.46" text-anchor="middle" fill="#ef8d5f" y="3.66" textLength="17.2" lengthAdjust="spacingAndGlyphs" x="0">50 s</text>
<text transform="translate(438,530.3) rotate(-27)" font-size="10.46" text-anchor="middle" fill="#f7b733" y="3.66" textLength="17.2" lengthAdjust="spacingAndGlyphs" x="0">25 s</text>
<text transform="translate(437.8,545.4) rotate(-27)" font-size="10.46" text-anchor="middle" fill="#2a2a2a" y="3.66" textLength="12.14" lengthAdjust="spacingAndGlyphs" x="0">0 s</text>
<text transform="translate(480,484.4) rotate(-27)" font-size="10.46" text-anchor="middle" fill="#4d93d9" y="3.66" textLength="22.26" lengthAdjust="spacingAndGlyphs" x="0">125 s</text>
<text transform="translate(480,504.6) rotate(-27)" font-size="10.46" text-anchor="middle" fill="#23ace6" y="3.66" textLength="22.26" lengthAdjust="spacingAndGlyphs" x="0">150 s</text>
<text transform="translate(480,522) rotate(-27)" font-size="10.46" text-anchor="middle" fill="#2c7cc6" y="3.66" textLength="22.26" lengthAdjust="spacingAndGlyphs" x="0">175 s</text>
<text transform="translate(479.6,540.1) rotate(-27)" font-size="10.46" text-anchor="middle" fill="#2e4963" y="3.66" textLength="22.26" lengthAdjust="spacingAndGlyphs" x="0">200 s</text>
<text x="479.6" y="622.6" font-size="9.72" fill="#231f20">c<tspan dy="3.6" font-size="6.66">pore,Na</tspan><tspan dy="-2.4" font-size="4.68">+</tspan></text>
<line x1="401.8" y1="451.4" x2="520.5" y2="451.4" stroke="#4d4d4d" stroke-width="0.85"/>
<line x1="401.8" y1="632.4" x2="520.5" y2="632.4" stroke="#4d4d4d" stroke-width="0.85"/>
<line x1="401.8" y1="451.4" x2="401.8" y2="632.4" stroke="#4d4d4d" stroke-width="0.85"/>
<line x1="520.5" y1="451.4" x2="520.5" y2="632.4" stroke="#4d4d4d" stroke-width="0.85"/>
<line x1="398.5" y1="451.4" x2="401.8" y2="451.4" stroke="#4d4d4d" stroke-width="0.85"/>
<line x1="398.5" y1="496.6" x2="401.8" y2="496.6" stroke="#4d4d4d" stroke-width="0.85"/>
<line x1="398.5" y1="541.9" x2="401.8" y2="541.9" stroke="#4d4d4d" stroke-width="0.85"/>
<line x1="398.5" y1="587.1" x2="401.8" y2="587.1" stroke="#4d4d4d" stroke-width="0.85"/>
<line x1="398.5" y1="632.4" x2="401.8" y2="632.4" stroke="#4d4d4d" stroke-width="0.85"/>
<line x1="401.8" y1="632.4" x2="401.8" y2="635.7" stroke="#4d4d4d" stroke-width="0.85"/>
<line x1="461.15" y1="632.4" x2="461.15" y2="635.7" stroke="#4d4d4d" stroke-width="0.85"/>
<line x1="520.5" y1="632.4" x2="520.5" y2="635.7" stroke="#4d4d4d" stroke-width="0.85"/>
<text x="392.8" y="454.7" font-size="9.29" text-anchor="end" fill="#231f20" font-weight="normal" textLength="16.85" lengthAdjust="spacingAndGlyphs">400</text>
<text x="392.8" y="499.9" font-size="9.29" text-anchor="end" fill="#231f20" font-weight="normal" textLength="16.85" lengthAdjust="spacingAndGlyphs">300</text>
<text x="392.8" y="545.2" font-size="9.29" text-anchor="end" fill="#231f20" font-weight="normal" textLength="16.85" lengthAdjust="spacingAndGlyphs">200</text>
<text x="392.8" y="590.4" font-size="9.29" text-anchor="end" fill="#231f20" font-weight="normal" textLength="16.85" lengthAdjust="spacingAndGlyphs">100</text>
<text x="392.8" y="635.7" font-size="9.29" text-anchor="end" fill="#231f20" font-weight="normal" textLength="5.62" lengthAdjust="spacingAndGlyphs">0</text>
<text x="401.8" y="646" font-size="9.38" text-anchor="middle" fill="#231f20" font-weight="normal" textLength="5.67" lengthAdjust="spacingAndGlyphs">0</text>
<text x="461.15" y="646" font-size="9.38" text-anchor="middle" fill="#231f20" font-weight="normal" textLength="17.02" lengthAdjust="spacingAndGlyphs">200</text>
<text x="520.5" y="646" font-size="9.38" text-anchor="middle" fill="#231f20" font-weight="normal" textLength="17.02" lengthAdjust="spacingAndGlyphs">400</text>
<text x="367.4" y="543.3" font-size="10.6" text-anchor="middle" fill="#231f20" font-weight="normal" transform="rotate(-90 367.4 543.3)">Concentration in pores (mM)</text>
<text x="529.0" y="658.7" font-size="10.4" text-anchor="middle" fill="#231f20">Position, <tspan font-style="italic">x</tspan> (µm)</text>
<path d="M537.5,623C537.67,622.16 538.17,619.6 538.51,617.99C538.84,616.38 539.18,614.83 539.52,613.34C539.85,611.85 540.19,610.42 540.52,609.05C540.86,607.67 541.2,606.35 541.53,605.08C541.87,603.81 542.2,602.6 542.54,601.43C542.87,600.26 543.21,599.14 543.55,598.07C543.88,596.99 544.22,595.97 544.55,594.98C544.89,593.99 545.23,593.05 545.56,592.15C545.9,591.25 546.23,590.38 546.57,589.56C546.91,588.73 547.24,587.94 547.58,587.18C547.91,586.42 548.25,585.7 548.59,585C548.92,584.31 549.26,583.65 549.59,583.01C549.93,582.37 550.26,581.76 550.6,581.17C550.94,580.59 551.27,580.03 551.61,579.49C551.94,578.95 552.28,578.43 552.62,577.93C552.95,577.43 553.29,576.96 553.62,576.5C553.96,576.03 554.3,575.59 554.63,575.16C554.97,574.74 555.3,574.32 555.64,573.92C555.98,573.52 556.31,573.14 556.65,572.76C556.98,572.39 557.32,572.02 557.66,571.67C557.99,571.31 558.33,570.96 558.66,570.62C559,570.28 559.33,569.94 559.67,569.61C560.01,569.28 560.34,568.95 560.68,568.63C561.01,568.3 561.35,567.98 561.69,567.66C562.02,567.34 562.36,567.02 562.69,566.71C563.03,566.4 563.37,566.09 563.7,565.78C564.04,565.47 564.37,565.17 564.71,564.87C565.05,564.57 565.38,564.27 565.72,563.97C566.05,563.68 566.39,563.38 566.73,563.09C567.06,562.8 567.4,562.51 567.73,562.23C568.07,561.94 568.4,561.66 568.74,561.38C569.08,561.1 569.41,560.82 569.75,560.55C570.08,560.27 570.42,560 570.76,559.73C571.09,559.46 571.43,559.19 571.76,558.92C572.1,558.65 572.44,558.39 572.77,558.13C573.11,557.87 573.44,557.61 573.78,557.35C574.12,557.09 574.45,556.83 574.79,556.58C575.12,556.33 575.46,556.07 575.79,555.83C576.13,555.58 576.47,555.33 576.8,555.08C577.14,554.83 577.47,554.59 577.81,554.35C578.15,554.1 578.48,553.86 578.82,553.62C579.15,553.39 579.49,553.15 579.83,552.91C580.16,552.68 580.5,552.44 580.83,552.21C581.17,551.97 581.51,551.74 581.84,551.51C582.18,551.28 582.51,551.05 582.85,550.83C583.19,550.6 583.52,550.37 583.86,550.15C584.19,549.92 584.53,549.7 584.86,549.48C585.2,549.25 585.54,549.03 585.87,548.81C586.21,548.59 586.54,548.37 586.88,548.16C587.22,547.94 587.55,547.72 587.89,547.5C588.22,547.29 588.56,547.07 588.9,546.86C589.23,546.64 589.57,546.43 589.9,546.22C590.24,546 590.58,545.79 590.91,545.58C591.25,545.37 591.58,545.16 591.92,544.95C592.25,544.74 592.59,544.53 592.93,544.32C593.26,544.11 593.6,543.9 593.93,543.69C594.27,543.48 594.61,543.28 594.94,543.07C595.28,542.86 595.61,542.65 595.95,542.45C596.29,542.24 596.62,542.03 596.96,541.83C597.29,541.62 597.63,541.41 597.97,541.21C598.3,541 598.64,540.79 598.97,540.59C599.31,540.38 599.65,540.18 599.98,539.97C600.32,539.76 600.65,539.56 600.99,539.35C601.32,539.14 601.66,538.94 602,538.73C602.33,538.52 602.67,538.32 603,538.11C603.34,537.9 603.68,537.69 604.01,537.49C604.35,537.28 604.68,537.07 605.02,536.86C605.36,536.66 605.69,536.45 606.03,536.24C606.36,536.03 606.7,535.83 607.04,535.62C607.37,535.41 607.71,535.21 608.04,535C608.38,534.8 608.71,534.59 609.05,534.39C609.39,534.18 609.72,533.98 610.06,533.78C610.39,533.57 610.73,533.37 611.07,533.17C611.4,532.97 611.74,532.77 612.07,532.58C612.41,532.38 612.75,532.18 613.08,531.99C613.42,531.8 613.75,531.6 614.09,531.41C614.43,531.22 614.76,531.03 615.1,530.84C615.43,530.66 615.77,530.47 616.11,530.29C616.44,530.11 616.78,529.92 617.11,529.75C617.45,529.57 617.78,529.39 618.12,529.22C618.46,529.04 618.79,528.87 619.13,528.7C619.46,528.54 619.8,528.37 620.14,528.21C620.47,528.04 620.81,527.88 621.14,527.73C621.48,527.57 621.82,527.42 622.15,527.27C622.49,527.12 622.82,526.97 623.16,526.83C623.5,526.68 623.83,526.54 624.17,526.41C624.5,526.27 624.84,526.14 625.17,526.01C625.51,525.88 625.85,525.75 626.18,525.63C626.52,525.51 626.85,525.39 627.19,525.28C627.53,525.17 627.86,525.06 628.2,524.96C628.53,524.85 628.87,524.75 629.21,524.66C629.54,524.56 629.88,524.47 630.21,524.39C630.55,524.3 630.89,524.22 631.22,524.14C631.56,524.07 631.89,524 632.23,523.93C632.57,523.86 632.9,523.8 633.24,523.75C633.57,523.69 633.91,523.64 634.24,523.6C634.58,523.55 634.92,523.52 635.25,523.48C635.59,523.45 635.92,523.42 636.26,523.4C636.6,523.38 636.93,523.36 637.27,523.35C637.6,523.34 637.94,523.34 638.28,523.34C638.61,523.35 638.95,523.36 639.28,523.37C639.62,523.39 639.96,523.41 640.29,523.44C640.63,523.47 640.96,523.5 641.3,523.55C641.64,523.59 641.97,523.64 642.31,523.7C642.64,523.75 642.98,523.82 643.31,523.89C643.65,523.96 643.99,524.03 644.32,524.12C644.66,524.21 644.99,524.3 645.33,524.4C645.67,524.5 646,524.61 646.34,524.72C646.67,524.84 647.01,524.96 647.35,525.09C647.68,525.23 648.02,525.37 648.35,525.51C648.69,525.66 649.03,525.82 649.36,525.98C649.7,526.15 650.03,526.32 650.37,526.5C650.7,526.68 651.04,526.87 651.38,527.07C651.71,527.27 652.05,527.48 652.38,527.69C652.72,527.91 653.06,528.14 653.39,528.37C653.73,528.6 654.23,528.98 654.4,529.1" fill="none" stroke="#c8161d" stroke-width="1.45" stroke-linecap="butt" stroke-linejoin="round"/>
<path d="M537.5,617.2C537.67,616.43 538.17,614.05 538.51,612.57C538.84,611.08 539.18,609.66 539.52,608.29C539.85,606.92 540.19,605.61 540.52,604.35C540.86,603.09 541.2,601.88 541.53,600.72C541.87,599.56 542.2,598.46 542.54,597.39C542.87,596.33 543.21,595.32 543.55,594.34C543.88,593.37 544.22,592.44 544.55,591.55C544.89,590.66 545.23,589.81 545.56,588.99C545.9,588.18 546.23,587.4 546.57,586.66C546.91,585.91 547.24,585.2 547.58,584.52C547.91,583.84 548.25,583.19 548.59,582.57C548.92,581.94 549.26,581.35 549.59,580.77C549.93,580.2 550.26,579.65 550.6,579.12C550.94,578.59 551.27,578.09 551.61,577.59C551.94,577.1 552.28,576.63 552.62,576.17C552.95,575.71 553.29,575.27 553.62,574.83C553.96,574.4 554.3,573.98 554.63,573.56C554.97,573.14 555.3,572.73 555.64,572.33C555.98,571.93 556.31,571.53 556.65,571.14C556.98,570.75 557.32,570.37 557.66,569.99C557.99,569.62 558.33,569.25 558.66,568.88C559,568.51 559.33,568.15 559.67,567.8C560.01,567.45 560.34,567.1 560.68,566.75C561.01,566.41 561.35,566.07 561.69,565.74C562.02,565.41 562.36,565.08 562.69,564.76C563.03,564.43 563.37,564.12 563.7,563.8C564.04,563.49 564.37,563.18 564.71,562.88C565.05,562.58 565.38,562.28 565.72,561.98C566.05,561.69 566.39,561.4 566.73,561.11C567.06,560.82 567.4,560.54 567.73,560.26C568.07,559.99 568.4,559.71 568.74,559.44C569.08,559.17 569.41,558.91 569.75,558.64C570.08,558.38 570.42,558.12 570.76,557.86C571.09,557.61 571.43,557.35 571.76,557.1C572.1,556.85 572.44,556.61 572.77,556.36C573.11,556.12 573.44,555.88 573.78,555.64C574.12,555.4 574.45,555.17 574.79,554.94C575.12,554.7 575.46,554.47 575.79,554.24C576.13,554.02 576.47,553.79 576.8,553.57C577.14,553.34 577.47,553.12 577.81,552.9C578.15,552.68 578.48,552.47 578.82,552.25C579.15,552.03 579.49,551.82 579.83,551.61C580.16,551.39 580.5,551.18 580.83,550.97C581.17,550.76 581.51,550.55 581.84,550.35C582.18,550.14 582.51,549.93 582.85,549.73C583.19,549.52 583.52,549.31 583.86,549.11C584.19,548.91 584.53,548.7 584.86,548.5C585.2,548.3 585.54,548.09 585.87,547.89C586.21,547.69 586.54,547.49 586.88,547.29C587.22,547.08 587.55,546.88 587.89,546.68C588.22,546.48 588.56,546.28 588.9,546.07C589.23,545.87 589.57,545.67 589.9,545.46C590.24,545.26 590.58,545.06 590.91,544.85C591.25,544.65 591.58,544.44 591.92,544.23C592.25,544.03 592.59,543.82 592.93,543.61C593.26,543.4 593.6,543.19 593.93,542.98C594.27,542.77 594.61,542.56 594.94,542.34C595.28,542.13 595.61,541.91 595.95,541.7C596.29,541.48 596.62,541.26 596.96,541.04C597.29,540.82 597.63,540.6 597.97,540.38C598.3,540.16 598.64,539.93 598.97,539.71C599.31,539.49 599.65,539.26 599.98,539.04C600.32,538.81 600.65,538.59 600.99,538.36C601.32,538.14 601.66,537.91 602,537.68C602.33,537.46 602.67,537.23 603,537.01C603.34,536.78 603.68,536.55 604.01,536.33C604.35,536.1 604.68,535.88 605.02,535.65C605.36,535.43 605.69,535.2 606.03,534.98C606.36,534.76 606.7,534.53 607.04,534.31C607.37,534.09 607.71,533.87 608.04,533.65C608.38,533.43 608.71,533.21 609.05,532.99C609.39,532.78 609.72,532.56 610.06,532.35C610.39,532.13 610.73,531.92 611.07,531.71C611.4,531.5 611.74,531.29 612.07,531.09C612.41,530.88 612.75,530.67 613.08,530.47C613.42,530.27 613.75,530.07 614.09,529.87C614.43,529.68 614.76,529.48 615.1,529.29C615.43,529.1 615.77,528.91 616.11,528.72C616.44,528.53 616.78,528.35 617.11,528.17C617.45,527.99 617.78,527.81 618.12,527.64C618.46,527.46 618.79,527.29 619.13,527.12C619.46,526.96 619.8,526.79 620.14,526.63C620.47,526.47 620.81,526.32 621.14,526.16C621.48,526.01 621.82,525.86 622.15,525.72C622.49,525.58 622.82,525.44 623.16,525.3C623.5,525.17 623.83,525.03 624.17,524.91C624.5,524.78 624.84,524.66 625.17,524.54C625.51,524.43 625.85,524.31 626.18,524.21C626.52,524.1 626.85,524 627.19,523.9C627.53,523.8 627.86,523.71 628.2,523.62C628.53,523.54 628.87,523.45 629.21,523.37C629.54,523.29 629.88,523.22 630.21,523.15C630.55,523.07 630.89,523.01 631.22,522.94C631.56,522.88 631.89,522.82 632.23,522.76C632.57,522.7 632.9,522.65 633.24,522.6C633.57,522.55 633.91,522.5 634.24,522.46C634.58,522.41 634.92,522.37 635.25,522.33C635.59,522.29 635.92,522.26 636.26,522.22C636.6,522.19 636.93,522.16 637.27,522.13C637.6,522.1 637.94,522.07 638.28,522.04C638.61,522.02 638.95,521.99 639.28,521.97C639.62,521.94 639.96,521.92 640.29,521.9C640.63,521.88 640.96,521.86 641.3,521.84C641.64,521.83 641.97,521.81 642.31,521.79C642.64,521.77 642.98,521.76 643.31,521.74C643.65,521.73 643.99,521.71 644.32,521.7C644.66,521.68 644.99,521.67 645.33,521.65C645.67,521.63 646,521.62 646.34,521.6C646.67,521.59 647.01,521.57 647.35,521.55C647.68,521.54 648.02,521.52 648.35,521.5C648.69,521.48 649.03,521.46 649.36,521.44C649.7,521.42 650.03,521.4 650.37,521.37C650.7,521.35 651.04,521.33 651.38,521.3C651.71,521.27 652.05,521.24 652.38,521.21C652.72,521.18 653.06,521.15 653.39,521.11C653.73,521.08 654.23,521.02 654.4,521" fill="none" stroke="#4a90d8" stroke-width="1.45" stroke-linecap="butt" stroke-linejoin="round"/>
<path d="M537.5,614.18C537.67,613.5 538.17,611.39 538.51,610.06C538.84,608.74 539.18,607.45 539.52,606.21C539.85,604.97 540.19,603.77 540.52,602.61C540.86,601.45 541.2,600.33 541.53,599.25C541.87,598.16 542.2,597.12 542.54,596.11C542.87,595.1 543.21,594.13 543.55,593.2C543.88,592.26 544.22,591.36 544.55,590.49C544.89,589.62 545.23,588.78 545.56,587.97C545.9,587.16 546.23,586.39 546.57,585.64C546.91,584.89 547.24,584.17 547.58,583.48C547.91,582.79 548.25,582.12 548.59,581.48C548.92,580.84 549.26,580.23 549.59,579.63C549.93,579.04 550.26,578.47 550.6,577.92C550.94,577.37 551.27,576.84 551.61,576.33C551.94,575.82 552.28,575.34 552.62,574.86C552.95,574.39 553.29,573.94 553.62,573.5C553.96,573.06 554.3,572.63 554.63,572.22C554.97,571.81 555.3,571.41 555.64,571.03C555.98,570.64 556.31,570.27 556.65,569.9C556.98,569.53 557.32,569.18 557.66,568.83C557.99,568.48 558.33,568.15 558.66,567.81C559,567.48 559.33,567.15 559.67,566.82C560.01,566.5 560.34,566.18 560.68,565.86C561.01,565.54 561.35,565.23 561.69,564.92C562.02,564.61 562.36,564.3 562.69,564C563.03,563.69 563.37,563.39 563.7,563.09C564.04,562.79 564.37,562.5 564.71,562.2C565.05,561.91 565.38,561.62 565.72,561.33C566.05,561.05 566.39,560.76 566.73,560.48C567.06,560.2 567.4,559.92 567.73,559.64C568.07,559.37 568.4,559.09 568.74,558.82C569.08,558.55 569.41,558.28 569.75,558.02C570.08,557.75 570.42,557.49 570.76,557.23C571.09,556.97 571.43,556.71 571.76,556.45C572.1,556.19 572.44,555.94 572.77,555.69C573.11,555.43 573.44,555.18 573.78,554.94C574.12,554.69 574.45,554.44 574.79,554.2C575.12,553.96 575.46,553.71 575.79,553.47C576.13,553.23 576.47,553 576.8,552.76C577.14,552.52 577.47,552.29 577.81,552.06C578.15,551.83 578.48,551.59 578.82,551.37C579.15,551.14 579.49,550.91 579.83,550.68C580.16,550.46 580.5,550.23 580.83,550.01C581.17,549.79 581.51,549.57 581.84,549.35C582.18,549.13 582.51,548.91 582.85,548.69C583.19,548.47 583.52,548.26 583.86,548.04C584.19,547.83 584.53,547.62 584.86,547.4C585.2,547.19 585.54,546.98 585.87,546.77C586.21,546.56 586.54,546.35 586.88,546.14C587.22,545.94 587.55,545.73 587.89,545.52C588.22,545.32 588.56,545.11 588.9,544.91C589.23,544.7 589.57,544.5 589.9,544.3C590.24,544.09 590.58,543.89 590.91,543.69C591.25,543.49 591.58,543.29 591.92,543.08C592.25,542.88 592.59,542.68 592.93,542.48C593.26,542.28 593.6,542.09 593.93,541.89C594.27,541.69 594.61,541.49 594.94,541.29C595.28,541.09 595.61,540.89 595.95,540.7C596.29,540.5 596.62,540.3 596.96,540.1C597.29,539.9 597.63,539.71 597.97,539.51C598.3,539.31 598.64,539.11 598.97,538.92C599.31,538.72 599.65,538.52 599.98,538.32C600.32,538.12 600.65,537.93 600.99,537.73C601.32,537.53 601.66,537.33 602,537.13C602.33,536.93 602.67,536.73 603,536.53C603.34,536.33 603.68,536.13 604.01,535.93C604.35,535.73 604.68,535.53 605.02,535.33C605.36,535.13 605.69,534.93 606.03,534.72C606.36,534.52 606.7,534.32 607.04,534.12C607.37,533.92 607.71,533.72 608.04,533.51C608.38,533.31 608.71,533.11 609.05,532.91C609.39,532.71 609.72,532.51 610.06,532.31C610.39,532.1 610.73,531.9 611.07,531.7C611.4,531.5 611.74,531.3 612.07,531.1C612.41,530.9 612.75,530.71 613.08,530.51C613.42,530.31 613.75,530.11 614.09,529.91C614.43,529.72 614.76,529.52 615.1,529.33C615.43,529.13 615.77,528.93 616.11,528.74C616.44,528.55 616.78,528.35 617.11,528.16C617.45,527.97 617.78,527.78 618.12,527.59C618.46,527.4 618.79,527.21 619.13,527.02C619.46,526.84 619.8,526.65 620.14,526.46C620.47,526.28 620.81,526.1 621.14,525.91C621.48,525.73 621.82,525.55 622.15,525.37C622.49,525.19 622.82,525.01 623.16,524.84C623.5,524.66 623.83,524.49 624.17,524.31C624.5,524.14 624.84,523.97 625.17,523.8C625.51,523.63 625.85,523.46 626.18,523.3C626.52,523.13 626.85,522.97 627.19,522.81C627.53,522.64 627.86,522.48 628.2,522.33C628.53,522.17 628.87,522.01 629.21,521.86C629.54,521.71 629.88,521.56 630.21,521.41C630.55,521.26 630.89,521.11 631.22,520.97C631.56,520.83 631.89,520.68 632.23,520.55C632.57,520.41 632.9,520.27 633.24,520.14C633.57,520 633.91,519.87 634.24,519.75C634.58,519.62 634.92,519.5 635.25,519.38C635.59,519.26 635.92,519.14 636.26,519.03C636.6,518.92 636.93,518.81 637.27,518.7C637.6,518.6 637.94,518.5 638.28,518.4C638.61,518.31 638.95,518.22 639.28,518.13C639.62,518.05 639.96,517.97 640.29,517.89C640.63,517.82 640.96,517.75 641.3,517.69C641.64,517.62 641.97,517.56 642.31,517.51C642.64,517.46 642.98,517.42 643.31,517.38C643.65,517.34 643.99,517.3 644.32,517.28C644.66,517.25 644.99,517.23 645.33,517.22C645.67,517.21 646,517.21 646.34,517.21C646.67,517.21 647.01,517.22 647.35,517.24C647.68,517.26 648.02,517.28 648.35,517.32C648.69,517.35 649.03,517.4 649.36,517.45C649.7,517.5 650.03,517.56 650.37,517.63C650.7,517.69 651.04,517.77 651.38,517.86C651.71,517.95 652.05,518.04 652.38,518.15C652.72,518.25 653.06,518.37 653.39,518.49C653.73,518.62 654.23,518.83 654.4,518.9" fill="none" stroke="#bf5a27" stroke-width="1.45" stroke-linecap="butt" stroke-linejoin="round"/>
<path d="M537.5,611.4C537.67,610.73 538.17,608.68 538.51,607.39C538.84,606.1 539.18,604.86 539.52,603.66C539.85,602.47 540.19,601.32 540.52,600.21C540.86,599.1 541.2,598.03 541.53,597.01C541.87,595.98 542.2,594.99 542.54,594.04C542.87,593.09 543.21,592.19 543.55,591.31C543.88,590.43 544.22,589.59 544.55,588.78C544.89,587.97 545.23,587.2 545.56,586.45C545.9,585.7 546.23,584.98 546.57,584.29C546.91,583.6 547.24,582.94 547.58,582.3C547.91,581.67 548.25,581.06 548.59,580.46C548.92,579.87 549.26,579.31 549.59,578.76C549.93,578.21 550.26,577.68 550.6,577.17C550.94,576.66 551.27,576.17 551.61,575.69C551.94,575.21 552.28,574.75 552.62,574.29C552.95,573.84 553.29,573.4 553.62,572.97C553.96,572.54 554.3,572.12 554.63,571.71C554.97,571.3 555.3,570.89 555.64,570.49C555.98,570.09 556.31,569.7 556.65,569.31C556.98,568.92 557.32,568.54 557.66,568.17C557.99,567.79 558.33,567.42 558.66,567.06C559,566.69 559.33,566.34 559.67,565.98C560.01,565.63 560.34,565.28 560.68,564.94C561.01,564.6 561.35,564.26 561.69,563.93C562.02,563.6 562.36,563.27 562.69,562.95C563.03,562.63 563.37,562.31 563.7,562C564.04,561.69 564.37,561.38 564.71,561.08C565.05,560.77 565.38,560.48 565.72,560.18C566.05,559.89 566.39,559.6 566.73,559.31C567.06,559.03 567.4,558.75 567.73,558.47C568.07,558.19 568.4,557.92 568.74,557.65C569.08,557.38 569.41,557.11 569.75,556.85C570.08,556.59 570.42,556.33 570.76,556.07C571.09,555.82 571.43,555.57 571.76,555.32C572.1,555.07 572.44,554.83 572.77,554.58C573.11,554.34 573.44,554.1 573.78,553.86C574.12,553.63 574.45,553.39 574.79,553.16C575.12,552.93 575.46,552.7 575.79,552.48C576.13,552.25 576.47,552.03 576.8,551.81C577.14,551.59 577.47,551.37 577.81,551.15C578.15,550.93 578.48,550.72 578.82,550.51C579.15,550.29 579.49,550.08 579.83,549.87C580.16,549.66 580.5,549.46 580.83,549.25C581.17,549.04 581.51,548.84 581.84,548.64C582.18,548.43 582.51,548.23 582.85,548.03C583.19,547.83 583.52,547.63 583.86,547.43C584.19,547.23 584.53,547.03 584.86,546.84C585.2,546.64 585.54,546.44 585.87,546.25C586.21,546.05 586.54,545.86 586.88,545.66C587.22,545.47 587.55,545.27 587.89,545.08C588.22,544.89 588.56,544.69 588.9,544.5C589.23,544.3 589.57,544.11 589.9,543.92C590.24,543.72 590.58,543.53 590.91,543.33C591.25,543.14 591.58,542.94 591.92,542.75C592.25,542.55 592.59,542.36 592.93,542.16C593.26,541.96 593.6,541.77 593.93,541.57C594.27,541.37 594.61,541.17 594.94,540.97C595.28,540.77 595.61,540.57 595.95,540.36C596.29,540.16 596.62,539.96 596.96,539.75C597.29,539.55 597.63,539.34 597.97,539.14C598.3,538.93 598.64,538.72 598.97,538.52C599.31,538.31 599.65,538.1 599.98,537.89C600.32,537.68 600.65,537.47 600.99,537.26C601.32,537.05 601.66,536.84 602,536.63C602.33,536.42 602.67,536.21 603,536C603.34,535.79 603.68,535.58 604.01,535.37C604.35,535.16 604.68,534.95 605.02,534.74C605.36,534.53 605.69,534.32 606.03,534.11C606.36,533.9 606.7,533.69 607.04,533.48C607.37,533.27 607.71,533.06 608.04,532.85C608.38,532.65 608.71,532.44 609.05,532.23C609.39,532.03 609.72,531.82 610.06,531.61C610.39,531.41 610.73,531.2 611.07,531C611.4,530.8 611.74,530.59 612.07,530.39C612.41,530.19 612.75,529.99 613.08,529.79C613.42,529.59 613.75,529.39 614.09,529.2C614.43,529 614.76,528.8 615.1,528.61C615.43,528.42 615.77,528.22 616.11,528.03C616.44,527.84 616.78,527.65 617.11,527.46C617.45,527.28 617.78,527.09 618.12,526.91C618.46,526.72 618.79,526.54 619.13,526.36C619.46,526.18 619.8,526 620.14,525.82C620.47,525.65 620.81,525.47 621.14,525.3C621.48,525.13 621.82,524.96 622.15,524.79C622.49,524.63 622.82,524.46 623.16,524.3C623.5,524.14 623.83,523.98 624.17,523.82C624.5,523.66 624.84,523.51 625.17,523.36C625.51,523.21 625.85,523.06 626.18,522.91C626.52,522.77 626.85,522.62 627.19,522.48C627.53,522.34 627.86,522.2 628.2,522.07C628.53,521.93 628.87,521.8 629.21,521.66C629.54,521.53 629.88,521.4 630.21,521.27C630.55,521.14 630.89,521.02 631.22,520.89C631.56,520.76 631.89,520.64 632.23,520.52C632.57,520.39 632.9,520.27 633.24,520.15C633.57,520.02 633.91,519.9 634.24,519.78C634.58,519.66 634.92,519.54 635.25,519.41C635.59,519.29 635.92,519.17 636.26,519.05C636.6,518.93 636.93,518.8 637.27,518.68C637.6,518.56 637.94,518.43 638.28,518.31C638.61,518.18 638.95,518.05 639.28,517.93C639.62,517.8 639.96,517.67 640.29,517.54C640.63,517.41 640.96,517.27 641.3,517.14C641.64,517 641.97,516.87 642.31,516.73C642.64,516.59 642.98,516.45 643.31,516.3C643.65,516.16 643.99,516.01 644.32,515.86C644.66,515.71 644.99,515.55 645.33,515.4C645.67,515.24 646,515.08 646.34,514.92C646.67,514.75 647.01,514.58 647.35,514.41C647.68,514.24 648.02,514.07 648.35,513.88C648.69,513.7 649.03,513.52 649.36,513.33C649.7,513.14 650.03,512.95 650.37,512.75C650.7,512.55 651.04,512.35 651.38,512.14C651.71,511.93 652.05,511.71 652.38,511.49C652.72,511.27 653.06,511.05 653.39,510.81C653.73,510.58 654.23,510.22 654.4,510.1" fill="none" stroke="#18a9e6" stroke-width="1.45" stroke-linecap="butt" stroke-linejoin="round"/>
<path d="M537.5,605.6C537.67,604.99 538.17,603.13 538.51,601.96C538.84,600.8 539.18,599.67 539.52,598.59C539.85,597.51 540.19,596.47 540.52,595.47C540.86,594.47 541.2,593.51 541.53,592.59C541.87,591.67 542.2,590.78 542.54,589.93C542.87,589.08 543.21,588.26 543.55,587.48C543.88,586.69 544.22,585.94 544.55,585.21C544.89,584.49 545.23,583.8 545.56,583.13C545.9,582.46 546.23,581.82 546.57,581.21C546.91,580.59 547.24,580 547.58,579.43C547.91,578.86 548.25,578.32 548.59,577.79C548.92,577.27 549.26,576.76 549.59,576.27C549.93,575.78 550.26,575.31 550.6,574.86C550.94,574.4 551.27,573.96 551.61,573.53C551.94,573.1 552.28,572.68 552.62,572.27C552.95,571.87 553.29,571.47 553.62,571.08C553.96,570.69 554.3,570.31 554.63,569.93C554.97,569.56 555.3,569.18 555.64,568.82C555.98,568.45 556.31,568.08 556.65,567.72C556.98,567.36 557.32,567.01 557.66,566.66C557.99,566.3 558.33,565.96 558.66,565.61C559,565.27 559.33,564.93 559.67,564.59C560.01,564.26 560.34,563.92 560.68,563.59C561.01,563.27 561.35,562.94 561.69,562.62C562.02,562.3 562.36,561.98 562.69,561.66C563.03,561.35 563.37,561.04 563.7,560.73C564.04,560.42 564.37,560.12 564.71,559.82C565.05,559.52 565.38,559.22 565.72,558.92C566.05,558.63 566.39,558.34 566.73,558.05C567.06,557.76 567.4,557.48 567.73,557.2C568.07,556.91 568.4,556.63 568.74,556.36C569.08,556.08 569.41,555.81 569.75,555.54C570.08,555.27 570.42,555 570.76,554.74C571.09,554.47 571.43,554.21 571.76,553.95C572.1,553.69 572.44,553.44 572.77,553.18C573.11,552.93 573.44,552.68 573.78,552.43C574.12,552.18 574.45,551.93 574.79,551.69C575.12,551.45 575.46,551.2 575.79,550.96C576.13,550.73 576.47,550.49 576.8,550.25C577.14,550.02 577.47,549.79 577.81,549.56C578.15,549.33 578.48,549.1 578.82,548.87C579.15,548.64 579.49,548.42 579.83,548.2C580.16,547.98 580.5,547.76 580.83,547.54C581.17,547.32 581.51,547.1 581.84,546.89C582.18,546.67 582.51,546.46 582.85,546.25C583.19,546.03 583.52,545.82 583.86,545.62C584.19,545.41 584.53,545.2 584.86,545C585.2,544.79 585.54,544.59 585.87,544.38C586.21,544.18 586.54,543.98 586.88,543.78C587.22,543.58 587.55,543.38 587.89,543.19C588.22,542.99 588.56,542.79 588.9,542.6C589.23,542.4 589.57,542.21 589.9,542.01C590.24,541.82 590.58,541.63 590.91,541.44C591.25,541.25 591.58,541.06 591.92,540.87C592.25,540.68 592.59,540.49 592.93,540.3C593.26,540.11 593.6,539.93 593.93,539.74C594.27,539.56 594.61,539.37 594.94,539.18C595.28,539 595.61,538.81 595.95,538.63C596.29,538.45 596.62,538.26 596.96,538.08C597.29,537.9 597.63,537.71 597.97,537.53C598.3,537.35 598.64,537.17 598.97,536.98C599.31,536.8 599.65,536.62 599.98,536.44C600.32,536.26 600.65,536.08 600.99,535.9C601.32,535.72 601.66,535.53 602,535.35C602.33,535.17 602.67,534.99 603,534.81C603.34,534.63 603.68,534.45 604.01,534.27C604.35,534.09 604.68,533.91 605.02,533.73C605.36,533.55 605.69,533.37 606.03,533.19C606.36,533.01 606.7,532.82 607.04,532.64C607.37,532.46 607.71,532.28 608.04,532.1C608.38,531.92 608.71,531.74 609.05,531.55C609.39,531.37 609.72,531.19 610.06,531C610.39,530.82 610.73,530.64 611.07,530.45C611.4,530.27 611.74,530.08 612.07,529.9C612.41,529.71 612.75,529.53 613.08,529.34C613.42,529.16 613.75,528.97 614.09,528.78C614.43,528.59 614.76,528.41 615.1,528.22C615.43,528.03 615.77,527.84 616.11,527.65C616.44,527.46 616.78,527.27 617.11,527.07C617.45,526.88 617.78,526.69 618.12,526.49C618.46,526.3 618.79,526.1 619.13,525.91C619.46,525.71 619.8,525.52 620.14,525.32C620.47,525.12 620.81,524.92 621.14,524.72C621.48,524.52 621.82,524.32 622.15,524.12C622.49,523.91 622.82,523.71 623.16,523.51C623.5,523.3 623.83,523.09 624.17,522.89C624.5,522.68 624.84,522.47 625.17,522.26C625.51,522.05 625.85,521.84 626.18,521.63C626.52,521.41 626.85,521.2 627.19,520.98C627.53,520.77 627.86,520.55 628.2,520.34C628.53,520.12 628.87,519.9 629.21,519.68C629.54,519.47 629.88,519.25 630.21,519.03C630.55,518.82 630.89,518.6 631.22,518.39C631.56,518.17 631.89,517.96 632.23,517.75C632.57,517.53 632.9,517.32 633.24,517.11C633.57,516.91 633.91,516.7 634.24,516.49C634.58,516.29 634.92,516.09 635.25,515.89C635.59,515.69 635.92,515.49 636.26,515.3C636.6,515.1 636.93,514.91 637.27,514.73C637.6,514.54 637.94,514.36 638.28,514.18C638.61,514 638.95,513.83 639.28,513.66C639.62,513.49 639.96,513.33 640.29,513.17C640.63,513.01 640.96,512.85 641.3,512.7C641.64,512.56 641.97,512.41 642.31,512.28C642.64,512.14 642.98,512.01 643.31,511.88C643.65,511.76 643.99,511.64 644.32,511.53C644.66,511.42 644.99,511.32 645.33,511.22C645.67,511.13 646,511.04 646.34,510.96C646.67,510.88 647.01,510.8 647.35,510.74C647.68,510.68 648.02,510.62 648.35,510.57C648.69,510.53 649.03,510.49 649.36,510.46C649.7,510.43 650.03,510.41 650.37,510.41C650.7,510.4 651.04,510.4 651.38,510.41C651.71,510.42 652.05,510.44 652.38,510.47C652.72,510.51 653.06,510.55 653.39,510.6C653.73,510.66 654.23,510.77 654.4,510.8" fill="none" stroke="#ea7a40" stroke-width="1.45" stroke-linecap="butt" stroke-linejoin="round"/>
<path d="M537.5,607.92C537.67,607.28 538.17,605.32 538.51,604.09C538.84,602.86 539.18,601.68 539.52,600.55C539.85,599.41 540.19,598.32 540.52,597.27C540.86,596.22 541.2,595.22 541.53,594.25C541.87,593.28 542.2,592.35 542.54,591.46C542.87,590.57 543.21,589.72 543.55,588.89C543.88,588.07 544.22,587.29 544.55,586.53C544.89,585.78 545.23,585.05 545.56,584.36C545.9,583.66 546.23,583 546.57,582.36C546.91,581.72 547.24,581.11 547.58,580.52C547.91,579.93 548.25,579.37 548.59,578.82C548.92,578.27 549.26,577.75 549.59,577.25C549.93,576.74 550.26,576.26 550.6,575.79C550.94,575.31 551.27,574.86 551.61,574.42C551.94,573.98 552.28,573.55 552.62,573.13C552.95,572.71 553.29,572.31 553.62,571.91C553.96,571.51 554.3,571.12 554.63,570.73C554.97,570.35 555.3,569.97 555.64,569.59C555.98,569.22 556.31,568.84 556.65,568.48C556.98,568.11 557.32,567.75 557.66,567.39C557.99,567.03 558.33,566.67 558.66,566.32C559,565.97 559.33,565.62 559.67,565.28C560.01,564.94 560.34,564.6 560.68,564.26C561.01,563.93 561.35,563.6 561.69,563.27C562.02,562.94 562.36,562.62 562.69,562.3C563.03,561.98 563.37,561.66 563.7,561.35C564.04,561.04 564.37,560.73 564.71,560.42C565.05,560.12 565.38,559.82 565.72,559.52C566.05,559.22 566.39,558.92 566.73,558.63C567.06,558.34 567.4,558.05 567.73,557.77C568.07,557.48 568.4,557.2 568.74,556.92C569.08,556.64 569.41,556.37 569.75,556.09C570.08,555.82 570.42,555.55 570.76,555.28C571.09,555.01 571.43,554.75 571.76,554.49C572.1,554.23 572.44,553.97 572.77,553.71C573.11,553.46 573.44,553.2 573.78,552.95C574.12,552.7 574.45,552.45 574.79,552.21C575.12,551.96 575.46,551.72 575.79,551.48C576.13,551.24 576.47,551 576.8,550.76C577.14,550.53 577.47,550.29 577.81,550.06C578.15,549.83 578.48,549.6 578.82,549.37C579.15,549.15 579.49,548.92 579.83,548.7C580.16,548.48 580.5,548.26 580.83,548.04C581.17,547.82 581.51,547.6 581.84,547.38C582.18,547.17 582.51,546.96 582.85,546.74C583.19,546.53 583.52,546.32 583.86,546.11C584.19,545.9 584.53,545.7 584.86,545.49C585.2,545.29 585.54,545.08 585.87,544.88C586.21,544.68 586.54,544.48 586.88,544.28C587.22,544.08 587.55,543.88 587.89,543.68C588.22,543.48 588.56,543.29 588.9,543.09C589.23,542.9 589.57,542.7 589.9,542.51C590.24,542.32 590.58,542.12 590.91,541.93C591.25,541.74 591.58,541.55 591.92,541.36C592.25,541.17 592.59,540.99 592.93,540.8C593.26,540.61 593.6,540.42 593.93,540.24C594.27,540.05 594.61,539.87 594.94,539.68C595.28,539.5 595.61,539.31 595.95,539.13C596.29,538.94 596.62,538.76 596.96,538.58C597.29,538.39 597.63,538.21 597.97,538.03C598.3,537.84 598.64,537.66 598.97,537.48C599.31,537.3 599.65,537.12 599.98,536.93C600.32,536.75 600.65,536.57 600.99,536.39C601.32,536.21 601.66,536.03 602,535.85C602.33,535.67 602.67,535.49 603,535.3C603.34,535.12 603.68,534.94 604.01,534.76C604.35,534.58 604.68,534.4 605.02,534.22C605.36,534.04 605.69,533.86 606.03,533.68C606.36,533.5 606.7,533.32 607.04,533.13C607.37,532.95 607.71,532.77 608.04,532.59C608.38,532.41 608.71,532.22 609.05,532.04C609.39,531.86 609.72,531.68 610.06,531.49C610.39,531.31 610.73,531.13 611.07,530.94C611.4,530.76 611.74,530.57 612.07,530.39C612.41,530.2 612.75,530.02 613.08,529.83C613.42,529.65 613.75,529.46 614.09,529.27C614.43,529.09 614.76,528.9 615.1,528.71C615.43,528.52 615.77,528.33 616.11,528.14C616.44,527.95 616.78,527.76 617.11,527.57C617.45,527.38 617.78,527.18 618.12,526.99C618.46,526.8 618.79,526.6 619.13,526.41C619.46,526.21 619.8,526.02 620.14,525.82C620.47,525.62 620.81,525.43 621.14,525.23C621.48,525.03 621.82,524.83 622.15,524.63C622.49,524.42 622.82,524.22 623.16,524.02C623.5,523.82 623.83,523.61 624.17,523.4C624.5,523.2 624.84,522.99 625.17,522.78C625.51,522.57 625.85,522.36 626.18,522.15C626.52,521.94 626.85,521.73 627.19,521.52C627.53,521.3 627.86,521.09 628.2,520.87C628.53,520.65 628.87,520.43 629.21,520.21C629.54,520 629.88,519.77 630.21,519.55C630.55,519.33 630.89,519.1 631.22,518.88C631.56,518.65 631.89,518.42 632.23,518.19C632.57,517.96 632.9,517.73 633.24,517.5C633.57,517.27 633.91,517.03 634.24,516.79C634.58,516.56 634.92,516.32 635.25,516.08C635.59,515.84 635.92,515.6 636.26,515.35C636.6,515.11 636.93,514.86 637.27,514.61C637.6,514.36 637.94,514.11 638.28,513.86C638.61,513.61 638.95,513.36 639.28,513.1C639.62,512.84 639.96,512.58 640.29,512.32C640.63,512.06 640.96,511.8 641.3,511.53C641.64,511.27 641.97,511 642.31,510.73C642.64,510.46 642.98,510.19 643.31,509.91C643.65,509.64 643.99,509.36 644.32,509.08C644.66,508.8 644.99,508.52 645.33,508.23C645.67,507.95 646,507.66 646.34,507.37C646.67,507.08 647.01,506.79 647.35,506.5C647.68,506.2 648.02,505.91 648.35,505.6C648.69,505.3 649.03,505 649.36,504.7C649.7,504.39 650.03,504.08 650.37,503.77C650.7,503.46 651.04,503.15 651.38,502.83C651.71,502.51 652.05,502.19 652.38,501.87C652.72,501.55 653.06,501.22 653.39,500.89C653.73,500.57 654.23,500.07 654.4,499.9" fill="none" stroke="#1b6fbd" stroke-width="1.45" stroke-linecap="butt" stroke-linejoin="round"/>
<path d="M537.5,602.58C537.67,602.01 538.17,600.25 538.51,599.15C538.84,598.05 539.18,596.99 539.52,595.98C539.85,594.96 540.19,593.98 540.52,593.04C540.86,592.09 541.2,591.19 541.53,590.32C541.87,589.45 542.2,588.62 542.54,587.81C542.87,587.01 543.21,586.24 543.55,585.5C543.88,584.76 544.22,584.06 544.55,583.38C544.89,582.69 545.23,582.04 545.56,581.41C545.9,580.79 546.23,580.19 546.57,579.61C546.91,579.03 547.24,578.47 547.58,577.94C547.91,577.4 548.25,576.89 548.59,576.39C548.92,575.9 549.26,575.42 549.59,574.96C549.93,574.5 550.26,574.05 550.6,573.62C550.94,573.19 551.27,572.77 551.61,572.37C551.94,571.96 552.28,571.57 552.62,571.18C552.95,570.79 553.29,570.42 553.62,570.05C553.96,569.68 554.3,569.31 554.63,568.95C554.97,568.59 555.3,568.24 555.64,567.89C555.98,567.53 556.31,567.19 556.65,566.84C556.98,566.49 557.32,566.15 557.66,565.81C557.99,565.47 558.33,565.14 558.66,564.8C559,564.47 559.33,564.14 559.67,563.81C560.01,563.49 560.34,563.16 560.68,562.84C561.01,562.52 561.35,562.21 561.69,561.89C562.02,561.58 562.36,561.27 562.69,560.96C563.03,560.65 563.37,560.34 563.7,560.04C564.04,559.74 564.37,559.44 564.71,559.14C565.05,558.84 565.38,558.55 565.72,558.26C566.05,557.97 566.39,557.68 566.73,557.39C567.06,557.11 567.4,556.82 567.73,556.54C568.07,556.26 568.4,555.98 568.74,555.71C569.08,555.43 569.41,555.16 569.75,554.89C570.08,554.62 570.42,554.35 570.76,554.08C571.09,553.82 571.43,553.56 571.76,553.29C572.1,553.03 572.44,552.78 572.77,552.52C573.11,552.26 573.44,552.01 573.78,551.76C574.12,551.51 574.45,551.26 574.79,551.01C575.12,550.76 575.46,550.52 575.79,550.28C576.13,550.03 576.47,549.79 576.8,549.55C577.14,549.32 577.47,549.08 577.81,548.84C578.15,548.61 578.48,548.38 578.82,548.15C579.15,547.92 579.49,547.69 579.83,547.46C580.16,547.24 580.5,547.01 580.83,546.79C581.17,546.57 581.51,546.34 581.84,546.12C582.18,545.91 582.51,545.69 582.85,545.47C583.19,545.26 583.52,545.04 583.86,544.83C584.19,544.62 584.53,544.41 584.86,544.2C585.2,543.99 585.54,543.78 585.87,543.58C586.21,543.37 586.54,543.17 586.88,542.96C587.22,542.76 587.55,542.56 587.89,542.36C588.22,542.16 588.56,541.96 588.9,541.76C589.23,541.56 589.57,541.37 589.9,541.17C590.24,540.98 590.58,540.79 590.91,540.59C591.25,540.4 591.58,540.21 591.92,540.02C592.25,539.83 592.59,539.64 592.93,539.45C593.26,539.27 593.6,539.08 593.93,538.9C594.27,538.71 594.61,538.53 594.94,538.34C595.28,538.16 595.61,537.98 595.95,537.8C596.29,537.61 596.62,537.43 596.96,537.25C597.29,537.07 597.63,536.9 597.97,536.72C598.3,536.54 598.64,536.36 598.97,536.18C599.31,536.01 599.65,535.83 599.98,535.66C600.32,535.48 600.65,535.3 600.99,535.13C601.32,534.95 601.66,534.78 602,534.61C602.33,534.43 602.67,534.26 603,534.08C603.34,533.91 603.68,533.74 604.01,533.56C604.35,533.39 604.68,533.22 605.02,533.04C605.36,532.87 605.69,532.7 606.03,532.52C606.36,532.35 606.7,532.18 607.04,532C607.37,531.83 607.71,531.65 608.04,531.48C608.38,531.31 608.71,531.13 609.05,530.96C609.39,530.78 609.72,530.61 610.06,530.43C610.39,530.25 610.73,530.08 611.07,529.9C611.4,529.72 611.74,529.55 612.07,529.37C612.41,529.19 612.75,529.01 613.08,528.83C613.42,528.65 613.75,528.47 614.09,528.29C614.43,528.11 614.76,527.93 615.1,527.74C615.43,527.56 615.77,527.38 616.11,527.19C616.44,527 616.78,526.82 617.11,526.63C617.45,526.44 617.78,526.25 618.12,526.06C618.46,525.87 618.79,525.68 619.13,525.49C619.46,525.3 619.8,525.1 620.14,524.91C620.47,524.71 620.81,524.51 621.14,524.31C621.48,524.12 621.82,523.91 622.15,523.71C622.49,523.51 622.82,523.31 623.16,523.1C623.5,522.9 623.83,522.69 624.17,522.48C624.5,522.27 624.84,522.06 625.17,521.85C625.51,521.63 625.85,521.42 626.18,521.2C626.52,520.98 626.85,520.76 627.19,520.54C627.53,520.32 627.86,520.1 628.2,519.87C628.53,519.65 628.87,519.42 629.21,519.19C629.54,518.97 629.88,518.74 630.21,518.5C630.55,518.27 630.89,518.04 631.22,517.81C631.56,517.57 631.89,517.34 632.23,517.1C632.57,516.86 632.9,516.63 633.24,516.39C633.57,516.15 633.91,515.91 634.24,515.67C634.58,515.43 634.92,515.18 635.25,514.94C635.59,514.7 635.92,514.46 636.26,514.21C636.6,513.97 636.93,513.73 637.27,513.48C637.6,513.24 637.94,512.99 638.28,512.74C638.61,512.5 638.95,512.25 639.28,512.01C639.62,511.76 639.96,511.51 640.29,511.27C640.63,511.02 640.96,510.78 641.3,510.53C641.64,510.28 641.97,510.04 642.31,509.79C642.64,509.55 642.98,509.3 643.31,509.05C643.65,508.81 643.99,508.56 644.32,508.32C644.66,508.08 644.99,507.83 645.33,507.59C645.67,507.35 646,507.1 646.34,506.86C646.67,506.62 647.01,506.38 647.35,506.14C647.68,505.9 648.02,505.66 648.35,505.42C648.69,505.19 649.03,504.95 649.36,504.72C649.7,504.48 650.03,504.25 650.37,504.01C650.7,503.78 651.04,503.55 651.38,503.32C651.71,503.09 652.05,502.86 652.38,502.64C652.72,502.41 653.06,502.19 653.39,501.96C653.73,501.74 654.23,501.41 654.4,501.3" fill="none" stroke="#f8b600" stroke-width="1.45" stroke-linecap="butt" stroke-linejoin="round"/>
<path d="M537.5,599.8C537.67,599.29 538.17,597.74 538.51,596.76C538.84,595.78 539.18,594.83 539.52,593.92C539.85,593 540.19,592.11 540.52,591.25C540.86,590.39 541.2,589.56 541.53,588.75C541.87,587.95 542.2,587.17 542.54,586.42C542.87,585.66 543.21,584.94 543.55,584.23C543.88,583.53 544.22,582.85 544.55,582.19C544.89,581.53 545.23,580.89 545.56,580.28C545.9,579.66 546.23,579.06 546.57,578.48C546.91,577.91 547.24,577.35 547.58,576.81C547.91,576.26 548.25,575.74 548.59,575.23C548.92,574.72 549.26,574.23 549.59,573.76C549.93,573.28 550.26,572.82 550.6,572.37C550.94,571.92 551.27,571.49 551.61,571.06C551.94,570.64 552.28,570.23 552.62,569.83C552.95,569.43 553.29,569.04 553.62,568.66C553.96,568.28 554.3,567.91 554.63,567.55C554.97,567.18 555.3,566.83 555.64,566.48C555.98,566.13 556.31,565.79 556.65,565.46C556.98,565.12 557.32,564.8 557.66,564.47C557.99,564.15 558.33,563.84 558.66,563.53C559,563.22 559.33,562.91 559.67,562.61C560.01,562.31 560.34,562.02 560.68,561.73C561.01,561.44 561.35,561.16 561.69,560.88C562.02,560.59 562.36,560.32 562.69,560.05C563.03,559.77 563.37,559.5 563.7,559.24C564.04,558.97 564.37,558.71 564.71,558.45C565.05,558.18 565.38,557.93 565.72,557.67C566.05,557.41 566.39,557.16 566.73,556.91C567.06,556.65 567.4,556.4 567.73,556.15C568.07,555.9 568.4,555.66 568.74,555.41C569.08,555.16 569.41,554.91 569.75,554.66C570.08,554.42 570.42,554.17 570.76,553.92C571.09,553.67 571.43,553.42 571.76,553.18C572.1,552.93 572.44,552.68 572.77,552.43C573.11,552.19 573.44,551.94 573.78,551.69C574.12,551.45 574.45,551.2 574.79,550.95C575.12,550.71 575.46,550.46 575.79,550.21C576.13,549.97 576.47,549.72 576.8,549.48C577.14,549.24 577.47,548.99 577.81,548.75C578.15,548.51 578.48,548.26 578.82,548.02C579.15,547.78 579.49,547.54 579.83,547.3C580.16,547.06 580.5,546.82 580.83,546.58C581.17,546.34 581.51,546.1 581.84,545.87C582.18,545.63 582.51,545.4 582.85,545.16C583.19,544.93 583.52,544.7 583.86,544.46C584.19,544.23 584.53,544 584.86,543.77C585.2,543.54 585.54,543.32 585.87,543.09C586.21,542.86 586.54,542.64 586.88,542.42C587.22,542.19 587.55,541.97 587.89,541.75C588.22,541.53 588.56,541.31 588.9,541.09C589.23,540.88 589.57,540.66 589.9,540.45C590.24,540.24 590.58,540.03 590.91,539.82C591.25,539.61 591.58,539.4 591.92,539.19C592.25,538.99 592.59,538.78 592.93,538.58C593.26,538.38 593.6,538.18 593.93,537.98C594.27,537.79 594.61,537.59 594.94,537.4C595.28,537.21 595.61,537.02 595.95,536.83C596.29,536.64 596.62,536.46 596.96,536.27C597.29,536.09 597.63,535.91 597.97,535.73C598.3,535.55 598.64,535.37 598.97,535.19C599.31,535.01 599.65,534.84 599.98,534.66C600.32,534.49 600.65,534.32 600.99,534.15C601.32,533.98 601.66,533.81 602,533.64C602.33,533.47 602.67,533.3 603,533.14C603.34,532.97 603.68,532.8 604.01,532.64C604.35,532.47 604.68,532.31 605.02,532.15C605.36,531.98 605.69,531.82 606.03,531.66C606.36,531.49 606.7,531.33 607.04,531.17C607.37,531.01 607.71,530.85 608.04,530.69C608.38,530.52 608.71,530.36 609.05,530.2C609.39,530.04 609.72,529.88 610.06,529.71C610.39,529.55 610.73,529.39 611.07,529.23C611.4,529.06 611.74,528.9 612.07,528.74C612.41,528.57 612.75,528.41 613.08,528.24C613.42,528.08 613.75,527.91 614.09,527.74C614.43,527.58 614.76,527.41 615.1,527.24C615.43,527.07 615.77,526.9 616.11,526.73C616.44,526.55 616.78,526.38 617.11,526.2C617.45,526.03 617.78,525.85 618.12,525.68C618.46,525.5 618.79,525.32 619.13,525.14C619.46,524.95 619.8,524.77 620.14,524.58C620.47,524.4 620.81,524.21 621.14,524.02C621.48,523.83 621.82,523.64 622.15,523.44C622.49,523.25 622.82,523.05 623.16,522.85C623.5,522.65 623.83,522.45 624.17,522.25C624.5,522.04 624.84,521.83 625.17,521.62C625.51,521.41 625.85,521.2 626.18,520.98C626.52,520.77 626.85,520.55 627.19,520.32C627.53,520.1 627.86,519.88 628.2,519.64C628.53,519.41 628.87,519.18 629.21,518.94C629.54,518.7 629.88,518.46 630.21,518.22C630.55,517.97 630.89,517.72 631.22,517.47C631.56,517.21 631.89,516.95 632.23,516.69C632.57,516.42 632.9,516.15 633.24,515.88C633.57,515.6 633.91,515.32 634.24,515.04C634.58,514.75 634.92,514.46 635.25,514.17C635.59,513.87 635.92,513.57 636.26,513.26C636.6,512.95 636.93,512.64 637.27,512.32C637.6,512 637.94,511.67 638.28,511.34C638.61,511.01 638.95,510.67 639.28,510.32C639.62,509.97 639.96,509.62 640.29,509.26C640.63,508.9 640.96,508.53 641.3,508.16C641.64,507.78 641.97,507.4 642.31,507.01C642.64,506.63 642.98,506.23 643.31,505.84C643.65,505.44 643.99,505.03 644.32,504.62C644.66,504.21 644.99,503.8 645.33,503.37C645.67,502.95 646,502.53 646.34,502.1C646.67,501.67 647.01,501.23 647.35,500.8C647.68,500.36 648.02,499.91 648.35,499.47C648.69,499.02 649.03,498.57 649.36,498.11C649.7,497.66 650.03,497.2 650.37,496.74C650.7,496.28 651.04,495.82 651.38,495.35C651.71,494.89 652.05,494.42 652.38,493.95C652.72,493.48 653.06,493 653.39,492.53C653.73,492.05 654.23,491.34 654.4,491.1" fill="none" stroke="#16415f" stroke-width="1.45" stroke-linecap="butt" stroke-linejoin="round"/>
<line x1="569.6" y1="543.1" x2="569.6" y2="586.7" stroke="url(#g11)" stroke-width="2.0"/>
<path d="M569.6,592.4 L567.1,586.2 L569.6,587.2 L572.1,586.2 Z" fill="#c8161d"/>
<line x1="602.9" y1="558.4" x2="602.9" y2="515.1" stroke="url(#g12)" stroke-width="2.0"/>
<path d="M602.9,509.4 L600.4,515.6 L602.9,514.6 L605.4,515.6 Z" fill="#2a7fc0"/>
<text x="570.3" y="602.6" font-size="9.6" text-anchor="middle" fill="#d23c3c" font-weight="normal">Charging</text>
<text x="602.3" y="504" font-size="9.6" text-anchor="middle" fill="#3a8fd4" font-weight="normal">Discharge</text>
<text x="618.6" y="623" font-size="9.72" fill="#231f20">c<tspan dy="3.6" font-size="6.66">pore,Cl</tspan><tspan dy="-2.4" font-size="4.68">−</tspan></text>
<line x1="537.4" y1="451.4" x2="654.4" y2="451.4" stroke="#4d4d4d" stroke-width="0.85"/>
<line x1="537.4" y1="632.4" x2="654.4" y2="632.4" stroke="#4d4d4d" stroke-width="0.85"/>
<line x1="537.4" y1="451.4" x2="537.4" y2="632.4" stroke="#4d4d4d" stroke-width="0.85"/>
<line x1="654.4" y1="451.4" x2="654.4" y2="632.4" stroke="#4d4d4d" stroke-width="0.85"/>
<line x1="537.4" y1="632.4" x2="537.4" y2="635.7" stroke="#4d4d4d" stroke-width="0.85"/>
<line x1="595.9" y1="632.4" x2="595.9" y2="635.7" stroke="#4d4d4d" stroke-width="0.85"/>
<line x1="654.4" y1="632.4" x2="654.4" y2="635.7" stroke="#4d4d4d" stroke-width="0.85"/>
<text x="537.4" y="646" font-size="9.38" text-anchor="middle" fill="#231f20" font-weight="normal" textLength="5.67" lengthAdjust="spacingAndGlyphs">0</text>
<text x="595.9" y="646" font-size="9.38" text-anchor="middle" fill="#231f20" font-weight="normal" textLength="17.02" lengthAdjust="spacingAndGlyphs">200</text>
<text x="654.4" y="646" font-size="9.38" text-anchor="middle" fill="#231f20" font-weight="normal" textLength="17.02" lengthAdjust="spacingAndGlyphs">400</text>
</svg></body></html>
